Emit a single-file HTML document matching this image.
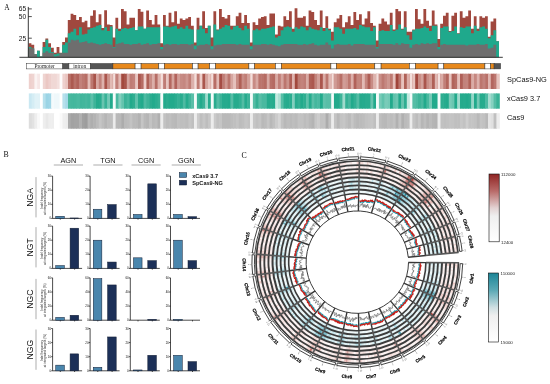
<!DOCTYPE html><html><head><meta charset="utf-8"><title>Figure</title>
<style>html,body{margin:0;padding:0;background:#fff}svg{display:block}text{font-family:"Liberation Sans",sans-serif}.se{font-family:"Liberation Serif",serif}.b{font-weight:bold}</style></head><body>
<svg width="550" height="384" viewBox="0 0 550 384">
<rect width="550" height="384" fill="#fff"/>
<g id="panelA">
<path d="M28.6 57.2V43.35 H31.4V44.8 H34.2V54.28 H37V50.64 H39.8V56.47 H42.6V41.89 H45.4V38.53 H48.2V43.35 H51V47.72 H53.8V52.82 H56.6V46.99 H59.4V52.82 H62.2V41.89 H65V37.51 H67.8V20.01 H70.6V13.74 H73.4V14.91 H76.2V20.01 H79V17.09 H81.8V22.2 H84.6V20.74 H87.4V27.3 H90.2V15.64 H93V10.24 H95.8V22.2 H98.6V14.18 H101.4V28.03 H104.2V10.24 H107V24.39 H109.8V25.12 H112.6V37.51 H115.4V17.82 H118.2V28.76 H121V9.07 H123.8V11.26 H126.6V24.39 H129.4V17.82 H132.2V17.82 H135V30.22 H137.8V9.07 H140.6V11.7 H143.4V28.76 H146.2V10.53 H149V20.01 H151.8V24.39 H154.6V14.91 H157.4V24.39 H160.2V43.35 H163V14.91 H165.8V25.85 H168.6V12.72 H171.4V22.2 H174.2V11.26 H177V23.66 H179.8V18.55 H182.6V20.01 H185.4V18.55 H188.2V17.09 H191V25.85 H193.8V42.62 H196.6V17.82 H199.4V25.85 H202.2V11.26 H205V28.03 H207.8V25.85 H210.6V37.51 H213.4V11.26 H216.2V29.49 H219V9.07 H221.8V17.09 H224.6V18.55 H227.4V14.91 H230.2V25.85 H233V25.85 H235.8V16.37 H238.6V12.72 H241.4V22.93 H244.2V14.91 H247V22.93 H249.8V42.62 H252.6V22.2 H255.4V25.12 H258.2V18.55 H261V17.09 H263.8V16.37 H266.6V25.12 H269.4V13.45 H272.2V13.45 H275V34.6 H277.8V25.85 H280.6V26.57 H283.4V16.37 H286.2V20.01 H289V11.26 H291.8V28.76 H294.6V8.34 H297.4V17.82 H300.2V17.82 H303V16.37 H305.8V25.85 H308.6V10.53 H311.4V11.99 H314.2V20.01 H317V25.12 H319.8V10.53 H322.6V28.03 H325.4V16.37 H328.2V28.76 H331V31.68 H333.8V22.2 H336.6V18.55 H339.4V14.91 H342.2V27.3 H345V22.2 H347.8V16.37 H350.6V25.12 H353.4V11.99 H356.2V20.01 H359V14.18 H361.8V24.39 H364.6V18.55 H367.4V11.26 H370.2V22.93 H373V25.85 H375.8V40.43 H378.6V23.66 H381.4V18.55 H384.2V21.47 H387V24.39 H389.8V12.72 H392.6V29.49 H395.4V9.07 H398.2V11.26 H401V28.76 H403.8V11.26 H406.6V31.68 H409.4V31.68 H412.2V29.49 H415V9.07 H417.8V19.28 H420.6V23.66 H423.4V9.07 H426.2V20.74 H429V25.85 H431.8V10.53 H434.6V24.39 H437.4V38.97 H440.2V23.66 H443V15.64 H445.8V12.72 H448.6V30.95 H451.4V15.64 H454.2V12.72 H457V33.14 H459.8V11.26 H462.6V17.82 H465.4V16.37 H468.2V10.53 H471V28.76 H473.8V16.37 H476.6V28.76 H479.4V16.37 H482.2V17.82 H485V16.37 H487.8V36.78 H490.6V21.47 H493.4V18.55 H496.2V41.16 H499V57.2Z" fill="#a0483e"/>
<path d="M28.6 57.2V46.99 H31.4V48.45 H34.2V54.28 H37V50.64 H39.8V56.47 H42.6V46.99 H45.4V39.7 H48.2V46.99 H51V52.1 H53.8V54.28 H56.6V53.55 H59.4V53.55 H62.2V44.8 H65V42.62 H67.8V33.14 H70.6V31.68 H73.4V28.76 H76.2V35.32 H79V27.3 H81.8V34.6 H84.6V33.87 H87.4V29.49 H90.2V28.03 H93V27.3 H95.8V25.85 H98.6V25.12 H101.4V30.22 H104.2V27.3 H107V30.95 H109.8V26.57 H112.6V46.99 H115.4V28.76 H118.2V30.95 H121V28.76 H123.8V28.03 H126.6V28.76 H129.4V28.03 H132.2V27.3 H135V30.22 H137.8V26.57 H140.6V26.57 H143.4V28.76 H146.2V27.3 H149V27.3 H151.8V27.3 H154.6V27.3 H157.4V27.3 H160.2V46.99 H163V26.57 H165.8V26.57 H168.6V27.3 H171.4V26.57 H174.2V25.85 H177V28.76 H179.8V27.3 H182.6V28.76 H185.4V25.85 H188.2V28.76 H191V29.49 H193.8V45.53 H196.6V29.49 H199.4V25.85 H202.2V28.76 H205V33.14 H207.8V25.85 H210.6V46.26 H213.4V24.39 H216.2V30.22 H219V28.76 H221.8V27.3 H224.6V25.12 H227.4V25.85 H230.2V29.49 H233V26.57 H235.8V25.85 H238.6V28.03 H241.4V30.22 H244.2V25.85 H247V28.76 H249.8V46.26 H252.6V30.22 H255.4V28.76 H258.2V30.22 H261V28.76 H263.8V28.76 H266.6V28.03 H269.4V27.3 H272.2V26.57 H275V37.51 H277.8V36.05 H280.6V30.22 H283.4V27.3 H286.2V26.57 H289V27.3 H291.8V31.68 H294.6V27.3 H297.4V28.76 H300.2V26.57 H303V27.3 H305.8V30.22 H308.6V27.3 H311.4V28.76 H314.2V29.49 H317V30.22 H319.8V27.3 H322.6V30.95 H325.4V28.03 H328.2V30.22 H331V40.43 H333.8V27.3 H336.6V27.3 H339.4V28.76 H342.2V33.87 H345V28.76 H347.8V28.76 H350.6V28.76 H353.4V28.03 H356.2V29.49 H359V25.12 H361.8V26.28 H364.6V27.3 H367.4V27.3 H370.2V30.95 H373V27.3 H375.8V46.99 H378.6V30.95 H381.4V30.22 H384.2V30.95 H387V30.95 H389.8V25.12 H392.6V30.95 H395.4V29.49 H398.2V24.39 H401V29.49 H403.8V27.3 H406.6V35.32 H409.4V39.7 H412.2V30.22 H415V28.76 H417.8V28.76 H420.6V28.03 H423.4V26.57 H426.2V28.03 H429V30.95 H431.8V25.85 H434.6V25.85 H437.4V46.99 H440.2V28.03 H443V26.57 H445.8V26.57 H448.6V31.68 H451.4V30.95 H454.2V26.57 H457V33.87 H459.8V27.3 H462.6V28.03 H465.4V26.57 H468.2V26.57 H471V33.14 H473.8V25.85 H476.6V30.95 H479.4V27.3 H482.2V26.57 H485V28.76 H487.8V38.24 H490.6V35.32 H493.4V30.22 H496.2V41.16 H499V57.2Z" fill="#1fa98c"/>
<path d="M28.6 57.2V48.16 H31.4V48.45 H34.2V54.28 H37V57.2 H39.8V56.76 H42.6V52.82 H45.4V51.37 H48.2V52.82 H51V52.82 H53.8V56.47 H56.6V55.74 H59.4V53.55 H62.2V52.82 H65V52.82 H67.8V42.62 H70.6V39.7 H73.4V40.43 H76.2V39.7 H79V42.62 H81.8V41.89 H84.6V41.16 H87.4V43.35 H90.2V42.62 H93V43.35 H95.8V44.07 H98.6V44.8 H101.4V44.07 H104.2V43.35 H107V44.07 H109.8V44.8 H112.6V47.72 H115.4V44.07 H118.2V43.35 H121V42.62 H123.8V44.07 H126.6V44.07 H129.4V44.8 H132.2V44.07 H135V44.07 H137.8V43.35 H140.6V44.8 H143.4V44.07 H146.2V43.35 H149V44.8 H151.8V44.07 H154.6V44.07 H157.4V43.35 H160.2V49.18 H163V44.8 H165.8V44.07 H168.6V44.8 H171.4V44.07 H174.2V44.07 H177V44.8 H179.8V44.07 H182.6V44.07 H185.4V44.07 H188.2V44.8 H191V44.07 H193.8V49.18 H196.6V45.53 H199.4V44.8 H202.2V44.8 H205V44.07 H207.8V44.8 H210.6V49.18 H213.4V45.53 H216.2V44.8 H219V44.8 H221.8V44.07 H224.6V44.07 H227.4V44.07 H230.2V44.07 H233V44.07 H235.8V44.8 H238.6V44.07 H241.4V44.8 H244.2V44.8 H247V44.8 H249.8V49.18 H252.6V44.8 H255.4V44.8 H258.2V44.8 H261V44.07 H263.8V44.07 H266.6V44.8 H269.4V44.07 H272.2V44.8 H275V45.53 H277.8V46.26 H280.6V44.8 H283.4V44.07 H286.2V44.07 H289V44.07 H291.8V44.07 H294.6V44.07 H297.4V44.8 H300.2V44.8 H303V44.07 H305.8V44.8 H308.6V44.07 H311.4V43.35 H314.2V44.8 H317V45.53 H319.8V44.8 H322.6V44.8 H325.4V42.62 H328.2V44.8 H331V48.45 H333.8V44.8 H336.6V44.07 H339.4V44.8 H342.2V44.8 H345V44.8 H347.8V44.07 H350.6V45.53 H353.4V44.07 H356.2V44.07 H359V44.07 H361.8V44.07 H364.6V44.8 H367.4V44.8 H370.2V44.8 H373V44.8 H375.8V48.45 H378.6V44.07 H381.4V44.07 H384.2V44.07 H387V44.07 H389.8V44.07 H392.6V44.8 H395.4V43.35 H398.2V44.8 H401V43.35 H403.8V44.07 H406.6V44.07 H409.4V47.72 H412.2V44.8 H415V44.07 H417.8V44.8 H420.6V43.35 H423.4V44.07 H426.2V43.35 H429V44.07 H431.8V43.35 H434.6V43.35 H437.4V49.18 H440.2V44.8 H443V44.07 H445.8V44.8 H448.6V44.8 H451.4V44.8 H454.2V44.8 H457V44.8 H459.8V44.8 H462.6V44.8 H465.4V45.53 H468.2V44.8 H471V44.8 H473.8V44.8 H476.6V44.07 H479.4V44.8 H482.2V44.8 H485V44.07 H487.8V48.45 H490.6V47.72 H493.4V44.8 H496.2V57.2 H499V57.2Z" fill="#6e6e6e"/>
<path d="M28.3 6.9V57.3M19.4 57.3H502.8" fill="none" stroke="#222" stroke-width="0.9"/>
<path d="M28.3 8.9 H31.8" stroke="#222" stroke-width="0.8"/>
<text x="26.2" y="11.25" font-size="6.6" text-anchor="end" fill="#111">65</text>
<path d="M28.3 16.6 H31.8" stroke="#222" stroke-width="0.8"/>
<text x="26.2" y="18.95" font-size="6.6" text-anchor="end" fill="#111">50</text>
<path d="M28.3 38.2 H31.8" stroke="#222" stroke-width="0.8"/>
<text x="26.2" y="40.55" font-size="6.6" text-anchor="end" fill="#111">25</text>
<text class="se" x="4.2" y="9.6" font-size="7.4" fill="#111">A</text>
<rect x="26.4" y="63.5" width="36.4" height="5.4" fill="#fff" stroke="#333" stroke-width="0.5"/>
<text class="se" x="44.6" y="67.8" font-size="5.4" text-anchor="middle" fill="#222">Promoter</text>
<rect x="62.8" y="63.5" width="6.1" height="5.4" fill="#555" stroke="#333" stroke-width="0.5"/>
<rect x="68.9" y="63.5" width="21.5" height="5.4" fill="#fff" stroke="#333" stroke-width="0.5"/>
<text class="se" x="79.65" y="67.8" font-size="5.4" text-anchor="middle" fill="#222">intron</text>
<rect x="90.4" y="63.5" width="22.5" height="5.4" fill="#555" stroke="#333" stroke-width="0.5"/>
<rect x="112.9" y="63.5" width="22.2" height="5.4" fill="#e8891c" stroke="#333" stroke-width="0.5"/>
<rect x="135.1" y="63.5" width="6" height="5.4" fill="#fff" stroke="#333" stroke-width="0.5"/>
<rect x="141.1" y="63.5" width="17.7" height="5.4" fill="#e8891c" stroke="#333" stroke-width="0.5"/>
<rect x="158.8" y="63.5" width="5.5" height="5.4" fill="#fff" stroke="#333" stroke-width="0.5"/>
<rect x="164.3" y="63.5" width="28.3" height="5.4" fill="#e8891c" stroke="#333" stroke-width="0.5"/>
<rect x="192.6" y="63.5" width="5.5" height="5.4" fill="#fff" stroke="#333" stroke-width="0.5"/>
<rect x="198.1" y="63.5" width="11.6" height="5.4" fill="#e8891c" stroke="#333" stroke-width="0.5"/>
<rect x="209.7" y="63.5" width="5.9" height="5.4" fill="#fff" stroke="#333" stroke-width="0.5"/>
<rect x="215.6" y="63.5" width="33.3" height="5.4" fill="#e8891c" stroke="#333" stroke-width="0.5"/>
<rect x="248.9" y="63.5" width="5.7" height="5.4" fill="#fff" stroke="#333" stroke-width="0.5"/>
<rect x="254.6" y="63.5" width="20.9" height="5.4" fill="#e8891c" stroke="#333" stroke-width="0.5"/>
<rect x="275.5" y="63.5" width="5.9" height="5.4" fill="#fff" stroke="#333" stroke-width="0.5"/>
<rect x="281.4" y="63.5" width="49.5" height="5.4" fill="#e8891c" stroke="#333" stroke-width="0.5"/>
<rect x="330.9" y="63.5" width="5.4" height="5.4" fill="#fff" stroke="#333" stroke-width="0.5"/>
<rect x="336.3" y="63.5" width="38.5" height="5.4" fill="#e8891c" stroke="#333" stroke-width="0.5"/>
<rect x="374.8" y="63.5" width="6.3" height="5.4" fill="#fff" stroke="#333" stroke-width="0.5"/>
<rect x="381.1" y="63.5" width="28.4" height="5.4" fill="#e8891c" stroke="#333" stroke-width="0.5"/>
<rect x="409.5" y="63.5" width="5.9" height="5.4" fill="#fff" stroke="#333" stroke-width="0.5"/>
<rect x="415.4" y="63.5" width="22.7" height="5.4" fill="#e8891c" stroke="#333" stroke-width="0.5"/>
<rect x="438.1" y="63.5" width="5.7" height="5.4" fill="#fff" stroke="#333" stroke-width="0.5"/>
<rect x="443.8" y="63.5" width="41.1" height="5.4" fill="#e8891c" stroke="#333" stroke-width="0.5"/>
<rect x="484.9" y="63.5" width="5.7" height="5.4" fill="#fff" stroke="#333" stroke-width="0.5"/>
<rect x="490.6" y="63.5" width="3.5" height="5.4" fill="#e8891c" stroke="#333" stroke-width="0.5"/>
<rect x="494.1" y="63.5" width="6.5" height="5.4" fill="#555" stroke="#333" stroke-width="0.5"/>
<defs><filter id="hb" x="-2%" y="-5%" width="104%" height="110%"><feGaussianBlur stdDeviation="0.6 0"/></filter></defs>
<g filter="url(#hb)">
<rect x="28.8" y="73.7" width="3.4" height="15.3" fill="#eed0cd"/>
<rect x="28.8" y="93.4" width="3.4" height="15.3" fill="#cae8f2"/>
<rect x="28.8" y="113.2" width="3.4" height="15.5" fill="#dddddd"/>
<rect x="31.6" y="73.7" width="3.4" height="15.3" fill="#efd4d1"/>
<rect x="31.6" y="93.4" width="3.4" height="15.3" fill="#d5edf4"/>
<rect x="31.6" y="113.2" width="3.4" height="15.5" fill="#e2e2e2"/>
<rect x="34.4" y="73.7" width="3.4" height="15.3" fill="#fbf3f2"/>
<rect x="34.4" y="93.4" width="3.4" height="15.3" fill="#e0f2f7"/>
<rect x="34.4" y="113.2" width="3.4" height="15.5" fill="#eeeeee"/>
<rect x="37.2" y="73.7" width="3.4" height="15.3" fill="#f6e7e6"/>
<rect x="37.2" y="93.4" width="3.4" height="15.3" fill="#e0f2f7"/>
<rect x="37.2" y="113.2" width="3.4" height="15.5" fill="#f9f9f9"/>
<rect x="40" y="73.7" width="3.4" height="15.3" fill="#ffffff"/>
<rect x="40" y="93.4" width="3.4" height="15.3" fill="#ffffff"/>
<rect x="40" y="113.2" width="3.4" height="15.5" fill="#ffffff"/>
<rect x="42.8" y="73.7" width="3.4" height="15.3" fill="#efd4d1"/>
<rect x="42.8" y="93.4" width="3.4" height="15.3" fill="#b6e0ec"/>
<rect x="42.8" y="113.2" width="3.4" height="15.5" fill="#eeeeee"/>
<rect x="45.6" y="73.7" width="3.4" height="15.3" fill="#ebc8c4"/>
<rect x="45.6" y="93.4" width="3.4" height="15.3" fill="#9bd4e5"/>
<rect x="45.6" y="113.2" width="3.4" height="15.5" fill="#e8e8e8"/>
<rect x="48.4" y="73.7" width="3.4" height="15.3" fill="#eed0cd"/>
<rect x="48.4" y="93.4" width="3.4" height="15.3" fill="#a0d6e7"/>
<rect x="48.4" y="113.2" width="3.4" height="15.5" fill="#eeeeee"/>
<rect x="51.2" y="73.7" width="3.4" height="15.3" fill="#f0d8d5"/>
<rect x="51.2" y="93.4" width="3.4" height="15.3" fill="#f4fafc"/>
<rect x="51.2" y="113.2" width="3.4" height="15.5" fill="#eeeeee"/>
<rect x="54" y="73.7" width="3.4" height="15.3" fill="#f0d8d5"/>
<rect x="54" y="93.4" width="3.4" height="15.3" fill="#eff8fb"/>
<rect x="54" y="113.2" width="3.4" height="15.5" fill="#ffffff"/>
<rect x="56.8" y="73.7" width="3.4" height="15.3" fill="#f3dfdd"/>
<rect x="56.8" y="93.4" width="3.4" height="15.3" fill="#eff8fb"/>
<rect x="56.8" y="113.2" width="3.4" height="15.5" fill="#ffffff"/>
<rect x="59.6" y="73.7" width="3.4" height="15.3" fill="#fefbfb"/>
<rect x="59.6" y="93.4" width="3.4" height="15.3" fill="#ffffff"/>
<rect x="59.6" y="113.2" width="3.4" height="15.5" fill="#f9f9f9"/>
<rect x="62.4" y="73.7" width="3.4" height="15.3" fill="#eed0cd"/>
<rect x="62.4" y="93.4" width="3.4" height="15.3" fill="#b6e0ec"/>
<rect x="62.4" y="113.2" width="3.4" height="15.5" fill="#eeeeee"/>
<rect x="65.2" y="73.7" width="3.4" height="15.3" fill="#e9c4c0"/>
<rect x="65.2" y="93.4" width="3.4" height="15.3" fill="#a6d9e8"/>
<rect x="65.2" y="113.2" width="3.4" height="15.5" fill="#ebebeb"/>
<rect x="68" y="73.7" width="3.4" height="15.3" fill="#b97169"/>
<rect x="68" y="93.4" width="3.4" height="15.3" fill="#49b89f"/>
<rect x="68" y="113.2" width="3.4" height="15.5" fill="#ababab"/>
<rect x="70.8" y="73.7" width="3.4" height="15.3" fill="#ac5a51"/>
<rect x="70.8" y="93.4" width="3.4" height="15.3" fill="#44b79d"/>
<rect x="70.8" y="113.2" width="3.4" height="15.5" fill="#a2a2a2"/>
<rect x="73.6" y="73.7" width="3.4" height="15.3" fill="#b97169"/>
<rect x="73.6" y="93.4" width="3.4" height="15.3" fill="#44b79d"/>
<rect x="73.6" y="113.2" width="3.4" height="15.5" fill="#a4a4a4"/>
<rect x="76.4" y="73.7" width="3.4" height="15.3" fill="#b1635b"/>
<rect x="76.4" y="93.4" width="3.4" height="15.3" fill="#4ab9a0"/>
<rect x="76.4" y="113.2" width="3.4" height="15.5" fill="#a4a4a4"/>
<rect x="79.2" y="73.7" width="3.4" height="15.3" fill="#c2817a"/>
<rect x="79.2" y="93.4" width="3.4" height="15.3" fill="#40b59b"/>
<rect x="79.2" y="113.2" width="3.4" height="15.5" fill="#b0b0b0"/>
<rect x="82" y="73.7" width="3.4" height="15.3" fill="#bc776f"/>
<rect x="82" y="93.4" width="3.4" height="15.3" fill="#43b69c"/>
<rect x="82" y="113.2" width="3.4" height="15.5" fill="#a1a1a1"/>
<rect x="84.8" y="73.7" width="3.4" height="15.3" fill="#b76e66"/>
<rect x="84.8" y="93.4" width="3.4" height="15.3" fill="#46b79e"/>
<rect x="84.8" y="113.2" width="3.4" height="15.5" fill="#9d9d9d"/>
<rect x="87.6" y="73.7" width="3.4" height="15.3" fill="#e2bbb6"/>
<rect x="87.6" y="93.4" width="3.4" height="15.3" fill="#40b59b"/>
<rect x="87.6" y="113.2" width="3.4" height="15.5" fill="#b6b6b6"/>
<rect x="90.4" y="73.7" width="3.4" height="15.3" fill="#bd7870"/>
<rect x="90.4" y="93.4" width="3.4" height="15.3" fill="#5cc0aa"/>
<rect x="90.4" y="113.2" width="3.4" height="15.5" fill="#aeaeae"/>
<rect x="93.2" y="73.7" width="3.4" height="15.3" fill="#a9544b"/>
<rect x="93.2" y="93.4" width="3.4" height="15.3" fill="#3cb499"/>
<rect x="93.2" y="113.2" width="3.4" height="15.5" fill="#b3b3b3"/>
<rect x="96" y="73.7" width="3.4" height="15.3" fill="#d8a8a3"/>
<rect x="96" y="93.4" width="3.4" height="15.3" fill="#26ab8d"/>
<rect x="96" y="113.2" width="3.4" height="15.5" fill="#bbbbbb"/>
<rect x="98.8" y="73.7" width="3.4" height="15.3" fill="#c2827b"/>
<rect x="98.8" y="93.4" width="3.4" height="15.3" fill="#29ac8f"/>
<rect x="98.8" y="113.2" width="3.4" height="15.5" fill="#c5c5c5"/>
<rect x="101.6" y="73.7" width="3.4" height="15.3" fill="#ddb2ad"/>
<rect x="101.6" y="93.4" width="3.4" height="15.3" fill="#67c4af"/>
<rect x="101.6" y="113.2" width="3.4" height="15.5" fill="#bdbdbd"/>
<rect x="104.4" y="73.7" width="3.4" height="15.3" fill="#ab574e"/>
<rect x="104.4" y="93.4" width="3.4" height="15.3" fill="#39b297"/>
<rect x="104.4" y="113.2" width="3.4" height="15.5" fill="#b5b5b5"/>
<rect x="107.2" y="73.7" width="3.4" height="15.3" fill="#cc938c"/>
<rect x="107.2" y="93.4" width="3.4" height="15.3" fill="#72c9b5"/>
<rect x="107.2" y="113.2" width="3.4" height="15.5" fill="#bdbdbd"/>
<rect x="110" y="73.7" width="3.4" height="15.3" fill="#e1bab4"/>
<rect x="110" y="93.4" width="3.4" height="15.3" fill="#24aa8c"/>
<rect x="110" y="113.2" width="3.4" height="15.5" fill="#bfbfbf"/>
<rect x="112.8" y="73.7" width="3.4" height="15.3" fill="#c2817a"/>
<rect x="112.8" y="93.4" width="3.4" height="15.3" fill="#f0faf7"/>
<rect x="112.8" y="113.2" width="3.4" height="15.5" fill="#dcdcdc"/>
<rect x="115.6" y="73.7" width="3.4" height="15.3" fill="#c2817a"/>
<rect x="115.6" y="93.4" width="3.4" height="15.3" fill="#49b9a0"/>
<rect x="115.6" y="113.2" width="3.4" height="15.5" fill="#b9b9b9"/>
<rect x="118.4" y="73.7" width="3.4" height="15.3" fill="#e2bab5"/>
<rect x="118.4" y="93.4" width="3.4" height="15.3" fill="#82cfbd"/>
<rect x="118.4" y="113.2" width="3.4" height="15.5" fill="#b8b8b8"/>
<rect x="121.2" y="73.7" width="3.4" height="15.3" fill="#a2483e"/>
<rect x="121.2" y="93.4" width="3.4" height="15.3" fill="#63c3ad"/>
<rect x="121.2" y="113.2" width="3.4" height="15.5" fill="#acacac"/>
<rect x="124" y="73.7" width="3.4" height="15.3" fill="#a9554b"/>
<rect x="124" y="93.4" width="3.4" height="15.3" fill="#3bb398"/>
<rect x="124" y="113.2" width="3.4" height="15.5" fill="#bababa"/>
<rect x="126.8" y="73.7" width="3.4" height="15.3" fill="#d5a49e"/>
<rect x="126.8" y="93.4" width="3.4" height="15.3" fill="#47b89f"/>
<rect x="126.8" y="113.2" width="3.4" height="15.5" fill="#bcbcbc"/>
<rect x="129.6" y="73.7" width="3.4" height="15.3" fill="#bf7b74"/>
<rect x="129.6" y="93.4" width="3.4" height="15.3" fill="#24aa8c"/>
<rect x="129.6" y="113.2" width="3.4" height="15.5" fill="#c3c3c3"/>
<rect x="132.4" y="73.7" width="3.4" height="15.3" fill="#c3827b"/>
<rect x="132.4" y="93.4" width="3.4" height="15.3" fill="#2eae91"/>
<rect x="132.4" y="113.2" width="3.4" height="15.5" fill="#bababa"/>
<rect x="135.2" y="73.7" width="3.4" height="15.3" fill="#e8c6c2"/>
<rect x="135.2" y="93.4" width="3.4" height="15.3" fill="#60c2ac"/>
<rect x="135.2" y="113.2" width="3.4" height="15.5" fill="#b9b9b9"/>
<rect x="138" y="73.7" width="3.4" height="15.3" fill="#ac5950"/>
<rect x="138" y="93.4" width="3.4" height="15.3" fill="#2aac8f"/>
<rect x="138" y="113.2" width="3.4" height="15.5" fill="#b2b2b2"/>
<rect x="140.8" y="73.7" width="3.4" height="15.3" fill="#b66c63"/>
<rect x="140.8" y="93.4" width="3.4" height="15.3" fill="#24aa8c"/>
<rect x="140.8" y="113.2" width="3.4" height="15.5" fill="#c5c5c5"/>
<rect x="143.6" y="73.7" width="3.4" height="15.3" fill="#edceca"/>
<rect x="143.6" y="93.4" width="3.4" height="15.3" fill="#4ebaa2"/>
<rect x="143.6" y="113.2" width="3.4" height="15.5" fill="#b9b9b9"/>
<rect x="146.4" y="73.7" width="3.4" height="15.3" fill="#af6057"/>
<rect x="146.4" y="93.4" width="3.4" height="15.3" fill="#3cb398"/>
<rect x="146.4" y="113.2" width="3.4" height="15.5" fill="#b5b5b5"/>
<rect x="149.2" y="73.7" width="3.4" height="15.3" fill="#c88d86"/>
<rect x="149.2" y="93.4" width="3.4" height="15.3" fill="#29ac8f"/>
<rect x="149.2" y="113.2" width="3.4" height="15.5" fill="#c3c3c3"/>
<rect x="152" y="73.7" width="3.4" height="15.3" fill="#dbafa9"/>
<rect x="152" y="93.4" width="3.4" height="15.3" fill="#24aa8c"/>
<rect x="152" y="113.2" width="3.4" height="15.5" fill="#b9b9b9"/>
<rect x="154.8" y="73.7" width="3.4" height="15.3" fill="#b76e66"/>
<rect x="154.8" y="93.4" width="3.4" height="15.3" fill="#2bad90"/>
<rect x="154.8" y="113.2" width="3.4" height="15.5" fill="#bcbcbc"/>
<rect x="157.6" y="73.7" width="3.4" height="15.3" fill="#ddb2ac"/>
<rect x="157.6" y="93.4" width="3.4" height="15.3" fill="#34b094"/>
<rect x="157.6" y="113.2" width="3.4" height="15.5" fill="#b0b0b0"/>
<rect x="160.4" y="73.7" width="3.4" height="15.3" fill="#dcafaa"/>
<rect x="160.4" y="93.4" width="3.4" height="15.3" fill="#f0faf7"/>
<rect x="160.4" y="113.2" width="3.4" height="15.5" fill="#f0f0f0"/>
<rect x="163.2" y="73.7" width="3.4" height="15.3" fill="#bf7b74"/>
<rect x="163.2" y="93.4" width="3.4" height="15.3" fill="#24aa8c"/>
<rect x="163.2" y="113.2" width="3.4" height="15.5" fill="#c2c2c2"/>
<rect x="166" y="73.7" width="3.4" height="15.3" fill="#e7c4c0"/>
<rect x="166" y="93.4" width="3.4" height="15.3" fill="#2aac8f"/>
<rect x="166" y="113.2" width="3.4" height="15.5" fill="#bcbcbc"/>
<rect x="168.8" y="73.7" width="3.4" height="15.3" fill="#b46860"/>
<rect x="168.8" y="93.4" width="3.4" height="15.3" fill="#24aa8c"/>
<rect x="168.8" y="113.2" width="3.4" height="15.5" fill="#bfbfbf"/>
<rect x="171.6" y="73.7" width="3.4" height="15.3" fill="#d5a39c"/>
<rect x="171.6" y="93.4" width="3.4" height="15.3" fill="#24aa8c"/>
<rect x="171.6" y="113.2" width="3.4" height="15.5" fill="#bababa"/>
<rect x="174.4" y="73.7" width="3.4" height="15.3" fill="#b2645b"/>
<rect x="174.4" y="93.4" width="3.4" height="15.3" fill="#29ac8f"/>
<rect x="174.4" y="113.2" width="3.4" height="15.5" fill="#b8b8b8"/>
<rect x="177.2" y="73.7" width="3.4" height="15.3" fill="#d19c96"/>
<rect x="177.2" y="93.4" width="3.4" height="15.3" fill="#34b094"/>
<rect x="177.2" y="113.2" width="3.4" height="15.5" fill="#c0c0c0"/>
<rect x="180" y="73.7" width="3.4" height="15.3" fill="#c78b84"/>
<rect x="180" y="93.4" width="3.4" height="15.3" fill="#29ac8f"/>
<rect x="180" y="113.2" width="3.4" height="15.5" fill="#bebebe"/>
<rect x="182.8" y="73.7" width="3.4" height="15.3" fill="#c58780"/>
<rect x="182.8" y="93.4" width="3.4" height="15.3" fill="#4ebaa2"/>
<rect x="182.8" y="113.2" width="3.4" height="15.5" fill="#bfbfbf"/>
<rect x="185.6" y="73.7" width="3.4" height="15.3" fill="#ce9690"/>
<rect x="185.6" y="93.4" width="3.4" height="15.3" fill="#28ac8e"/>
<rect x="185.6" y="113.2" width="3.4" height="15.5" fill="#bcbcbc"/>
<rect x="188.4" y="73.7" width="3.4" height="15.3" fill="#c07e76"/>
<rect x="188.4" y="93.4" width="3.4" height="15.3" fill="#3fb49a"/>
<rect x="188.4" y="113.2" width="3.4" height="15.5" fill="#c5c5c5"/>
<rect x="191.2" y="73.7" width="3.4" height="15.3" fill="#dcb0ab"/>
<rect x="191.2" y="93.4" width="3.4" height="15.3" fill="#59bfa8"/>
<rect x="191.2" y="113.2" width="3.4" height="15.5" fill="#bfbfbf"/>
<rect x="194" y="73.7" width="3.4" height="15.3" fill="#d9aaa4"/>
<rect x="194" y="93.4" width="3.4" height="15.3" fill="#ecf8f5"/>
<rect x="194" y="113.2" width="3.4" height="15.5" fill="#f0f0f0"/>
<rect x="196.8" y="73.7" width="3.4" height="15.3" fill="#bf7b73"/>
<rect x="196.8" y="93.4" width="3.4" height="15.3" fill="#3ab398"/>
<rect x="196.8" y="113.2" width="3.4" height="15.5" fill="#cbcbcb"/>
<rect x="199.6" y="73.7" width="3.4" height="15.3" fill="#edceca"/>
<rect x="199.6" y="93.4" width="3.4" height="15.3" fill="#24aa8c"/>
<rect x="199.6" y="113.2" width="3.4" height="15.5" fill="#bebebe"/>
<rect x="202.4" y="73.7" width="3.4" height="15.3" fill="#aa574d"/>
<rect x="202.4" y="93.4" width="3.4" height="15.3" fill="#39b297"/>
<rect x="202.4" y="113.2" width="3.4" height="15.5" fill="#c6c6c6"/>
<rect x="205.2" y="73.7" width="3.4" height="15.3" fill="#d6a6a0"/>
<rect x="205.2" y="93.4" width="3.4" height="15.3" fill="#9ddacc"/>
<rect x="205.2" y="113.2" width="3.4" height="15.5" fill="#bdbdbd"/>
<rect x="208" y="73.7" width="3.4" height="15.3" fill="#e7c4bf"/>
<rect x="208" y="93.4" width="3.4" height="15.3" fill="#28ac8e"/>
<rect x="208" y="113.2" width="3.4" height="15.5" fill="#c6c6c6"/>
<rect x="210.8" y="73.7" width="3.4" height="15.3" fill="#c3837b"/>
<rect x="210.8" y="93.4" width="3.4" height="15.3" fill="#effaf7"/>
<rect x="210.8" y="113.2" width="3.4" height="15.5" fill="#f0f0f0"/>
<rect x="213.6" y="73.7" width="3.4" height="15.3" fill="#b86e66"/>
<rect x="213.6" y="93.4" width="3.4" height="15.3" fill="#2aac8f"/>
<rect x="213.6" y="113.2" width="3.4" height="15.5" fill="#cacaca"/>
<rect x="216.4" y="73.7" width="3.4" height="15.3" fill="#e2bab5"/>
<rect x="216.4" y="93.4" width="3.4" height="15.3" fill="#53bca5"/>
<rect x="216.4" y="113.2" width="3.4" height="15.5" fill="#c1c1c1"/>
<rect x="219.2" y="73.7" width="3.4" height="15.3" fill="#a54e44"/>
<rect x="219.2" y="93.4" width="3.4" height="15.3" fill="#3ab398"/>
<rect x="219.2" y="113.2" width="3.4" height="15.5" fill="#c5c5c5"/>
<rect x="222" y="73.7" width="3.4" height="15.3" fill="#bf7c75"/>
<rect x="222" y="93.4" width="3.4" height="15.3" fill="#28ab8e"/>
<rect x="222" y="113.2" width="3.4" height="15.5" fill="#b9b9b9"/>
<rect x="224.8" y="73.7" width="3.4" height="15.3" fill="#cf9993"/>
<rect x="224.8" y="93.4" width="3.4" height="15.3" fill="#27ab8e"/>
<rect x="224.8" y="113.2" width="3.4" height="15.5" fill="#b9b9b9"/>
<rect x="227.6" y="73.7" width="3.4" height="15.3" fill="#bb756d"/>
<rect x="227.6" y="93.4" width="3.4" height="15.3" fill="#24aa8c"/>
<rect x="227.6" y="113.2" width="3.4" height="15.5" fill="#b9b9b9"/>
<rect x="230.4" y="73.7" width="3.4" height="15.3" fill="#d6a6a0"/>
<rect x="230.4" y="93.4" width="3.4" height="15.3" fill="#55bda6"/>
<rect x="230.4" y="113.2" width="3.4" height="15.5" fill="#bdbdbd"/>
<rect x="233.2" y="73.7" width="3.4" height="15.3" fill="#e5c1bc"/>
<rect x="233.2" y="93.4" width="3.4" height="15.3" fill="#26ab8d"/>
<rect x="233.2" y="113.2" width="3.4" height="15.5" fill="#bfbfbf"/>
<rect x="236" y="73.7" width="3.4" height="15.3" fill="#c88b84"/>
<rect x="236" y="93.4" width="3.4" height="15.3" fill="#27ab8d"/>
<rect x="236" y="113.2" width="3.4" height="15.5" fill="#c4c4c4"/>
<rect x="238.8" y="73.7" width="3.4" height="15.3" fill="#af6057"/>
<rect x="238.8" y="93.4" width="3.4" height="15.3" fill="#33b094"/>
<rect x="238.8" y="113.2" width="3.4" height="15.5" fill="#bcbcbc"/>
<rect x="241.6" y="73.7" width="3.4" height="15.3" fill="#c88c85"/>
<rect x="241.6" y="93.4" width="3.4" height="15.3" fill="#52bca4"/>
<rect x="241.6" y="113.2" width="3.4" height="15.5" fill="#bfbfbf"/>
<rect x="244.4" y="73.7" width="3.4" height="15.3" fill="#c07e76"/>
<rect x="244.4" y="93.4" width="3.4" height="15.3" fill="#27ab8e"/>
<rect x="244.4" y="113.2" width="3.4" height="15.5" fill="#c5c5c5"/>
<rect x="247.2" y="73.7" width="3.4" height="15.3" fill="#d3a09a"/>
<rect x="247.2" y="93.4" width="3.4" height="15.3" fill="#3cb399"/>
<rect x="247.2" y="113.2" width="3.4" height="15.5" fill="#c1c1c1"/>
<rect x="250" y="73.7" width="3.4" height="15.3" fill="#d6a59f"/>
<rect x="250" y="93.4" width="3.4" height="15.3" fill="#ecf8f5"/>
<rect x="250" y="113.2" width="3.4" height="15.5" fill="#efefef"/>
<rect x="252.8" y="73.7" width="3.4" height="15.3" fill="#c88b84"/>
<rect x="252.8" y="93.4" width="3.4" height="15.3" fill="#54bda5"/>
<rect x="252.8" y="113.2" width="3.4" height="15.5" fill="#c6c6c6"/>
<rect x="255.6" y="73.7" width="3.4" height="15.3" fill="#d8a8a2"/>
<rect x="255.6" y="93.4" width="3.4" height="15.3" fill="#34b094"/>
<rect x="255.6" y="113.2" width="3.4" height="15.5" fill="#c0c0c0"/>
<rect x="258.4" y="73.7" width="3.4" height="15.3" fill="#bb746c"/>
<rect x="258.4" y="93.4" width="3.4" height="15.3" fill="#58bea7"/>
<rect x="258.4" y="113.2" width="3.4" height="15.5" fill="#c5c5c5"/>
<rect x="261.2" y="73.7" width="3.4" height="15.3" fill="#ba736b"/>
<rect x="261.2" y="93.4" width="3.4" height="15.3" fill="#4ab9a0"/>
<rect x="261.2" y="113.2" width="3.4" height="15.5" fill="#b9b9b9"/>
<rect x="264" y="73.7" width="3.4" height="15.3" fill="#b66c64"/>
<rect x="264" y="93.4" width="3.4" height="15.3" fill="#4ab9a0"/>
<rect x="264" y="113.2" width="3.4" height="15.5" fill="#bcbcbc"/>
<rect x="266.8" y="73.7" width="3.4" height="15.3" fill="#d8a9a3"/>
<rect x="266.8" y="93.4" width="3.4" height="15.3" fill="#25ab8d"/>
<rect x="266.8" y="113.2" width="3.4" height="15.5" fill="#c5c5c5"/>
<rect x="269.6" y="73.7" width="3.4" height="15.3" fill="#b87068"/>
<rect x="269.6" y="93.4" width="3.4" height="15.3" fill="#2cad90"/>
<rect x="269.6" y="113.2" width="3.4" height="15.5" fill="#b8b8b8"/>
<rect x="272.4" y="73.7" width="3.4" height="15.3" fill="#b56b62"/>
<rect x="272.4" y="93.4" width="3.4" height="15.3" fill="#28ac8e"/>
<rect x="272.4" y="113.2" width="3.4" height="15.5" fill="#c0c0c0"/>
<rect x="275.2" y="73.7" width="3.4" height="15.3" fill="#d8a9a3"/>
<rect x="275.2" y="93.4" width="3.4" height="15.3" fill="#c4e9e0"/>
<rect x="275.2" y="113.2" width="3.4" height="15.5" fill="#cbcbcb"/>
<rect x="278" y="73.7" width="3.4" height="15.3" fill="#c17f78"/>
<rect x="278" y="93.4" width="3.4" height="15.3" fill="#acdfd3"/>
<rect x="278" y="113.2" width="3.4" height="15.5" fill="#d5d5d5"/>
<rect x="280.8" y="73.7" width="3.4" height="15.3" fill="#d5a49e"/>
<rect x="280.8" y="93.4" width="3.4" height="15.3" fill="#56bea6"/>
<rect x="280.8" y="113.2" width="3.4" height="15.5" fill="#c2c2c2"/>
<rect x="283.6" y="73.7" width="3.4" height="15.3" fill="#bc766e"/>
<rect x="283.6" y="93.4" width="3.4" height="15.3" fill="#29ac8f"/>
<rect x="283.6" y="113.2" width="3.4" height="15.5" fill="#b8b8b8"/>
<rect x="286.4" y="73.7" width="3.4" height="15.3" fill="#cb928b"/>
<rect x="286.4" y="93.4" width="3.4" height="15.3" fill="#28ab8e"/>
<rect x="286.4" y="113.2" width="3.4" height="15.5" fill="#bdbdbd"/>
<rect x="289.2" y="73.7" width="3.4" height="15.3" fill="#b06158"/>
<rect x="289.2" y="93.4" width="3.4" height="15.3" fill="#2bad90"/>
<rect x="289.2" y="113.2" width="3.4" height="15.5" fill="#bababa"/>
<rect x="292" y="73.7" width="3.4" height="15.3" fill="#deb3ae"/>
<rect x="292" y="93.4" width="3.4" height="15.3" fill="#83cfbe"/>
<rect x="292" y="113.2" width="3.4" height="15.5" fill="#bebebe"/>
<rect x="294.8" y="73.7" width="3.4" height="15.3" fill="#a2483e"/>
<rect x="294.8" y="93.4" width="3.4" height="15.3" fill="#2aac8f"/>
<rect x="294.8" y="113.2" width="3.4" height="15.5" fill="#bbbbbb"/>
<rect x="297.6" y="73.7" width="3.4" height="15.3" fill="#be7b73"/>
<rect x="297.6" y="93.4" width="3.4" height="15.3" fill="#34b094"/>
<rect x="297.6" y="113.2" width="3.4" height="15.5" fill="#c3c3c3"/>
<rect x="300.4" y="73.7" width="3.4" height="15.3" fill="#c3837c"/>
<rect x="300.4" y="93.4" width="3.4" height="15.3" fill="#24aa8c"/>
<rect x="300.4" y="113.2" width="3.4" height="15.5" fill="#c2c2c2"/>
<rect x="303.2" y="73.7" width="3.4" height="15.3" fill="#bf7b74"/>
<rect x="303.2" y="93.4" width="3.4" height="15.3" fill="#2eae91"/>
<rect x="303.2" y="113.2" width="3.4" height="15.5" fill="#bcbcbc"/>
<rect x="306" y="73.7" width="3.4" height="15.3" fill="#d9aaa4"/>
<rect x="306" y="93.4" width="3.4" height="15.3" fill="#5ec1aa"/>
<rect x="306" y="113.2" width="3.4" height="15.5" fill="#c0c0c0"/>
<rect x="308.8" y="73.7" width="3.4" height="15.3" fill="#af5f56"/>
<rect x="308.8" y="93.4" width="3.4" height="15.3" fill="#28ac8e"/>
<rect x="308.8" y="113.2" width="3.4" height="15.5" fill="#b9b9b9"/>
<rect x="311.6" y="73.7" width="3.4" height="15.3" fill="#ac5950"/>
<rect x="311.6" y="93.4" width="3.4" height="15.3" fill="#5abfa8"/>
<rect x="311.6" y="113.2" width="3.4" height="15.5" fill="#b4b4b4"/>
<rect x="314.4" y="73.7" width="3.4" height="15.3" fill="#c3847c"/>
<rect x="314.4" y="93.4" width="3.4" height="15.3" fill="#45b79d"/>
<rect x="314.4" y="113.2" width="3.4" height="15.5" fill="#c6c6c6"/>
<rect x="317.2" y="73.7" width="3.4" height="15.3" fill="#d39f99"/>
<rect x="317.2" y="93.4" width="3.4" height="15.3" fill="#4bb9a1"/>
<rect x="317.2" y="113.2" width="3.4" height="15.5" fill="#cccccc"/>
<rect x="320" y="73.7" width="3.4" height="15.3" fill="#aa564d"/>
<rect x="320" y="93.4" width="3.4" height="15.3" fill="#24aa8c"/>
<rect x="320" y="113.2" width="3.4" height="15.5" fill="#c2c2c2"/>
<rect x="322.8" y="73.7" width="3.4" height="15.3" fill="#daaca6"/>
<rect x="322.8" y="93.4" width="3.4" height="15.3" fill="#61c2ac"/>
<rect x="322.8" y="113.2" width="3.4" height="15.5" fill="#c3c3c3"/>
<rect x="325.6" y="73.7" width="3.4" height="15.3" fill="#bc766e"/>
<rect x="325.6" y="93.4" width="3.4" height="15.3" fill="#58bea7"/>
<rect x="325.6" y="113.2" width="3.4" height="15.5" fill="#acacac"/>
<rect x="328.4" y="73.7" width="3.4" height="15.3" fill="#e0b8b3"/>
<rect x="328.4" y="93.4" width="3.4" height="15.3" fill="#58bea7"/>
<rect x="328.4" y="113.2" width="3.4" height="15.5" fill="#c2c2c2"/>
<rect x="331.2" y="73.7" width="3.4" height="15.3" fill="#c78982"/>
<rect x="331.2" y="93.4" width="3.4" height="15.3" fill="#c1e7de"/>
<rect x="331.2" y="113.2" width="3.4" height="15.5" fill="#e6e6e6"/>
<rect x="334" y="73.7" width="3.4" height="15.3" fill="#d09b95"/>
<rect x="334" y="93.4" width="3.4" height="15.3" fill="#24aa8c"/>
<rect x="334" y="113.2" width="3.4" height="15.5" fill="#c4c4c4"/>
<rect x="336.8" y="73.7" width="3.4" height="15.3" fill="#c68881"/>
<rect x="336.8" y="93.4" width="3.4" height="15.3" fill="#24aa8c"/>
<rect x="336.8" y="113.2" width="3.4" height="15.5" fill="#b8b8b8"/>
<rect x="339.6" y="73.7" width="3.4" height="15.3" fill="#b87068"/>
<rect x="339.6" y="93.4" width="3.4" height="15.3" fill="#3db499"/>
<rect x="339.6" y="113.2" width="3.4" height="15.5" fill="#c3c3c3"/>
<rect x="342.4" y="73.7" width="3.4" height="15.3" fill="#d19d97"/>
<rect x="342.4" y="93.4" width="3.4" height="15.3" fill="#9fdacc"/>
<rect x="342.4" y="113.2" width="3.4" height="15.5" fill="#c6c6c6"/>
<rect x="345.2" y="73.7" width="3.4" height="15.3" fill="#cd948e"/>
<rect x="345.2" y="93.4" width="3.4" height="15.3" fill="#35b195"/>
<rect x="345.2" y="113.2" width="3.4" height="15.5" fill="#bfbfbf"/>
<rect x="348" y="73.7" width="3.4" height="15.3" fill="#bd7870"/>
<rect x="348" y="93.4" width="3.4" height="15.3" fill="#46b79e"/>
<rect x="348" y="113.2" width="3.4" height="15.5" fill="#bababa"/>
<rect x="350.8" y="73.7" width="3.4" height="15.3" fill="#dcafaa"/>
<rect x="350.8" y="93.4" width="3.4" height="15.3" fill="#24aa8c"/>
<rect x="350.8" y="113.2" width="3.4" height="15.5" fill="#c6c6c6"/>
<rect x="353.6" y="73.7" width="3.4" height="15.3" fill="#b1625a"/>
<rect x="353.6" y="93.4" width="3.4" height="15.3" fill="#33b094"/>
<rect x="353.6" y="113.2" width="3.4" height="15.5" fill="#bcbcbc"/>
<rect x="356.4" y="73.7" width="3.4" height="15.3" fill="#c4857d"/>
<rect x="356.4" y="93.4" width="3.4" height="15.3" fill="#52bca4"/>
<rect x="356.4" y="113.2" width="3.4" height="15.5" fill="#b8b8b8"/>
<rect x="359.2" y="73.7" width="3.4" height="15.3" fill="#c28179"/>
<rect x="359.2" y="93.4" width="3.4" height="15.3" fill="#25aa8c"/>
<rect x="359.2" y="113.2" width="3.4" height="15.5" fill="#bbbbbb"/>
<rect x="362" y="73.7" width="3.4" height="15.3" fill="#e1bab4"/>
<rect x="362" y="93.4" width="3.4" height="15.3" fill="#28ab8e"/>
<rect x="362" y="113.2" width="3.4" height="15.5" fill="#bdbdbd"/>
<rect x="364.8" y="73.7" width="3.4" height="15.3" fill="#c5867f"/>
<rect x="364.8" y="93.4" width="3.4" height="15.3" fill="#2aac8f"/>
<rect x="364.8" y="113.2" width="3.4" height="15.5" fill="#c2c2c2"/>
<rect x="367.6" y="73.7" width="3.4" height="15.3" fill="#af5f56"/>
<rect x="367.6" y="93.4" width="3.4" height="15.3" fill="#2aac8f"/>
<rect x="367.6" y="113.2" width="3.4" height="15.5" fill="#c4c4c4"/>
<rect x="370.4" y="73.7" width="3.4" height="15.3" fill="#c88c85"/>
<rect x="370.4" y="93.4" width="3.4" height="15.3" fill="#66c4af"/>
<rect x="370.4" y="113.2" width="3.4" height="15.5" fill="#c6c6c6"/>
<rect x="373.2" y="73.7" width="3.4" height="15.3" fill="#deb4ae"/>
<rect x="373.2" y="93.4" width="3.4" height="15.3" fill="#24aa8c"/>
<rect x="373.2" y="113.2" width="3.4" height="15.5" fill="#bfbfbf"/>
<rect x="376" y="73.7" width="3.4" height="15.3" fill="#d19c96"/>
<rect x="376" y="93.4" width="3.4" height="15.3" fill="#f0faf7"/>
<rect x="376" y="113.2" width="3.4" height="15.5" fill="#ebebeb"/>
<rect x="378.8" y="73.7" width="3.4" height="15.3" fill="#c98e87"/>
<rect x="378.8" y="93.4" width="3.4" height="15.3" fill="#77cbb8"/>
<rect x="378.8" y="113.2" width="3.4" height="15.5" fill="#bebebe"/>
<rect x="381.6" y="73.7" width="3.4" height="15.3" fill="#bd7971"/>
<rect x="381.6" y="93.4" width="3.4" height="15.3" fill="#61c2ac"/>
<rect x="381.6" y="113.2" width="3.4" height="15.5" fill="#b9b9b9"/>
<rect x="384.4" y="73.7" width="3.4" height="15.3" fill="#c68881"/>
<rect x="384.4" y="93.4" width="3.4" height="15.3" fill="#79cbb8"/>
<rect x="384.4" y="113.2" width="3.4" height="15.5" fill="#b8b8b8"/>
<rect x="387.2" y="73.7" width="3.4" height="15.3" fill="#cd968f"/>
<rect x="387.2" y="93.4" width="3.4" height="15.3" fill="#72c9b5"/>
<rect x="387.2" y="113.2" width="3.4" height="15.5" fill="#bebebe"/>
<rect x="390" y="73.7" width="3.4" height="15.3" fill="#be7a72"/>
<rect x="390" y="93.4" width="3.4" height="15.3" fill="#24aa8c"/>
<rect x="390" y="113.2" width="3.4" height="15.5" fill="#bcbcbc"/>
<rect x="392.8" y="73.7" width="3.4" height="15.3" fill="#e5c1bc"/>
<rect x="392.8" y="93.4" width="3.4" height="15.3" fill="#61c2ac"/>
<rect x="392.8" y="113.2" width="3.4" height="15.5" fill="#c1c1c1"/>
<rect x="395.6" y="73.7" width="3.4" height="15.3" fill="#a0443a"/>
<rect x="395.6" y="93.4" width="3.4" height="15.3" fill="#6bc6b1"/>
<rect x="395.6" y="113.2" width="3.4" height="15.5" fill="#b1b1b1"/>
<rect x="398.4" y="73.7" width="3.4" height="15.3" fill="#bb756d"/>
<rect x="398.4" y="93.4" width="3.4" height="15.3" fill="#24aa8c"/>
<rect x="398.4" y="113.2" width="3.4" height="15.5" fill="#c3c3c3"/>
<rect x="401.2" y="73.7" width="3.4" height="15.3" fill="#e7c3be"/>
<rect x="401.2" y="93.4" width="3.4" height="15.3" fill="#66c4ae"/>
<rect x="401.2" y="113.2" width="3.4" height="15.5" fill="#b0b0b0"/>
<rect x="404" y="73.7" width="3.4" height="15.3" fill="#b06259"/>
<rect x="404" y="93.4" width="3.4" height="15.3" fill="#2dad91"/>
<rect x="404" y="113.2" width="3.4" height="15.5" fill="#bbbbbb"/>
<rect x="406.8" y="73.7" width="3.4" height="15.3" fill="#dbaea9"/>
<rect x="406.8" y="93.4" width="3.4" height="15.3" fill="#c1e8de"/>
<rect x="406.8" y="113.2" width="3.4" height="15.5" fill="#bebebe"/>
<rect x="409.6" y="73.7" width="3.4" height="15.3" fill="#cc948d"/>
<rect x="409.6" y="93.4" width="3.4" height="15.3" fill="#caebe3"/>
<rect x="409.6" y="113.2" width="3.4" height="15.5" fill="#e1e1e1"/>
<rect x="412.4" y="73.7" width="3.4" height="15.3" fill="#e7c4bf"/>
<rect x="412.4" y="93.4" width="3.4" height="15.3" fill="#54bda5"/>
<rect x="412.4" y="113.2" width="3.4" height="15.5" fill="#c4c4c4"/>
<rect x="415.2" y="73.7" width="3.4" height="15.3" fill="#a34a40"/>
<rect x="415.2" y="93.4" width="3.4" height="15.3" fill="#4cbaa1"/>
<rect x="415.2" y="113.2" width="3.4" height="15.5" fill="#bcbcbc"/>
<rect x="418" y="73.7" width="3.4" height="15.3" fill="#c88c84"/>
<rect x="418" y="93.4" width="3.4" height="15.3" fill="#3cb398"/>
<rect x="418" y="113.2" width="3.4" height="15.5" fill="#c6c6c6"/>
<rect x="420.8" y="73.7" width="3.4" height="15.3" fill="#d4a29c"/>
<rect x="420.8" y="93.4" width="3.4" height="15.3" fill="#48b89f"/>
<rect x="420.8" y="113.2" width="3.4" height="15.5" fill="#b6b6b6"/>
<rect x="423.6" y="73.7" width="3.4" height="15.3" fill="#aa564d"/>
<rect x="423.6" y="93.4" width="3.4" height="15.3" fill="#24aa8c"/>
<rect x="423.6" y="113.2" width="3.4" height="15.5" fill="#bebebe"/>
<rect x="426.4" y="73.7" width="3.4" height="15.3" fill="#c98e87"/>
<rect x="426.4" y="93.4" width="3.4" height="15.3" fill="#49b99f"/>
<rect x="426.4" y="113.2" width="3.4" height="15.5" fill="#b4b4b4"/>
<rect x="429.2" y="73.7" width="3.4" height="15.3" fill="#d19c95"/>
<rect x="429.2" y="93.4" width="3.4" height="15.3" fill="#76cab7"/>
<rect x="429.2" y="113.2" width="3.4" height="15.5" fill="#bbbbbb"/>
<rect x="432" y="73.7" width="3.4" height="15.3" fill="#af6057"/>
<rect x="432" y="93.4" width="3.4" height="15.3" fill="#24aa8c"/>
<rect x="432" y="113.2" width="3.4" height="15.5" fill="#b5b5b5"/>
<rect x="434.8" y="73.7" width="3.4" height="15.3" fill="#dfb6b1"/>
<rect x="434.8" y="93.4" width="3.4" height="15.3" fill="#24aa8c"/>
<rect x="434.8" y="113.2" width="3.4" height="15.5" fill="#b3b3b3"/>
<rect x="437.6" y="73.7" width="3.4" height="15.3" fill="#ca8f88"/>
<rect x="437.6" y="93.4" width="3.4" height="15.3" fill="#f0faf7"/>
<rect x="437.6" y="113.2" width="3.4" height="15.5" fill="#f0f0f0"/>
<rect x="440.4" y="73.7" width="3.4" height="15.3" fill="#d9aba5"/>
<rect x="440.4" y="93.4" width="3.4" height="15.3" fill="#2dae91"/>
<rect x="440.4" y="113.2" width="3.4" height="15.5" fill="#c1c1c1"/>
<rect x="443.2" y="73.7" width="3.4" height="15.3" fill="#c17f78"/>
<rect x="443.2" y="93.4" width="3.4" height="15.3" fill="#28ac8e"/>
<rect x="443.2" y="113.2" width="3.4" height="15.5" fill="#bfbfbf"/>
<rect x="446" y="73.7" width="3.4" height="15.3" fill="#b3665d"/>
<rect x="446" y="93.4" width="3.4" height="15.3" fill="#24aa8c"/>
<rect x="446" y="113.2" width="3.4" height="15.5" fill="#c1c1c1"/>
<rect x="448.8" y="73.7" width="3.4" height="15.3" fill="#e7c4bf"/>
<rect x="448.8" y="93.4" width="3.4" height="15.3" fill="#78cbb8"/>
<rect x="448.8" y="113.2" width="3.4" height="15.5" fill="#c4c4c4"/>
<rect x="451.6" y="73.7" width="3.4" height="15.3" fill="#b1635a"/>
<rect x="451.6" y="93.4" width="3.4" height="15.3" fill="#6bc6b1"/>
<rect x="451.6" y="113.2" width="3.4" height="15.5" fill="#c3c3c3"/>
<rect x="454.4" y="73.7" width="3.4" height="15.3" fill="#b76e66"/>
<rect x="454.4" y="93.4" width="3.4" height="15.3" fill="#24aa8c"/>
<rect x="454.4" y="113.2" width="3.4" height="15.5" fill="#bfbfbf"/>
<rect x="457.2" y="73.7" width="3.4" height="15.3" fill="#e5c0bb"/>
<rect x="457.2" y="93.4" width="3.4" height="15.3" fill="#9fdacc"/>
<rect x="457.2" y="113.2" width="3.4" height="15.5" fill="#bfbfbf"/>
<rect x="460" y="73.7" width="3.4" height="15.3" fill="#b06158"/>
<rect x="460" y="93.4" width="3.4" height="15.3" fill="#26ab8d"/>
<rect x="460" y="113.2" width="3.4" height="15.5" fill="#c7c7c7"/>
<rect x="462.8" y="73.7" width="3.4" height="15.3" fill="#c2827a"/>
<rect x="462.8" y="93.4" width="3.4" height="15.3" fill="#28ac8e"/>
<rect x="462.8" y="113.2" width="3.4" height="15.5" fill="#c2c2c2"/>
<rect x="465.6" y="73.7" width="3.4" height="15.3" fill="#c4847d"/>
<rect x="465.6" y="93.4" width="3.4" height="15.3" fill="#24aa8c"/>
<rect x="465.6" y="113.2" width="3.4" height="15.5" fill="#cecece"/>
<rect x="468.4" y="73.7" width="3.4" height="15.3" fill="#b06259"/>
<rect x="468.4" y="93.4" width="3.4" height="15.3" fill="#29ac8f"/>
<rect x="468.4" y="113.2" width="3.4" height="15.5" fill="#c3c3c3"/>
<rect x="471.2" y="73.7" width="3.4" height="15.3" fill="#daaca6"/>
<rect x="471.2" y="93.4" width="3.4" height="15.3" fill="#95d6c7"/>
<rect x="471.2" y="113.2" width="3.4" height="15.5" fill="#c4c4c4"/>
<rect x="474" y="73.7" width="3.4" height="15.3" fill="#c68881"/>
<rect x="474" y="93.4" width="3.4" height="15.3" fill="#24aa8c"/>
<rect x="474" y="113.2" width="3.4" height="15.5" fill="#c2c2c2"/>
<rect x="476.8" y="73.7" width="3.4" height="15.3" fill="#ddb1ac"/>
<rect x="476.8" y="93.4" width="3.4" height="15.3" fill="#73c9b5"/>
<rect x="476.8" y="113.2" width="3.4" height="15.5" fill="#b9b9b9"/>
<rect x="479.6" y="73.7" width="3.4" height="15.3" fill="#bc766e"/>
<rect x="479.6" y="93.4" width="3.4" height="15.3" fill="#25ab8d"/>
<rect x="479.6" y="113.2" width="3.4" height="15.5" fill="#c4c4c4"/>
<rect x="482.4" y="73.7" width="3.4" height="15.3" fill="#c2827b"/>
<rect x="482.4" y="93.4" width="3.4" height="15.3" fill="#28ac8e"/>
<rect x="482.4" y="113.2" width="3.4" height="15.5" fill="#c1c1c1"/>
<rect x="485.2" y="73.7" width="3.4" height="15.3" fill="#b97169"/>
<rect x="485.2" y="93.4" width="3.4" height="15.3" fill="#4ebaa2"/>
<rect x="485.2" y="113.2" width="3.4" height="15.5" fill="#b8b8b8"/>
<rect x="488" y="73.7" width="3.4" height="15.3" fill="#dfb5b0"/>
<rect x="488" y="93.4" width="3.4" height="15.3" fill="#a6ddd0"/>
<rect x="488" y="113.2" width="3.4" height="15.5" fill="#e5e5e5"/>
<rect x="490.8" y="73.7" width="3.4" height="15.3" fill="#b3665e"/>
<rect x="490.8" y="93.4" width="3.4" height="15.3" fill="#86d1c0"/>
<rect x="490.8" y="113.2" width="3.4" height="15.5" fill="#e0e0e0"/>
<rect x="493.6" y="73.7" width="3.4" height="15.3" fill="#bd7770"/>
<rect x="493.6" y="93.4" width="3.4" height="15.3" fill="#54bda5"/>
<rect x="493.6" y="113.2" width="3.4" height="15.5" fill="#c0c0c0"/>
<rect x="496.4" y="73.7" width="3.4" height="15.3" fill="#e7c4bf"/>
<rect x="496.4" y="93.4" width="3.4" height="15.3" fill="#37b296"/>
<rect x="496.4" y="113.2" width="3.4" height="15.5" fill="#ededed"/>
</g>
<rect x="113.1" y="93.4" width="2.2" height="15.3" fill="#f4fbfa"/>
<rect x="113.1" y="113.2" width="2.2" height="15.5" fill="#ececec"/>
<rect x="113.1" y="73.7" width="2.2" height="15.3" fill="#f3dedb"/>
<rect x="160.7" y="93.4" width="2.2" height="15.3" fill="#f4fbfa"/>
<rect x="160.7" y="113.2" width="2.2" height="15.5" fill="#ececec"/>
<rect x="160.7" y="73.7" width="2.2" height="15.3" fill="#f3dedb"/>
<rect x="194.3" y="93.4" width="2.2" height="15.3" fill="#f4fbfa"/>
<rect x="194.3" y="113.2" width="2.2" height="15.5" fill="#ececec"/>
<rect x="194.3" y="73.7" width="2.2" height="15.3" fill="#f3dedb"/>
<rect x="211.1" y="93.4" width="2.2" height="15.3" fill="#f4fbfa"/>
<rect x="211.1" y="113.2" width="2.2" height="15.5" fill="#ececec"/>
<rect x="211.1" y="73.7" width="2.2" height="15.3" fill="#f3dedb"/>
<rect x="250.3" y="93.4" width="2.2" height="15.3" fill="#f4fbfa"/>
<rect x="250.3" y="113.2" width="2.2" height="15.5" fill="#ececec"/>
<rect x="250.3" y="73.7" width="2.2" height="15.3" fill="#f3dedb"/>
<rect x="331.5" y="93.4" width="2.2" height="15.3" fill="#f4fbfa"/>
<rect x="331.5" y="113.2" width="2.2" height="15.5" fill="#ececec"/>
<rect x="331.5" y="73.7" width="2.2" height="15.3" fill="#f3dedb"/>
<rect x="376.3" y="93.4" width="2.2" height="15.3" fill="#f4fbfa"/>
<rect x="376.3" y="113.2" width="2.2" height="15.5" fill="#ececec"/>
<rect x="376.3" y="73.7" width="2.2" height="15.3" fill="#f3dedb"/>
<rect x="409.9" y="93.4" width="2.2" height="15.3" fill="#f4fbfa"/>
<rect x="409.9" y="113.2" width="2.2" height="15.5" fill="#ececec"/>
<rect x="409.9" y="73.7" width="2.2" height="15.3" fill="#f3dedb"/>
<rect x="437.9" y="93.4" width="2.2" height="15.3" fill="#f4fbfa"/>
<rect x="437.9" y="113.2" width="2.2" height="15.5" fill="#ececec"/>
<rect x="437.9" y="73.7" width="2.2" height="15.3" fill="#f3dedb"/>
<text x="507" y="81.6" font-size="7.4" fill="#111">SpCas9-NG</text>
<text x="507" y="100.8" font-size="7.4" fill="#111">xCas9 3.7</text>
<text x="507" y="120.4" font-size="7.4" fill="#111">Cas9</text>
</g>
<g id="panelB">
<text class="se" x="3.6" y="157.1" font-size="7.8" fill="#111">B</text>
<text x="68.4" y="163.1" font-size="7.3" text-anchor="middle" fill="#111">AGN</text>
<path d="M53.8 165 H83" stroke="#777" stroke-width="0.6"/>
<text x="107.9" y="163.1" font-size="7.3" text-anchor="middle" fill="#111">TGN</text>
<path d="M93.3 165 H122.5" stroke="#777" stroke-width="0.6"/>
<text x="146.1" y="163.1" font-size="7.3" text-anchor="middle" fill="#111">CGN</text>
<path d="M131.5 165 H160.7" stroke="#777" stroke-width="0.6"/>
<text x="186.3" y="163.1" font-size="7.3" text-anchor="middle" fill="#111">GGN</text>
<path d="M171.7 165 H200.9" stroke="#777" stroke-width="0.6"/>
<text transform="translate(33.4,197.25) rotate(-90)" font-size="8.7" text-anchor="middle" fill="#111">NGA</text>
<path d="M36 177.1 V217.4" stroke="#777" stroke-width="0.6"/>
<text transform="translate(43.2,198.25) rotate(-90) scale(0.1)" font-size="31" text-anchor="middle" fill="#333">Indel frequency</text>
<text transform="translate(45.9,198.25) rotate(-90) scale(0.1)" font-size="31" text-anchor="middle" fill="#333">at integrated targets (%)</text>
<path d="M52.6 176.1 V218.4 H82.1M52.6 176.1 h-1.4M52.6 190.2 h-1.4M52.6 204.3 h-1.4M52.6 218.4 h-1.4M60.3 218.4 v1.2M74.6 218.4 v1.2" fill="none" stroke="#111" stroke-width="0.75"/>
<text transform="translate(51,177.1) scale(0.1)" font-size="29" text-anchor="end" fill="#111">30</text>
<text transform="translate(51,191.2) scale(0.1)" font-size="29" text-anchor="end" fill="#111">20</text>
<text transform="translate(51,205.3) scale(0.1)" font-size="29" text-anchor="end" fill="#111">10</text>
<text transform="translate(51,219.4) scale(0.1)" font-size="29" text-anchor="end" fill="#111">0</text>
<rect x="55.75" y="216.28" width="8.6" height="2.11" fill="#4a86ad" stroke="#111c33" stroke-width="0.5"/>
<rect x="70.1" y="217.98" width="8.6" height="0.42" fill="#1c3058" stroke="#111c33" stroke-width="0.5"/>
<path d="M90.1 176.1 V218.4 H119.6M90.1 176.1 h-1.4M90.1 190.2 h-1.4M90.1 204.3 h-1.4M90.1 218.4 h-1.4M97.8 218.4 v1.2M112.1 218.4 v1.2" fill="none" stroke="#111" stroke-width="0.75"/>
<text transform="translate(88.5,177.1) scale(0.1)" font-size="29" text-anchor="end" fill="#111">30</text>
<text transform="translate(88.5,191.2) scale(0.1)" font-size="29" text-anchor="end" fill="#111">20</text>
<text transform="translate(88.5,205.3) scale(0.1)" font-size="29" text-anchor="end" fill="#111">10</text>
<text transform="translate(88.5,219.4) scale(0.1)" font-size="29" text-anchor="end" fill="#111">0</text>
<rect x="93.25" y="209.23" width="8.6" height="9.16" fill="#4a86ad" stroke="#111c33" stroke-width="0.5"/>
<rect x="107.6" y="204.58" width="8.6" height="13.82" fill="#1c3058" stroke="#111c33" stroke-width="0.5"/>
<path d="M130.3 176.1 V218.4 H159.8M130.3 176.1 h-1.4M130.3 190.2 h-1.4M130.3 204.3 h-1.4M130.3 218.4 h-1.4M138 218.4 v1.2M152.3 218.4 v1.2" fill="none" stroke="#111" stroke-width="0.75"/>
<text transform="translate(128.7,177.1) scale(0.1)" font-size="29" text-anchor="end" fill="#111">30</text>
<text transform="translate(128.7,191.2) scale(0.1)" font-size="29" text-anchor="end" fill="#111">20</text>
<text transform="translate(128.7,205.3) scale(0.1)" font-size="29" text-anchor="end" fill="#111">10</text>
<text transform="translate(128.7,219.4) scale(0.1)" font-size="29" text-anchor="end" fill="#111">0</text>
<rect x="133.45" y="214.45" width="8.6" height="3.95" fill="#4a86ad" stroke="#111c33" stroke-width="0.5"/>
<rect x="147.8" y="183.85" width="8.6" height="34.54" fill="#1c3058" stroke="#111c33" stroke-width="0.5"/>
<path d="M170.5 176.1 V218.4 H200M170.5 176.1 h-1.4M170.5 190.2 h-1.4M170.5 204.3 h-1.4M170.5 218.4 h-1.4M178.2 218.4 v1.2M192.5 218.4 v1.2" fill="none" stroke="#111" stroke-width="0.75"/>
<text transform="translate(168.9,177.1) scale(0.1)" font-size="29" text-anchor="end" fill="#111">30</text>
<text transform="translate(168.9,191.2) scale(0.1)" font-size="29" text-anchor="end" fill="#111">20</text>
<text transform="translate(168.9,205.3) scale(0.1)" font-size="29" text-anchor="end" fill="#111">10</text>
<text transform="translate(168.9,219.4) scale(0.1)" font-size="29" text-anchor="end" fill="#111">0</text>
<rect x="173.65" y="214.45" width="8.6" height="3.95" fill="#4a86ad" stroke="#111c33" stroke-width="0.5"/>
<rect x="188" y="216.71" width="8.6" height="1.69" fill="#1c3058" stroke="#111c33" stroke-width="0.5"/>
<text transform="translate(33.4,247.25) rotate(-90)" font-size="8.7" text-anchor="middle" fill="#111">NGT</text>
<path d="M36 227.1 V267.4" stroke="#777" stroke-width="0.6"/>
<text transform="translate(43.2,248.25) rotate(-90) scale(0.1)" font-size="31" text-anchor="middle" fill="#333">Indel frequency</text>
<text transform="translate(45.9,248.25) rotate(-90) scale(0.1)" font-size="31" text-anchor="middle" fill="#333">at integrated targets (%)</text>
<path d="M52.6 226.1 V268.4 H82.1M52.6 226.1 h-1.4M52.6 240.2 h-1.4M52.6 254.3 h-1.4M52.6 268.4 h-1.4M60.3 268.4 v1.2M74.6 268.4 v1.2" fill="none" stroke="#111" stroke-width="0.75"/>
<text transform="translate(51,227.1) scale(0.1)" font-size="29" text-anchor="end" fill="#111">30</text>
<text transform="translate(51,241.2) scale(0.1)" font-size="29" text-anchor="end" fill="#111">20</text>
<text transform="translate(51,255.3) scale(0.1)" font-size="29" text-anchor="end" fill="#111">10</text>
<text transform="translate(51,269.4) scale(0.1)" font-size="29" text-anchor="end" fill="#111">0</text>
<rect x="55.75" y="265.58" width="8.6" height="2.82" fill="#4a86ad" stroke="#111c33" stroke-width="0.5"/>
<rect x="70.1" y="228.21" width="8.6" height="40.18" fill="#1c3058" stroke="#111c33" stroke-width="0.5"/>
<path d="M90.1 226.1 V268.4 H119.6M90.1 226.1 h-1.4M90.1 240.2 h-1.4M90.1 254.3 h-1.4M90.1 268.4 h-1.4M97.8 268.4 v1.2M112.1 268.4 v1.2" fill="none" stroke="#111" stroke-width="0.75"/>
<text transform="translate(88.5,227.1) scale(0.1)" font-size="29" text-anchor="end" fill="#111">30</text>
<text transform="translate(88.5,241.2) scale(0.1)" font-size="29" text-anchor="end" fill="#111">20</text>
<text transform="translate(88.5,255.3) scale(0.1)" font-size="29" text-anchor="end" fill="#111">10</text>
<text transform="translate(88.5,269.4) scale(0.1)" font-size="29" text-anchor="end" fill="#111">0</text>
<rect x="93.25" y="240.2" width="8.6" height="28.2" fill="#4a86ad" stroke="#111c33" stroke-width="0.5"/>
<rect x="107.6" y="262.05" width="8.6" height="6.34" fill="#1c3058" stroke="#111c33" stroke-width="0.5"/>
<path d="M130.3 226.1 V268.4 H159.8M130.3 226.1 h-1.4M130.3 240.2 h-1.4M130.3 254.3 h-1.4M130.3 268.4 h-1.4M138 268.4 v1.2M152.3 268.4 v1.2" fill="none" stroke="#111" stroke-width="0.75"/>
<text transform="translate(128.7,227.1) scale(0.1)" font-size="29" text-anchor="end" fill="#111">30</text>
<text transform="translate(128.7,241.2) scale(0.1)" font-size="29" text-anchor="end" fill="#111">20</text>
<text transform="translate(128.7,255.3) scale(0.1)" font-size="29" text-anchor="end" fill="#111">10</text>
<text transform="translate(128.7,269.4) scale(0.1)" font-size="29" text-anchor="end" fill="#111">0</text>
<rect x="133.45" y="257.82" width="8.6" height="10.57" fill="#4a86ad" stroke="#111c33" stroke-width="0.5"/>
<rect x="147.8" y="260.64" width="8.6" height="7.75" fill="#1c3058" stroke="#111c33" stroke-width="0.5"/>
<path d="M170.5 226.1 V268.4 H200M170.5 226.1 h-1.4M170.5 240.2 h-1.4M170.5 254.3 h-1.4M170.5 268.4 h-1.4M178.2 268.4 v1.2M192.5 268.4 v1.2" fill="none" stroke="#111" stroke-width="0.75"/>
<text transform="translate(168.9,227.1) scale(0.1)" font-size="29" text-anchor="end" fill="#111">30</text>
<text transform="translate(168.9,241.2) scale(0.1)" font-size="29" text-anchor="end" fill="#111">20</text>
<text transform="translate(168.9,255.3) scale(0.1)" font-size="29" text-anchor="end" fill="#111">10</text>
<text transform="translate(168.9,269.4) scale(0.1)" font-size="29" text-anchor="end" fill="#111">0</text>
<rect x="173.65" y="240.2" width="8.6" height="28.2" fill="#4a86ad" stroke="#111c33" stroke-width="0.5"/>
<rect x="188" y="260.64" width="8.6" height="7.75" fill="#1c3058" stroke="#111c33" stroke-width="0.5"/>
<text transform="translate(33.4,299.05) rotate(-90)" font-size="8.7" text-anchor="middle" fill="#111">NGC</text>
<path d="M36 278.9 V319.2" stroke="#777" stroke-width="0.6"/>
<text transform="translate(43.2,300.05) rotate(-90) scale(0.1)" font-size="31" text-anchor="middle" fill="#333">Indel frequency</text>
<text transform="translate(45.9,300.05) rotate(-90) scale(0.1)" font-size="31" text-anchor="middle" fill="#333">at integrated targets (%)</text>
<path d="M52.6 277.9 V320.2 H82.1M52.6 277.9 h-1.4M52.6 292 h-1.4M52.6 306.1 h-1.4M52.6 320.2 h-1.4M60.3 320.2 v1.2M74.6 320.2 v1.2" fill="none" stroke="#111" stroke-width="0.75"/>
<text transform="translate(51,278.9) scale(0.1)" font-size="29" text-anchor="end" fill="#111">60</text>
<text transform="translate(51,293) scale(0.1)" font-size="29" text-anchor="end" fill="#111">40</text>
<text transform="translate(51,307.1) scale(0.1)" font-size="29" text-anchor="end" fill="#111">20</text>
<text transform="translate(51,321.2) scale(0.1)" font-size="29" text-anchor="end" fill="#111">0</text>
<rect x="55.75" y="317.38" width="8.6" height="2.82" fill="#4a86ad" stroke="#111c33" stroke-width="0.5"/>
<rect x="70.1" y="315.26" width="8.6" height="4.93" fill="#1c3058" stroke="#111c33" stroke-width="0.5"/>
<path d="M90.1 277.9 V320.2 H119.6M90.1 277.9 h-1.4M90.1 292 h-1.4M90.1 306.1 h-1.4M90.1 320.2 h-1.4M97.8 320.2 v1.2M112.1 320.2 v1.2" fill="none" stroke="#111" stroke-width="0.75"/>
<text transform="translate(88.5,278.9) scale(0.1)" font-size="29" text-anchor="end" fill="#111">60</text>
<text transform="translate(88.5,293) scale(0.1)" font-size="29" text-anchor="end" fill="#111">40</text>
<text transform="translate(88.5,307.1) scale(0.1)" font-size="29" text-anchor="end" fill="#111">20</text>
<text transform="translate(88.5,321.2) scale(0.1)" font-size="29" text-anchor="end" fill="#111">0</text>
<rect x="93.25" y="278.61" width="8.6" height="41.59" fill="#4a86ad" stroke="#111c33" stroke-width="0.5"/>
<rect x="107.6" y="284.95" width="8.6" height="35.25" fill="#1c3058" stroke="#111c33" stroke-width="0.5"/>
<path d="M130.3 277.9 V320.2 H159.8M130.3 277.9 h-1.4M130.3 292 h-1.4M130.3 306.1 h-1.4M130.3 320.2 h-1.4M138 320.2 v1.2M152.3 320.2 v1.2" fill="none" stroke="#111" stroke-width="0.75"/>
<text transform="translate(128.7,278.9) scale(0.1)" font-size="29" text-anchor="end" fill="#111">60</text>
<text transform="translate(128.7,293) scale(0.1)" font-size="29" text-anchor="end" fill="#111">40</text>
<text transform="translate(128.7,307.1) scale(0.1)" font-size="29" text-anchor="end" fill="#111">20</text>
<text transform="translate(128.7,321.2) scale(0.1)" font-size="29" text-anchor="end" fill="#111">0</text>
<rect x="147.8" y="319.35" width="8.6" height="0.85" fill="#1c3058" stroke="#111c33" stroke-width="0.5"/>
<path d="M170.5 277.9 V320.2 H200M170.5 277.9 h-1.4M170.5 292 h-1.4M170.5 306.1 h-1.4M170.5 320.2 h-1.4M178.2 320.2 v1.2M192.5 320.2 v1.2" fill="none" stroke="#111" stroke-width="0.75"/>
<text transform="translate(168.9,278.9) scale(0.1)" font-size="29" text-anchor="end" fill="#111">60</text>
<text transform="translate(168.9,293) scale(0.1)" font-size="29" text-anchor="end" fill="#111">40</text>
<text transform="translate(168.9,307.1) scale(0.1)" font-size="29" text-anchor="end" fill="#111">20</text>
<text transform="translate(168.9,321.2) scale(0.1)" font-size="29" text-anchor="end" fill="#111">0</text>
<rect x="173.65" y="319.35" width="8.6" height="0.85" fill="#4a86ad" stroke="#111c33" stroke-width="0.5"/>
<text transform="translate(33.4,349.65) rotate(-90)" font-size="8.7" text-anchor="middle" fill="#111">NGG</text>
<path d="M36 329.5 V369.8" stroke="#777" stroke-width="0.6"/>
<text transform="translate(43.2,350.65) rotate(-90) scale(0.1)" font-size="31" text-anchor="middle" fill="#333">Indel frequency</text>
<text transform="translate(45.9,350.65) rotate(-90) scale(0.1)" font-size="31" text-anchor="middle" fill="#333">at integrated targets (%)</text>
<path d="M52.6 328.5 V370.8 H82.1M52.6 328.5 h-1.4M52.6 342.6 h-1.4M52.6 356.7 h-1.4M52.6 370.8 h-1.4M60.3 370.8 v1.2M74.6 370.8 v1.2" fill="none" stroke="#111" stroke-width="0.75"/>
<text transform="translate(51,329.5) scale(0.1)" font-size="29" text-anchor="end" fill="#111">30</text>
<text transform="translate(51,343.6) scale(0.1)" font-size="29" text-anchor="end" fill="#111">20</text>
<text transform="translate(51,357.7) scale(0.1)" font-size="29" text-anchor="end" fill="#111">10</text>
<text transform="translate(51,371.8) scale(0.1)" font-size="29" text-anchor="end" fill="#111">0</text>
<rect x="55.75" y="365.16" width="8.6" height="5.64" fill="#4a86ad" stroke="#111c33" stroke-width="0.5"/>
<rect x="70.1" y="353.88" width="8.6" height="16.92" fill="#1c3058" stroke="#111c33" stroke-width="0.5"/>
<path d="M90.1 328.5 V370.8 H119.6M90.1 328.5 h-1.4M90.1 342.6 h-1.4M90.1 356.7 h-1.4M90.1 370.8 h-1.4M97.8 370.8 v1.2M112.1 370.8 v1.2" fill="none" stroke="#111" stroke-width="0.75"/>
<text transform="translate(88.5,329.5) scale(0.1)" font-size="29" text-anchor="end" fill="#111">30</text>
<text transform="translate(88.5,343.6) scale(0.1)" font-size="29" text-anchor="end" fill="#111">20</text>
<text transform="translate(88.5,357.7) scale(0.1)" font-size="29" text-anchor="end" fill="#111">10</text>
<text transform="translate(88.5,371.8) scale(0.1)" font-size="29" text-anchor="end" fill="#111">0</text>
<rect x="93.25" y="367.28" width="8.6" height="3.52" fill="#4a86ad" stroke="#111c33" stroke-width="0.5"/>
<rect x="107.6" y="336.96" width="8.6" height="33.84" fill="#1c3058" stroke="#111c33" stroke-width="0.5"/>
<path d="M130.3 328.5 V370.8 H159.8M130.3 328.5 h-1.4M130.3 342.6 h-1.4M130.3 356.7 h-1.4M130.3 370.8 h-1.4M138 370.8 v1.2M152.3 370.8 v1.2" fill="none" stroke="#111" stroke-width="0.75"/>
<text transform="translate(128.7,329.5) scale(0.1)" font-size="29" text-anchor="end" fill="#111">30</text>
<text transform="translate(128.7,343.6) scale(0.1)" font-size="29" text-anchor="end" fill="#111">20</text>
<text transform="translate(128.7,357.7) scale(0.1)" font-size="29" text-anchor="end" fill="#111">10</text>
<text transform="translate(128.7,371.8) scale(0.1)" font-size="29" text-anchor="end" fill="#111">0</text>
<rect x="133.45" y="369.95" width="8.6" height="0.85" fill="#4a86ad" stroke="#111c33" stroke-width="0.5"/>
<rect x="147.8" y="355.29" width="8.6" height="15.51" fill="#1c3058" stroke="#111c33" stroke-width="0.5"/>
<path d="M170.5 328.5 V370.8 H200M170.5 328.5 h-1.4M170.5 342.6 h-1.4M170.5 356.7 h-1.4M170.5 370.8 h-1.4M178.2 370.8 v1.2M192.5 370.8 v1.2" fill="none" stroke="#111" stroke-width="0.75"/>
<text transform="translate(168.9,329.5) scale(0.1)" font-size="29" text-anchor="end" fill="#111">30</text>
<text transform="translate(168.9,343.6) scale(0.1)" font-size="29" text-anchor="end" fill="#111">20</text>
<text transform="translate(168.9,357.7) scale(0.1)" font-size="29" text-anchor="end" fill="#111">10</text>
<text transform="translate(168.9,371.8) scale(0.1)" font-size="29" text-anchor="end" fill="#111">0</text>
<rect x="173.65" y="355.29" width="8.6" height="15.51" fill="#4a86ad" stroke="#111c33" stroke-width="0.5"/>
<rect x="188" y="361.63" width="8.6" height="9.16" fill="#1c3058" stroke="#111c33" stroke-width="0.5"/>
<rect x="179.3" y="172.7" width="7.4" height="4.7" fill="#4a86ad" stroke="#111c33" stroke-width="0.5"/>
<rect x="179.3" y="180.3" width="7.4" height="4.7" fill="#1c3058" stroke="#111c33" stroke-width="0.5"/>
<text class="b" x="192.2" y="177.5" font-size="5.6" fill="#111">xCas9 3.7</text>
<text class="b" x="192.2" y="184.7" font-size="5.6" fill="#111">SpCas9-NG</text>
</g>
<g id="panelC">
<text class="se" x="241.4" y="157.5" font-size="7.8" fill="#111">C</text>
<g fill="none" stroke-width="3">
<path stroke="#f4dfdc" d="M456.4 263.4A99.1 99.1 0 0 1 456.4 265.2M455.4 276.2A99.1 99.1 0 0 1 455.1 278M453.9 284.2A99.1 99.1 0 0 1 453.5 285.9M447.4 303.4A99.1 99.1 0 0 1 446.6 305.1M445.9 306.5A99.1 99.1 0 0 1 445.1 308.1M440 316.7A99.1 99.1 0 0 1 439 318.2M431.3 328A99.1 99.1 0 0 1 430.1 329.3M425.7 333.8A99.1 99.1 0 0 1 424.4 335M409.3 346.5A99.1 99.1 0 0 1 407.7 347.4M399.6 351.7A99.1 99.1 0 0 1 397.9 352.5M384.3 357.5A99.1 99.1 0 0 1 382.5 357.9M331.7 357.8A99.1 99.1 0 0 1 329.9 357.3M330.1 357.4A99.1 99.1 0 0 1 328.3 356.9M303.1 345A99.1 99.1 0 0 1 301.5 344M274.2 316A99.1 99.1 0 0 1 273.1 314.4M273.2 314.6A99.1 99.1 0 0 1 272.2 313M263.4 293.7A99.1 99.1 0 0 1 262.8 292M262.4 290.7A99.1 99.1 0 0 1 261.9 289M259.1 248.8A99.1 99.1 0 0 1 259.4 246.9M259.6 245.5A99.1 99.1 0 0 1 259.9 243.6M260.6 240.6A99.1 99.1 0 0 1 261 238.8M261.8 235.8A99.1 99.1 0 0 1 262.3 234M267.2 220.9A99.1 99.1 0 0 1 267.9 219.3M273.9 208.6A99.1 99.1 0 0 1 274.9 207.1M275.7 205.9A99.1 99.1 0 0 1 276.8 204.4M310.1 175A99.1 99.1 0 0 1 311.7 174.1M313 173.5A99.1 99.1 0 0 1 314.6 172.7M314.5 172.7A99.1 99.1 0 0 1 316.1 172M326.1 168A99.1 99.1 0 0 1 327.8 167.5M335.3 165.5A99.1 99.1 0 0 1 337.1 165.1M339.7 164.6A99.1 99.1 0 0 1 341.4 164.3M344.4 163.8A99.1 99.1 0 0 1 346.2 163.6M369.8 163.8A99.1 99.1 0 0 1 371.6 164M379.4 165.5A99.1 99.1 0 0 1 381.2 165.9M436.7 202.9A99.1 99.1 0 0 1 437.9 204.4M437.8 204.2A99.1 99.1 0 0 1 438.9 205.8M442.2 211A99.1 99.1 0 0 1 443.2 212.6M443.1 212.4A99.1 99.1 0 0 1 444 214.1M444.7 215.4A99.1 99.1 0 0 1 445.6 217.1M447 220A99.1 99.1 0 0 1 447.8 221.8M448.9 224.3A99.1 99.1 0 0 1 449.6 225.9M449.5 225.7A99.1 99.1 0 0 1 450.1 227.4M455.3 247.1A99.1 99.1 0 0 1 455.5 249M455.7 250.4A99.1 99.1 0 0 1 455.9 252.2"/>
<path stroke="#f0d4d0" d="M456.4 265A99.1 99.1 0 0 1 456.3 266.8M449.2 299.3A99.1 99.1 0 0 1 448.4 301M446.7 305A99.1 99.1 0 0 1 445.8 306.7M419.9 338.9A99.1 99.1 0 0 1 418.5 340M392 354.9A99.1 99.1 0 0 1 390.3 355.5M308.8 348.5A99.1 99.1 0 0 1 307.2 347.6M292.6 337.2A99.1 99.1 0 0 1 291.2 336M265.5 299.4A99.1 99.1 0 0 1 264.8 297.7M259.5 278.3A99.1 99.1 0 0 1 259.3 276.5M258.7 272.3A99.1 99.1 0 0 1 258.6 270.6M258.3 258.1A99.1 99.1 0 0 1 258.4 256.3M262.2 234.2A99.1 99.1 0 0 1 262.8 232.4M281.7 198A99.1 99.1 0 0 1 282.9 196.6M282.8 196.8A99.1 99.1 0 0 1 284 195.4M360 163A99.1 99.1 0 0 1 361.8 163.1M366.5 163.4A99.1 99.1 0 0 1 368.4 163.6M382.6 166.3A99.1 99.1 0 0 1 384.4 166.8M385.4 167.1A99.1 99.1 0 0 1 387.1 167.6M438.7 205.6A99.1 99.1 0 0 1 439.8 207.2M452.6 234.8A99.1 99.1 0 0 1 453.1 236.6M453.3 237.5A99.1 99.1 0 0 1 453.7 239.3M454.7 243.9A99.1 99.1 0 0 1 455 245.7"/>
<path stroke="#f6e5e3" d="M456.3 266.6A99.1 99.1 0 0 1 456.2 268.4M455.6 274.6A99.1 99.1 0 0 1 455.4 276.4M453.5 285.7A99.1 99.1 0 0 1 453.1 287.5M451.9 291.6A99.1 99.1 0 0 1 451.3 293.3M450.3 296.2A99.1 99.1 0 0 1 449.7 298M445.1 308A99.1 99.1 0 0 1 444.3 309.6M418.7 339.9A99.1 99.1 0 0 1 417.2 341M410.7 345.6A99.1 99.1 0 0 1 409.1 346.6M396.6 353.1A99.1 99.1 0 0 1 394.9 353.8M395.1 353.7A99.1 99.1 0 0 1 393.4 354.4M393.6 354.3A99.1 99.1 0 0 1 391.8 355M390.5 355.5A99.1 99.1 0 0 1 388.8 356.1M389 356A99.1 99.1 0 0 1 387.2 356.6M378.3 358.9A99.1 99.1 0 0 1 376.5 359.3M365.1 360.9A99.1 99.1 0 0 1 363.3 361M358.9 361.2A99.1 99.1 0 0 1 357.1 361.2M354 361.1A99.1 99.1 0 0 1 352.2 361.1M342.6 360.1A99.1 99.1 0 0 1 340.8 359.8M333.3 358.3A99.1 99.1 0 0 1 331.5 357.8M326.9 356.4A99.1 99.1 0 0 1 325.1 355.8M304.5 345.9A99.1 99.1 0 0 1 302.9 344.9M298.9 342.2A99.1 99.1 0 0 1 297.4 341M286.5 331.4A99.1 99.1 0 0 1 285.2 330.1M272.4 313.1A99.1 99.1 0 0 1 271.4 311.5M267.5 304.1A99.1 99.1 0 0 1 266.8 302.4M266.2 301A99.1 99.1 0 0 1 265.4 299.2M263.9 295.2A99.1 99.1 0 0 1 263.3 293.5M260.8 284.5A99.1 99.1 0 0 1 260.4 282.8M258.2 259.7A99.1 99.1 0 0 1 258.3 257.9M267.8 219.5A99.1 99.1 0 0 1 268.6 217.9M291.7 187.8A99.1 99.1 0 0 1 293.1 186.6M294.2 185.7A99.1 99.1 0 0 1 295.7 184.5M305.9 177.4A99.1 99.1 0 0 1 307.4 176.5M307.3 176.6A99.1 99.1 0 0 1 308.9 175.6M311.5 174.2A99.1 99.1 0 0 1 313.2 173.4M332.2 166.2A99.1 99.1 0 0 1 334 165.8M333.8 165.8A99.1 99.1 0 0 1 335.5 165.4M341.2 164.3A99.1 99.1 0 0 1 343 164M342.8 164.1A99.1 99.1 0 0 1 344.6 163.8M350.8 163.2A99.1 99.1 0 0 1 352.6 163.1M368.1 163.6A99.1 99.1 0 0 1 370 163.8M388.5 168A99.1 99.1 0 0 1 390.2 168.6M400.5 172.9A99.1 99.1 0 0 1 402.2 173.7M419.6 185A99.1 99.1 0 0 1 421 186.2M420.9 186.1A99.1 99.1 0 0 1 422.3 187.3M423.4 188.3A99.1 99.1 0 0 1 424.8 189.5M433.6 198.8A99.1 99.1 0 0 1 434.8 200.3M435.7 201.5A99.1 99.1 0 0 1 436.9 203M450.1 227.2A99.1 99.1 0 0 1 450.7 228.9M450.6 228.7A99.1 99.1 0 0 1 451.2 230.4M451.1 230.2A99.1 99.1 0 0 1 451.7 232M455.5 248.8A99.1 99.1 0 0 1 455.7 250.6"/>
<path stroke="#f8eae9" d="M456.2 268.2A99.1 99.1 0 0 1 456.1 270M455.8 273A99.1 99.1 0 0 1 455.6 274.8M451.4 293.1A99.1 99.1 0 0 1 450.8 294.9M441.8 313.8A99.1 99.1 0 0 1 440.8 315.4M435.5 323A99.1 99.1 0 0 1 434.3 324.4M433.4 325.5A99.1 99.1 0 0 1 432.3 326.9M416.1 341.9A99.1 99.1 0 0 1 414.6 343M407.9 347.3A99.1 99.1 0 0 1 406.3 348.3M398.1 352.4A99.1 99.1 0 0 1 396.4 353.2M382.7 357.9A99.1 99.1 0 0 1 380.9 358.3M375.1 359.6A99.1 99.1 0 0 1 373.2 359.9M373.4 359.9A99.1 99.1 0 0 1 371.6 360.2M368.5 360.6A99.1 99.1 0 0 1 366.6 360.8M363.5 361A99.1 99.1 0 0 1 361.6 361.1M357.3 361.2A99.1 99.1 0 0 1 355.5 361.2M352.4 361.1A99.1 99.1 0 0 1 350.6 361M335 358.7A99.1 99.1 0 0 1 333.1 358.2M319 353.5A99.1 99.1 0 0 1 317.3 352.8M317.5 352.8A99.1 99.1 0 0 1 315.7 352.1M307.4 347.7A99.1 99.1 0 0 1 305.7 346.7M297.5 341.1A99.1 99.1 0 0 1 296 340M291.4 336.1A99.1 99.1 0 0 1 290 334.8M281.9 326.5A99.1 99.1 0 0 1 280.7 325M280.9 325.2A99.1 99.1 0 0 1 279.7 323.7M277.7 321.2A99.1 99.1 0 0 1 276.6 319.7M268.3 305.7A99.1 99.1 0 0 1 267.5 303.9M261.5 287.6A99.1 99.1 0 0 1 261.1 285.9M259.8 279.8A99.1 99.1 0 0 1 259.5 278.1M258.5 269.2A99.1 99.1 0 0 1 258.3 267.4M258.2 264.4A99.1 99.1 0 0 1 258.2 262.6M258.2 261.3A99.1 99.1 0 0 1 258.2 259.5M258.9 250.4A99.1 99.1 0 0 1 259.1 248.6M259.9 243.9A99.1 99.1 0 0 1 260.3 242M265.9 223.8A99.1 99.1 0 0 1 266.6 222.2M274.8 207.2A99.1 99.1 0 0 1 275.8 205.7M296.8 183.6A99.1 99.1 0 0 1 298.3 182.5M315.9 172A99.1 99.1 0 0 1 317.6 171.3M324.6 168.6A99.1 99.1 0 0 1 326.3 168M349.2 163.3A99.1 99.1 0 0 1 351 163.2M355.6 163A99.1 99.1 0 0 1 357.4 163M374.6 164.5A99.1 99.1 0 0 1 376.4 164.9M381 165.9A99.1 99.1 0 0 1 382.8 166.3M393.1 169.7A99.1 99.1 0 0 1 394.8 170.4M402 173.6A99.1 99.1 0 0 1 403.6 174.5M416.9 183A99.1 99.1 0 0 1 418.4 184.1M453.7 239.1A99.1 99.1 0 0 1 454.1 240.9"/>
<path stroke="#fcf6f5" d="M456.1 269.8A99.1 99.1 0 0 1 455.9 271.6M454.9 279.4A99.1 99.1 0 0 1 454.5 281.2M454.6 281A99.1 99.1 0 0 1 454.2 282.8M443.5 310.9A99.1 99.1 0 0 1 442.6 312.6M429.1 330.4A99.1 99.1 0 0 1 427.9 331.7M428 331.5A99.1 99.1 0 0 1 426.7 332.8M414.7 342.9A99.1 99.1 0 0 1 413.2 343.9M413.4 343.8A99.1 99.1 0 0 1 411.9 344.8M405 349A99.1 99.1 0 0 1 403.4 349.8M387.4 356.5A99.1 99.1 0 0 1 385.6 357.1M370.1 360.4A99.1 99.1 0 0 1 368.3 360.6M366.8 360.7A99.1 99.1 0 0 1 364.9 360.9M355.7 361.2A99.1 99.1 0 0 1 353.8 361.1M325.3 355.9A99.1 99.1 0 0 1 323.5 355.3M320.6 354.1A99.1 99.1 0 0 1 318.8 353.4M305.9 346.8A99.1 99.1 0 0 1 304.3 345.8M301.6 344.1A99.1 99.1 0 0 1 300.1 343M300.3 343.1A99.1 99.1 0 0 1 298.7 342M288.9 333.8A99.1 99.1 0 0 1 287.5 332.5M287.7 332.6A99.1 99.1 0 0 1 286.4 331.3M285.3 330.2A99.1 99.1 0 0 1 284 328.8M283 327.7A99.1 99.1 0 0 1 281.8 326.3M279.8 323.9A99.1 99.1 0 0 1 278.6 322.4M271.5 311.7A99.1 99.1 0 0 1 270.5 310M269.8 308.7A99.1 99.1 0 0 1 269 307M269 307.2A99.1 99.1 0 0 1 268.2 305.5M266.8 302.6A99.1 99.1 0 0 1 266.1 300.8M262 289.2A99.1 99.1 0 0 1 261.5 287.4M261.1 286.1A99.1 99.1 0 0 1 260.7 284.3M258.4 267.6A99.1 99.1 0 0 1 258.3 265.8M258.3 266A99.1 99.1 0 0 1 258.2 264.2M260.9 239A99.1 99.1 0 0 1 261.4 237.2M276.6 204.5A99.1 99.1 0 0 1 277.7 203M277.6 203.2A99.1 99.1 0 0 1 278.7 201.7M293 186.7A99.1 99.1 0 0 1 294.4 185.5M308.7 175.7A99.1 99.1 0 0 1 310.3 174.9M327.6 167.6A99.1 99.1 0 0 1 329.3 167M330.7 166.6A99.1 99.1 0 0 1 332.4 166.2M347.6 163.5A99.1 99.1 0 0 1 349.4 163.3M352.4 163.1A99.1 99.1 0 0 1 354.2 163M354 163.1A99.1 99.1 0 0 1 355.8 163M363.3 163.2A99.1 99.1 0 0 1 365.1 163.3M376.2 164.8A99.1 99.1 0 0 1 378 165.2M397.6 171.6A99.1 99.1 0 0 1 399.2 172.3M418.3 184A99.1 99.1 0 0 1 419.7 185.1M443.9 213.9A99.1 99.1 0 0 1 444.8 215.6M446.3 218.5A99.1 99.1 0 0 1 447.1 220.2M451.6 231.8A99.1 99.1 0 0 1 452.2 233.5M454.1 240.7A99.1 99.1 0 0 1 454.4 242.5M454.4 242.3A99.1 99.1 0 0 1 454.8 244.1"/>
<path stroke="#faf0ef" d="M456 271.4A99.1 99.1 0 0 1 455.8 273.2M455.1 277.8A99.1 99.1 0 0 1 454.8 279.6M450.9 294.7A99.1 99.1 0 0 1 450.3 296.4M444.4 309.4A99.1 99.1 0 0 1 443.4 311.1M442.7 312.4A99.1 99.1 0 0 1 441.7 314M440.9 315.2A99.1 99.1 0 0 1 439.9 316.8M434.5 324.3A99.1 99.1 0 0 1 433.3 325.7M426.9 332.7A99.1 99.1 0 0 1 425.6 333.9M417.4 340.9A99.1 99.1 0 0 1 415.9 342M412 344.7A99.1 99.1 0 0 1 410.5 345.7M406.5 348.1A99.1 99.1 0 0 1 404.8 349.1M385.8 357A99.1 99.1 0 0 1 384.1 357.5M376.7 359.3A99.1 99.1 0 0 1 374.9 359.6M371.8 360.1A99.1 99.1 0 0 1 369.9 360.4M344.3 360.3A99.1 99.1 0 0 1 342.4 360.1M328.5 356.9A99.1 99.1 0 0 1 326.7 356.4M323.7 355.3A99.1 99.1 0 0 1 321.9 354.7M322.1 354.7A99.1 99.1 0 0 1 320.4 354.1M290.1 335A99.1 99.1 0 0 1 288.7 333.7M284.2 329A99.1 99.1 0 0 1 282.9 327.6M278.8 322.5A99.1 99.1 0 0 1 277.6 321M270.6 310.2A99.1 99.1 0 0 1 269.7 308.5M262.9 292.2A99.1 99.1 0 0 1 262.4 290.5M260.1 281.4A99.1 99.1 0 0 1 259.8 279.6M258.6 270.8A99.1 99.1 0 0 1 258.4 269M259.3 247.1A99.1 99.1 0 0 1 259.6 245.3M260.2 242.2A99.1 99.1 0 0 1 260.6 240.4M266.5 222.4A99.1 99.1 0 0 1 267.2 220.8M278.6 201.9A99.1 99.1 0 0 1 279.7 200.4M279.6 200.6A99.1 99.1 0 0 1 280.8 199.1M295.5 184.6A99.1 99.1 0 0 1 297 183.5M346 163.6A99.1 99.1 0 0 1 347.8 163.5M364.9 163.3A99.1 99.1 0 0 1 366.7 163.4M371.4 164A99.1 99.1 0 0 1 373.2 164.3M373 164.3A99.1 99.1 0 0 1 374.8 164.6M377.8 165.2A99.1 99.1 0 0 1 379.6 165.6M390 168.6A99.1 99.1 0 0 1 391.7 169.2M391.5 169.1A99.1 99.1 0 0 1 393.3 169.8M396.1 170.9A99.1 99.1 0 0 1 397.8 171.6M422.1 187.2A99.1 99.1 0 0 1 423.5 188.4M452.1 233.3A99.1 99.1 0 0 1 452.6 235M455 245.5A99.1 99.1 0 0 1 455.3 247.3"/>
<path stroke="#ecc8c4" d="M454.3 282.6A99.1 99.1 0 0 1 453.9 284.4M449.8 297.8A99.1 99.1 0 0 1 449.1 299.5M439.1 318.1A99.1 99.1 0 0 1 438 319.6M432.4 326.8A99.1 99.1 0 0 1 431.2 328.1M345.9 360.5A99.1 99.1 0 0 1 344 360.3M336.6 359A99.1 99.1 0 0 1 334.8 358.6M296.2 340.1A99.1 99.1 0 0 1 294.7 338.9M293.9 338.3A99.1 99.1 0 0 1 292.5 337.1M260.4 283A99.1 99.1 0 0 1 260.1 281.2M262.7 232.6A99.1 99.1 0 0 1 263.3 230.8M264.7 226.8A99.1 99.1 0 0 1 265.4 225.1M270.7 213.9A99.1 99.1 0 0 1 271.6 212.3M283.9 195.5A99.1 99.1 0 0 1 285.1 194.2M318.9 170.7A99.1 99.1 0 0 1 320.6 170M357.2 163A99.1 99.1 0 0 1 359 163M394.6 170.3A99.1 99.1 0 0 1 396.3 171M399.1 172.2A99.1 99.1 0 0 1 400.7 173M414.3 181A99.1 99.1 0 0 1 415.8 182.1M425.8 190.5A99.1 99.1 0 0 1 427.2 191.8M427 191.7A99.1 99.1 0 0 1 428.4 193"/>
<path stroke="#eececa" d="M453.1 287.3A99.1 99.1 0 0 1 452.7 289M402.1 350.5A99.1 99.1 0 0 1 400.5 351.3M361.8 361.1A99.1 99.1 0 0 1 359.9 361.2M349.1 360.9A99.1 99.1 0 0 1 347.3 360.7M341 359.9A99.1 99.1 0 0 1 339.2 359.5M313.3 350.9A99.1 99.1 0 0 1 311.6 350M310.3 349.4A99.1 99.1 0 0 1 308.7 348.4M259.3 276.7A99.1 99.1 0 0 1 259 274.9M258.9 273.9A99.1 99.1 0 0 1 258.7 272.1M258.6 253.7A99.1 99.1 0 0 1 258.7 251.9M258.7 252.1A99.1 99.1 0 0 1 258.9 250.2M268.5 218.1A99.1 99.1 0 0 1 269.3 216.5M287 192.3A99.1 99.1 0 0 1 288.3 191M288.1 191.1A99.1 99.1 0 0 1 289.5 189.8M290.5 188.9A99.1 99.1 0 0 1 291.9 187.6M299.4 181.7A99.1 99.1 0 0 1 300.9 180.6M300.7 180.7A99.1 99.1 0 0 1 302.3 179.7M303.1 179.1A99.1 99.1 0 0 1 304.7 178.1M321.5 169.7A99.1 99.1 0 0 1 323.2 169M386.9 167.5A99.1 99.1 0 0 1 388.7 168.1M404.9 175.2A99.1 99.1 0 0 1 406.5 176.1M406.3 176A99.1 99.1 0 0 1 407.9 176.9M439.7 207.1A99.1 99.1 0 0 1 440.8 208.7"/>
<path stroke="#f2d9d6" d="M452.4 290A99.1 99.1 0 0 1 451.9 291.8M448.5 300.8A99.1 99.1 0 0 1 447.8 302.5M436.5 321.7A99.1 99.1 0 0 1 435.3 323.2M430.2 329.2A99.1 99.1 0 0 1 429 330.5M403.6 349.7A99.1 99.1 0 0 1 401.9 350.6M381.1 358.3A99.1 99.1 0 0 1 379.3 358.7M350.8 361A99.1 99.1 0 0 1 348.9 360.8M339.4 359.6A99.1 99.1 0 0 1 337.6 359.2M315.9 352.1A99.1 99.1 0 0 1 314.2 351.3M264.4 296.7A99.1 99.1 0 0 1 263.8 295M258.2 262.8A99.1 99.1 0 0 1 258.2 261.1M261.3 237.4A99.1 99.1 0 0 1 261.8 235.6M265.3 225.3A99.1 99.1 0 0 1 266 223.7M269.2 216.7A99.1 99.1 0 0 1 270.1 215.1M289.3 190A99.1 99.1 0 0 1 290.7 188.7M298.1 182.6A99.1 99.1 0 0 1 299.6 181.5M323 169.1A99.1 99.1 0 0 1 324.7 168.5M329.1 167.1A99.1 99.1 0 0 1 330.9 166.6M336.9 165.1A99.1 99.1 0 0 1 338.7 164.8M361.6 163.1A99.1 99.1 0 0 1 363.5 163.2M403.4 174.4A99.1 99.1 0 0 1 405 175.3M415.6 182A99.1 99.1 0 0 1 417.1 183.1M424.6 189.4A99.1 99.1 0 0 1 426 190.7M432.5 197.5A99.1 99.1 0 0 1 433.7 199M434.7 200.2A99.1 99.1 0 0 1 435.8 201.7M441.3 209.5A99.1 99.1 0 0 1 442.3 211.1M445.5 216.9A99.1 99.1 0 0 1 446.4 218.7M447.7 221.6A99.1 99.1 0 0 1 448.5 223.3"/>
<path stroke="#dba6a2" d="M437.4 320.4A99.1 99.1 0 0 1 436.3 321.9M347.5 360.7A99.1 99.1 0 0 1 345.7 360.5M275.1 317.4A99.1 99.1 0 0 1 274 315.8M285.8 193.4A99.1 99.1 0 0 1 287.1 192.1M430.2 195A99.1 99.1 0 0 1 431.5 196.4"/>
<path stroke="#e4b7b3" d="M424.5 334.9A99.1 99.1 0 0 1 423.2 336.1M423.3 336A99.1 99.1 0 0 1 422 337.2M421.2 337.8A99.1 99.1 0 0 1 419.8 339M276.7 319.8A99.1 99.1 0 0 1 275.7 318.3M258.4 256.5A99.1 99.1 0 0 1 258.5 254.7M264.1 228.3A99.1 99.1 0 0 1 264.8 226.6M272.1 211.4A99.1 99.1 0 0 1 273.1 209.8M273 210A99.1 99.1 0 0 1 274 208.4M304.5 178.2A99.1 99.1 0 0 1 306 177.3M317.4 171.4A99.1 99.1 0 0 1 319.1 170.7M428.2 192.9A99.1 99.1 0 0 1 429.5 194.2"/>
<path stroke="#c2746f" d="M311.8 350.1A99.1 99.1 0 0 1 310.1 349.3M409.1 177.6A99.1 99.1 0 0 1 410.6 178.6"/>
<path stroke="#ca8580" d="M263.2 231A99.1 99.1 0 0 1 263.8 229.2"/>
<path stroke="#d29691" d="M270 215.2A99.1 99.1 0 0 1 270.8 213.7M280.7 199.3A99.1 99.1 0 0 1 281.8 197.9M412.9 180.1A99.1 99.1 0 0 1 414.4 181.1M431.3 196.2A99.1 99.1 0 0 1 432.6 197.7"/>
<path stroke="#b9645e" d="M407.7 176.8A99.1 99.1 0 0 1 409.3 177.7"/>
<path stroke="#a8423c" d="M411.5 179.1A99.1 99.1 0 0 1 413.1 180.2"/>
</g>
<g fill="none" stroke-width="3">
<path stroke="#f0d4d0" d="M452.3 263.3A95 95 0 0 1 452.3 265.1M444.7 299.2A95 95 0 0 1 444 300.8M429.3 324.1A95 95 0 0 1 428.1 325.4M417.3 335.7A95 95 0 0 1 416 336.8M369.6 356.3A95 95 0 0 1 367.8 356.5M340.1 355.5A95 95 0 0 1 338.4 355.2M319.1 349.1A95 95 0 0 1 317.5 348.3M317.6 348.4A95 95 0 0 1 316 347.7M315.1 347.2A95 95 0 0 1 313.5 346.4M312.3 345.7A95 95 0 0 1 310.7 344.9M281 318.7A95 95 0 0 1 280 317.3M262.6 254.1A95 95 0 0 1 262.8 252.3M272.9 218.5A95 95 0 0 1 273.7 217M282.8 203.1A95 95 0 0 1 283.9 201.7M289.9 195.2A95 95 0 0 1 291.1 193.9M300.5 185.9A95 95 0 0 1 302 184.9M306.7 181.7A95 95 0 0 1 308.2 180.8M337.7 169.1A95 95 0 0 1 339.4 168.8M380.1 169.9A95 95 0 0 1 381.8 170.3M414.5 186.2A95 95 0 0 1 415.9 187.3M437.8 211.7A95 95 0 0 1 438.8 213.3M445.1 225.8A95 95 0 0 1 445.7 227.4M449.3 238.6A95 95 0 0 1 449.8 240.3"/>
<path stroke="#f8eae9" d="M452.3 264.9A95 95 0 0 1 452.2 266.6M448 290.4A95 95 0 0 1 447.5 292M447 293.3A95 95 0 0 1 446.4 295M442.2 304.6A95 95 0 0 1 441.4 306.2M439.2 310.3A95 95 0 0 1 438.2 311.8M428.3 325.3A95 95 0 0 1 427.1 326.5M414.9 337.7A95 95 0 0 1 413.5 338.7M392.1 350.5A95 95 0 0 1 390.4 351.1M366.4 356.7A95 95 0 0 1 364.6 356.8M355.7 357.1A95 95 0 0 1 354 357M344.8 356.3A95 95 0 0 1 343 356M335.9 354.7A95 95 0 0 1 334.1 354.2M334.3 354.3A95 95 0 0 1 332.6 353.8M332.8 353.9A95 95 0 0 1 331 353.4M328.1 352.5A95 95 0 0 1 326.4 351.9M325.1 351.5A95 95 0 0 1 323.4 350.8M322.1 350.3A95 95 0 0 1 320.4 349.6M303.9 340.7A95 95 0 0 1 302.5 339.7M291.7 330.8A95 95 0 0 1 290.4 329.6M289.4 328.6A95 95 0 0 1 288.2 327.3M288.3 327.4A95 95 0 0 1 287.1 326.1M287.2 326.2A95 95 0 0 1 286 324.9M286.1 325A95 95 0 0 1 284.9 323.6M285.1 323.8A95 95 0 0 1 283.9 322.4M283 321.3A95 95 0 0 1 281.9 319.9M276.7 312.4A95 95 0 0 1 275.8 310.9M274.2 308.2A95 95 0 0 1 273.4 306.6M270.6 300.9A95 95 0 0 1 269.9 299.2M267.8 293.9A95 95 0 0 1 267.2 292.2M266.3 289.5A95 95 0 0 1 265.9 287.8M265.9 288A95 95 0 0 1 265.5 286.4M265.1 285.1A95 95 0 0 1 264.7 283.4M264.8 283.6A95 95 0 0 1 264.4 281.9M264.4 282.1A95 95 0 0 1 264.1 280.4M263.8 279.1A95 95 0 0 1 263.5 277.4M262.7 270.4A95 95 0 0 1 262.5 268.7M262.5 268.9A95 95 0 0 1 262.4 267.2M263.4 247.7A95 95 0 0 1 263.7 246M264.2 243A95 95 0 0 1 264.6 241.3M269.7 225.4A95 95 0 0 1 270.3 223.9M279.1 208.2A95 95 0 0 1 280.1 206.7M281.9 204.4A95 95 0 0 1 283 203M316.2 176.4A95 95 0 0 1 317.8 175.7M328.8 171.5A95 95 0 0 1 330.5 171M341.9 168.4A95 95 0 0 1 343.6 168.1M348 167.6A95 95 0 0 1 349.7 167.4M351 167.3A95 95 0 0 1 352.8 167.2M367.7 167.7A95 95 0 0 1 369.5 167.9M370.8 168.1A95 95 0 0 1 372.6 168.3M395.9 175.3A95 95 0 0 1 397.5 176M400.1 177.3A95 95 0 0 1 401.7 178.1M442.6 220.3A95 95 0 0 1 443.4 221.9M446.2 228.7A95 95 0 0 1 446.8 230.3M448.2 234.5A95 95 0 0 1 448.7 236.1M451 246.2A95 95 0 0 1 451.2 248M451.2 247.8A95 95 0 0 1 451.5 249.5M451.4 249.3A95 95 0 0 1 451.7 251.1"/>
<path stroke="#f4dfdc" d="M452.2 266.4A95 95 0 0 1 452.1 268.2M422.9 330.8A95 95 0 0 1 421.6 332M401.7 346.1A95 95 0 0 1 400.1 346.9M395 349.3A95 95 0 0 1 393.3 350M380.1 354.3A95 95 0 0 1 378.4 354.7M361.6 357A95 95 0 0 1 359.8 357.1M351 356.9A95 95 0 0 1 349.3 356.8M343.2 356.1A95 95 0 0 1 341.5 355.8M310.8 345A95 95 0 0 1 309.3 344.1M309.4 344.2A95 95 0 0 1 307.9 343.2M300 337.9A95 95 0 0 1 298.6 336.8M284 322.6A95 95 0 0 1 282.9 321.1M271.3 302.4A95 95 0 0 1 270.5 300.7M266.8 291A95 95 0 0 1 266.3 289.3M262.8 271.9A95 95 0 0 1 262.6 270.2M262.3 261.3A95 95 0 0 1 262.3 259.6M262.3 259.8A95 95 0 0 1 262.4 258.1M263.2 249.3A95 95 0 0 1 263.4 247.5M265.7 236.9A95 95 0 0 1 266.2 235.1M270.9 222.6A95 95 0 0 1 271.6 221.1M271.5 221.3A95 95 0 0 1 272.3 219.7M278.2 209.5A95 95 0 0 1 279.2 208M293.3 191.9A95 95 0 0 1 294.6 190.7M294.5 190.9A95 95 0 0 1 295.8 189.7M308 180.9A95 95 0 0 1 309.5 180M309.3 180.1A95 95 0 0 1 310.9 179.2M343.4 168.1A95 95 0 0 1 345.1 167.9M355.6 167.1A95 95 0 0 1 357.4 167.1M357.2 167.1A95 95 0 0 1 358.9 167.1M359.9 167.1A95 95 0 0 1 361.6 167.2M377 169.2A95 95 0 0 1 378.7 169.5M436.3 209.3A95 95 0 0 1 437.3 210.9M438.7 213.1A95 95 0 0 1 439.6 214.7M439.5 214.5A95 95 0 0 1 440.4 216.1M443.3 221.8A95 95 0 0 1 444.1 223.4M448.6 236A95 95 0 0 1 449.1 237.6M449.7 240.1A95 95 0 0 1 450.1 241.8"/>
<path stroke="#fcf6f5" d="M452.1 268A95 95 0 0 1 452 269.7M451.9 271.1A95 95 0 0 1 451.7 272.8M451.5 274.1A95 95 0 0 1 451.3 275.8M451.3 275.6A95 95 0 0 1 451.1 277.4M450.8 278.7A95 95 0 0 1 450.5 280.4M450.2 281.7A95 95 0 0 1 449.9 283.4M427.2 326.4A95 95 0 0 1 426 327.7M425.1 328.7A95 95 0 0 1 423.9 329.9M412.4 339.5A95 95 0 0 1 410.9 340.5M408.5 342.2A95 95 0 0 1 407 343.1M405.8 343.8A95 95 0 0 1 404.2 344.7M404.4 344.6A95 95 0 0 1 402.9 345.5M403.1 345.4A95 95 0 0 1 401.5 346.2M387.6 352.1A95 95 0 0 1 386 352.7M384.7 353.1A95 95 0 0 1 383 353.6M374.3 355.6A95 95 0 0 1 372.6 355.9M371.2 356.1A95 95 0 0 1 369.4 356.3M368 356.5A95 95 0 0 1 366.2 356.7M364.8 356.8A95 95 0 0 1 363 356.9M326.6 352A95 95 0 0 1 324.9 351.4M323.6 350.9A95 95 0 0 1 321.9 350.3M302.6 339.8A95 95 0 0 1 301.1 338.7M301.3 338.8A95 95 0 0 1 299.8 337.8M294.1 333A95 95 0 0 1 292.8 331.8M275.9 311A95 95 0 0 1 274.9 309.4M275 309.6A95 95 0 0 1 274.1 308M272.7 305.3A95 95 0 0 1 271.9 303.7M267.3 292.4A95 95 0 0 1 266.7 290.8M265.5 286.6A95 95 0 0 1 265.1 284.9M262.3 264.3A95 95 0 0 1 262.3 262.6M263.9 244.6A95 95 0 0 1 264.3 242.9M264.9 239.9A95 95 0 0 1 265.4 238.2M270.3 224A95 95 0 0 1 271 222.5M330.3 171A95 95 0 0 1 332 170.5M331.8 170.6A95 95 0 0 1 333.5 170.1M344.9 167.9A95 95 0 0 1 346.7 167.7M346.5 167.7A95 95 0 0 1 348.2 167.5M349.5 167.4A95 95 0 0 1 351.2 167.3M354.1 167.2A95 95 0 0 1 355.8 167.1M364.6 167.4A95 95 0 0 1 366.3 167.5M369.3 167.9A95 95 0 0 1 371 168.1M373.9 168.6A95 95 0 0 1 375.6 168.9M390.1 173A95 95 0 0 1 391.8 173.6M394.5 174.7A95 95 0 0 1 396.1 175.4M397.3 175.9A95 95 0 0 1 398.9 176.7M419.5 190.3A95 95 0 0 1 420.8 191.4M432.5 204A95 95 0 0 1 433.6 205.5M433.5 205.3A95 95 0 0 1 434.5 206.8M434.4 206.6A95 95 0 0 1 435.5 208.1M440.3 215.9A95 95 0 0 1 441.2 217.5M450.1 241.6A95 95 0 0 1 450.4 243.3M450.7 244.7A95 95 0 0 1 451 246.4"/>
<path stroke="#f6e5e3" d="M452 269.5A95 95 0 0 1 451.9 271.2M450.6 280.2A95 95 0 0 1 450.2 281.9M445.4 297.8A95 95 0 0 1 444.7 299.4M441.5 306.1A95 95 0 0 1 440.7 307.7M440.8 307.5A95 95 0 0 1 439.9 309.1M440 308.9A95 95 0 0 1 439.1 310.5M426.2 327.5A95 95 0 0 1 425 328.8M424 329.8A95 95 0 0 1 422.7 331M416.1 336.7A95 95 0 0 1 414.7 337.8M407.1 343A95 95 0 0 1 405.6 343.9M397.8 348A95 95 0 0 1 396.2 348.8M396.4 348.7A95 95 0 0 1 394.8 349.4M390.6 351.1A95 95 0 0 1 388.9 351.7M389.1 351.6A95 95 0 0 1 387.5 352.2M381.6 353.9A95 95 0 0 1 379.9 354.4M372.7 355.8A95 95 0 0 1 371 356.1M354.2 357A95 95 0 0 1 352.4 357M329.7 353A95 95 0 0 1 327.9 352.5M308 343.3A95 95 0 0 1 306.5 342.4M292.9 331.9A95 95 0 0 1 291.6 330.7M290.6 329.7A95 95 0 0 1 289.3 328.4M282 320A95 95 0 0 1 280.9 318.6M277.6 313.8A95 95 0 0 1 276.6 312.2M273.5 306.8A95 95 0 0 1 272.6 305.1M263 250.9A95 95 0 0 1 263.2 249.1M264.6 241.5A95 95 0 0 1 265 239.7M269.1 226.8A95 95 0 0 1 269.7 225.2M295.6 189.8A95 95 0 0 1 297 188.7M310.7 179.3A95 95 0 0 1 312.2 178.5M313.4 177.8A95 95 0 0 1 315 177M327.4 171.9A95 95 0 0 1 329 171.4M340.4 168.6A95 95 0 0 1 342.1 168.3M363 167.3A95 95 0 0 1 364.8 167.4M366.1 167.5A95 95 0 0 1 367.9 167.7M388.7 172.4A95 95 0 0 1 390.3 173M391.6 173.5A95 95 0 0 1 393.2 174.2M398.7 176.6A95 95 0 0 1 400.3 177.4M420.7 191.3A95 95 0 0 1 422 192.5M421.8 192.4A95 95 0 0 1 423.1 193.6M444 223.2A95 95 0 0 1 444.7 224.9M446.8 230.1A95 95 0 0 1 447.3 231.8M447.7 233A95 95 0 0 1 448.3 234.7M450.4 243.1A95 95 0 0 1 450.7 244.9"/>
<path stroke="#faf0ef" d="M451.7 272.6A95 95 0 0 1 451.5 274.3M451.1 277.2A95 95 0 0 1 450.8 278.9M449.9 283.2A95 95 0 0 1 449.5 284.9M438.3 311.7A95 95 0 0 1 437.4 313.2M437.5 313A95 95 0 0 1 436.5 314.6M431.3 321.7A95 95 0 0 1 430.2 323.1M413.6 338.6A95 95 0 0 1 412.2 339.6M411.1 340.4A95 95 0 0 1 409.6 341.4M409.8 341.3A95 95 0 0 1 408.3 342.3M393.5 349.9A95 95 0 0 1 391.9 350.6M386.2 352.6A95 95 0 0 1 384.5 353.1M383.1 353.5A95 95 0 0 1 381.4 354M363.2 356.9A95 95 0 0 1 361.4 357M357.3 357.1A95 95 0 0 1 355.5 357.1M331.2 353.4A95 95 0 0 1 329.5 352.9M306.7 342.5A95 95 0 0 1 305.1 341.5M305.3 341.6A95 95 0 0 1 303.8 340.6M295.3 334.1A95 95 0 0 1 294 332.9M272 303.9A95 95 0 0 1 271.2 302.2M264.1 280.6A95 95 0 0 1 263.8 278.9M262.4 267.4A95 95 0 0 1 262.4 265.7M262.4 265.9A95 95 0 0 1 262.3 264.1M262.3 262.8A95 95 0 0 1 262.3 261.1M263.6 246.2A95 95 0 0 1 264 244.4M265.3 238.4A95 95 0 0 1 265.8 236.7M266.2 235.3A95 95 0 0 1 266.7 233.6M280 206.9A95 95 0 0 1 281 205.5M280.9 205.6A95 95 0 0 1 282 204.2M298.1 187.8A95 95 0 0 1 299.4 186.7M299.3 186.9A95 95 0 0 1 300.7 185.8M312.1 178.6A95 95 0 0 1 313.6 177.7M333.3 170.2A95 95 0 0 1 334.9 169.8M334.7 169.8A95 95 0 0 1 336.4 169.4M352.6 167.2A95 95 0 0 1 354.3 167.1M361.4 167.2A95 95 0 0 1 363.2 167.3M372.4 168.3A95 95 0 0 1 374.1 168.6M375.5 168.9A95 95 0 0 1 377.2 169.2M378.5 169.5A95 95 0 0 1 380.2 169.9M393 174.1A95 95 0 0 1 394.7 174.8M415.8 187.2A95 95 0 0 1 417.2 188.3M417 188.2A95 95 0 0 1 418.4 189.3M418.2 189.2A95 95 0 0 1 419.6 190.4M441.1 217.4A95 95 0 0 1 442 219M441.9 218.8A95 95 0 0 1 442.7 220.5M447.3 231.6A95 95 0 0 1 447.8 233.2M451.6 250.9A95 95 0 0 1 451.8 252.6"/>
<path stroke="#eececa" d="M449.6 284.7A95 95 0 0 1 449.1 286.4M447.5 291.9A95 95 0 0 1 447 293.5M446.5 294.8A95 95 0 0 1 445.9 296.5M433.2 319.3A95 95 0 0 1 432.1 320.6M418.6 334.7A95 95 0 0 1 417.2 335.8M358.9 357.1A95 95 0 0 1 357.1 357.1M346.3 356.5A95 95 0 0 1 344.6 356.2M278.5 315.2A95 95 0 0 1 277.5 313.6M262.8 252.5A95 95 0 0 1 263 250.7M268.5 228.3A95 95 0 0 1 269.2 226.7M283.8 201.9A95 95 0 0 1 285 200.5M317.6 175.8A95 95 0 0 1 319.2 175.1M381.6 170.3A95 95 0 0 1 383.3 170.7M404.3 179.5A95 95 0 0 1 405.8 180.4M429.4 200.2A95 95 0 0 1 430.5 201.6"/>
<path stroke="#ecc8c4" d="M449.2 286.2A95 95 0 0 1 448.7 287.9M445.9 296.3A95 95 0 0 1 445.3 297.9M436.6 314.4A95 95 0 0 1 435.6 315.9M421.8 331.9A95 95 0 0 1 420.5 333.1M420.6 332.9A95 95 0 0 1 419.3 334.1M296.6 335.1A95 95 0 0 1 295.2 334M266.6 233.8A95 95 0 0 1 267.2 232.1M277.3 210.8A95 95 0 0 1 278.3 209.3M291 194.1A95 95 0 0 1 292.3 192.8M301.8 185A95 95 0 0 1 303.3 184M402.9 178.8A95 95 0 0 1 404.4 179.6M413.2 185.3A95 95 0 0 1 414.6 186.4"/>
<path stroke="#f2d9d6" d="M448.5 288.8A95 95 0 0 1 447.9 290.5M443 303.2A95 95 0 0 1 442.2 304.8M432.2 320.5A95 95 0 0 1 431.2 321.9M430.3 322.9A95 95 0 0 1 429.2 324.2M400.3 346.8A95 95 0 0 1 398.7 347.6M377.5 354.9A95 95 0 0 1 375.7 355.3M375.9 355.3A95 95 0 0 1 374.1 355.6M352.6 357A95 95 0 0 1 350.8 356.9M341.7 355.8A95 95 0 0 1 339.9 355.5M337.5 355A95 95 0 0 1 335.7 354.6M298.7 336.9A95 95 0 0 1 297.3 335.8M269.9 299.4A95 95 0 0 1 269.2 297.7M268.3 295.3A95 95 0 0 1 267.7 293.7M263.3 276.1A95 95 0 0 1 263.1 274.4M272.2 219.9A95 95 0 0 1 273 218.4M284.8 200.7A95 95 0 0 1 286 199.3M292.1 193A95 95 0 0 1 293.4 191.8M296.8 188.8A95 95 0 0 1 298.2 187.7M314.8 177.1A95 95 0 0 1 316.4 176.4M324.5 173A95 95 0 0 1 326.1 172.4M325.9 172.4A95 95 0 0 1 327.6 171.9M385.7 171.4A95 95 0 0 1 387.4 172M387.2 171.9A95 95 0 0 1 388.8 172.5M401.5 178A95 95 0 0 1 403.1 178.9M431.5 202.7A95 95 0 0 1 432.6 204.2M435.4 208A95 95 0 0 1 436.4 209.5M445.7 227.2A95 95 0 0 1 446.3 228.9"/>
<path stroke="#e4b7b3" d="M443.6 301.7A95 95 0 0 1 442.9 303.4M434.1 318A95 95 0 0 1 433.1 319.4M349.5 356.8A95 95 0 0 1 347.7 356.6M347.9 356.6A95 95 0 0 1 346.2 356.4M313.7 346.5A95 95 0 0 1 312.1 345.6M280.1 317.4A95 95 0 0 1 279 315.9M263 273.4A95 95 0 0 1 262.8 271.7M262.4 258.3A95 95 0 0 1 262.5 256.5M262.5 256.7A95 95 0 0 1 262.6 255M267.1 232.3A95 95 0 0 1 267.7 230.6M274.3 215.9A95 95 0 0 1 275.2 214.4M276.5 212.2A95 95 0 0 1 277.4 210.7M336.2 169.5A95 95 0 0 1 337.9 169.1M423 193.5A95 95 0 0 1 424.3 194.7M424.1 194.6A95 95 0 0 1 425.4 195.9M427.2 197.7A95 95 0 0 1 428.4 199.1M430.4 201.4A95 95 0 0 1 431.6 202.9"/>
<path stroke="#dba6a2" d="M435.7 315.7A95 95 0 0 1 434.7 317.2M320.6 349.7A95 95 0 0 1 318.9 349M269.3 297.9A95 95 0 0 1 268.6 296.2M268 229.7A95 95 0 0 1 268.6 228.1M285.9 199.5A95 95 0 0 1 287.1 198.1M305.4 182.6A95 95 0 0 1 306.8 181.6M323 173.5A95 95 0 0 1 324.6 172.9"/>
<path stroke="#d29691" d="M263.6 277.6A95 95 0 0 1 263.3 275.9M273.6 217.2A95 95 0 0 1 274.4 215.7M286.9 198.3A95 95 0 0 1 288.1 197M320.5 174.5A95 95 0 0 1 322.1 173.9M425.3 195.7A95 95 0 0 1 426.5 197M428.3 199A95 95 0 0 1 429.5 200.3"/>
<path stroke="#ca8580" d="M275.7 213.5A95 95 0 0 1 276.6 212M303.1 184.1A95 95 0 0 1 304.5 183.1M405.6 180.3A95 95 0 0 1 407.1 181.2M410.6 183.4A95 95 0 0 1 412.1 184.5"/>
<path stroke="#b0534d" d="M288.8 196.3A95 95 0 0 1 290 195"/>
<path stroke="#b9645e" d="M319.1 175.1A95 95 0 0 1 320.7 174.4"/>
<path stroke="#c2746f" d="M384.2 171A95 95 0 0 1 385.9 171.5M406.9 181.1A95 95 0 0 1 408.4 182M409.2 182.6A95 95 0 0 1 410.7 183.6M411.9 184.4A95 95 0 0 1 413.4 185.4"/>
</g>
<g fill="none" stroke-width="3">
<path stroke="#ecc8c4" d="M448.2 263.3A90.9 90.9 0 0 1 448.2 265M442.6 293.4A90.9 90.9 0 0 1 442 295M415.9 331.6A90.9 90.9 0 0 1 414.6 332.7M414.8 332.5A90.9 90.9 0 0 1 413.4 333.6M319.3 344.7A90.9 90.9 0 0 1 317.8 344M317 343.6A90.9 90.9 0 0 1 315.4 342.8M283.4 315A90.9 90.9 0 0 1 282.4 313.6M280.2 310.2A90.9 90.9 0 0 1 279.3 308.7M273.1 296.3A90.9 90.9 0 0 1 272.5 294.7M267 272.9A90.9 90.9 0 0 1 266.9 271.3M266.7 254.4A90.9 90.9 0 0 1 266.9 252.7M288 203.3A90.9 90.9 0 0 1 289.1 202M304.2 188.3A90.9 90.9 0 0 1 305.6 187.3M308.9 185.2A90.9 90.9 0 0 1 310.3 184.3M320.7 178.9A90.9 90.9 0 0 1 322.3 178.2M322.1 178.3A90.9 90.9 0 0 1 323.6 177.7M330.1 175.4A90.9 90.9 0 0 1 331.6 174.9M403.5 183.8A90.9 90.9 0 0 1 405 184.7M410.8 188.6A90.9 90.9 0 0 1 412.2 189.6"/>
<path stroke="#f0d4d0" d="M448.2 264.8A90.9 90.9 0 0 1 448.1 266.4M445.6 283.8A90.9 90.9 0 0 1 445.2 285.4M441 297.6A90.9 90.9 0 0 1 440.3 299.2M434 310.8A90.9 90.9 0 0 1 433.1 312.3M420.1 327.9A90.9 90.9 0 0 1 418.8 329M398.4 343.2A90.9 90.9 0 0 1 396.9 343.9M380.6 350A90.9 90.9 0 0 1 378.9 350.4M358.8 353A90.9 90.9 0 0 1 357.1 353M320.8 345.3A90.9 90.9 0 0 1 319.2 344.6M314.2 342.1A90.9 90.9 0 0 1 312.7 341.3M281 311.6A90.9 90.9 0 0 1 280.1 310.1M267 251.4A90.9 90.9 0 0 1 267.3 249.7M288.9 202.2A90.9 90.9 0 0 1 290.1 200.9M293.9 197A90.9 90.9 0 0 1 295.1 195.8M380.5 174.2A90.9 90.9 0 0 1 382.2 174.7M383 174.9A90.9 90.9 0 0 1 384.7 175.4M399.6 181.7A90.9 90.9 0 0 1 401.1 182.4M400.9 182.4A90.9 90.9 0 0 1 402.4 183.2M409.5 187.7A90.9 90.9 0 0 1 410.9 188.7M444.3 235.7A90.9 90.9 0 0 1 444.7 237.3M444.7 237.1A90.9 90.9 0 0 1 445.1 238.7M447.6 251.3A90.9 90.9 0 0 1 447.7 253"/>
<path stroke="#faf0ef" d="M448.1 266.2A90.9 90.9 0 0 1 448 267.9M447.9 269.2A90.9 90.9 0 0 1 447.8 270.9M447.3 275.1A90.9 90.9 0 0 1 447 276.7M437.2 305.5A90.9 90.9 0 0 1 436.3 307M423.2 324.7A90.9 90.9 0 0 1 422 325.9M422.2 325.8A90.9 90.9 0 0 1 421 327M407.5 337.9A90.9 90.9 0 0 1 406.1 338.8M405 339.5A90.9 90.9 0 0 1 403.5 340.4M399.8 342.5A90.9 90.9 0 0 1 398.3 343.3M390.6 346.7A90.9 90.9 0 0 1 389 347.3M386.3 348.2A90.9 90.9 0 0 1 384.7 348.8M382 349.6A90.9 90.9 0 0 1 380.4 350M372.1 351.8A90.9 90.9 0 0 1 370.4 352.1M369.1 352.2A90.9 90.9 0 0 1 367.4 352.4M367.5 352.4A90.9 90.9 0 0 1 365.8 352.6M345.3 352.2A90.9 90.9 0 0 1 343.7 352M333.8 349.9A90.9 90.9 0 0 1 332.2 349.5M332.3 349.5A90.9 90.9 0 0 1 330.7 349M329.4 348.6A90.9 90.9 0 0 1 327.8 348.1M326.5 347.6A90.9 90.9 0 0 1 324.9 347M322.2 345.9A90.9 90.9 0 0 1 320.6 345.3M306.3 337.3A90.9 90.9 0 0 1 304.8 336.3M296.8 330A90.9 90.9 0 0 1 295.5 328.8M295.7 328.9A90.9 90.9 0 0 1 294.4 327.7M286.2 318.7A90.9 90.9 0 0 1 285.1 317.4M275.7 302.1A90.9 90.9 0 0 1 274.9 300.5M273.7 297.8A90.9 90.9 0 0 1 273 296.2M271.2 291.1A90.9 90.9 0 0 1 270.6 289.5M269.5 285.5A90.9 90.9 0 0 1 269.1 283.9M268.4 281.2A90.9 90.9 0 0 1 268.1 279.6M266.5 267.1A90.9 90.9 0 0 1 266.5 265.5M266.5 265.7A90.9 90.9 0 0 1 266.4 264.1M266.4 262.8A90.9 90.9 0 0 1 266.4 261.1M266.4 261.3A90.9 90.9 0 0 1 266.4 259.7M268.2 243.9A90.9 90.9 0 0 1 268.6 242.2M269.7 237.9A90.9 90.9 0 0 1 270.1 236.3M275.2 223A90.9 90.9 0 0 1 275.9 221.5M296 194.9A90.9 90.9 0 0 1 297.3 193.8M297.2 193.9A90.9 90.9 0 0 1 298.4 192.8M300.6 191A90.9 90.9 0 0 1 301.9 190M301.8 190.1A90.9 90.9 0 0 1 303.1 189.1M314 182.2A90.9 90.9 0 0 1 315.5 181.4M328.7 175.8A90.9 90.9 0 0 1 330.2 175.3M332.9 174.5A90.9 90.9 0 0 1 334.5 174.1M348.4 171.6A90.9 90.9 0 0 1 350 171.5M349.9 171.5A90.9 90.9 0 0 1 351.5 171.4M351.3 171.4A90.9 90.9 0 0 1 353 171.3M374.7 172.9A90.9 90.9 0 0 1 376.3 173.2M385.9 175.8A90.9 90.9 0 0 1 387.5 176.4M395.6 179.7A90.9 90.9 0 0 1 397.1 180.4M398.3 181A90.9 90.9 0 0 1 399.8 181.7M416.8 193.4A90.9 90.9 0 0 1 418.1 194.5M431.1 209A90.9 90.9 0 0 1 432.1 210.5M443.4 232.9A90.9 90.9 0 0 1 443.9 234.5M443.8 234.3A90.9 90.9 0 0 1 444.3 235.9M446.9 246.9A90.9 90.9 0 0 1 447.2 248.6"/>
<path stroke="#f8eae9" d="M448 267.7A90.9 90.9 0 0 1 447.9 269.4M447 276.5A90.9 90.9 0 0 1 446.8 278.2M446.5 279.4A90.9 90.9 0 0 1 446.2 281.1M443.1 292A90.9 90.9 0 0 1 442.6 293.6M437.9 304.2A90.9 90.9 0 0 1 437.1 305.7M436.4 306.9A90.9 90.9 0 0 1 435.5 308.4M434.8 309.5A90.9 90.9 0 0 1 433.9 311M410 336.2A90.9 90.9 0 0 1 408.6 337.1M402.4 341A90.9 90.9 0 0 1 400.9 341.9M394.7 344.9A90.9 90.9 0 0 1 393.2 345.6M393.3 345.6A90.9 90.9 0 0 1 391.8 346.2M389.2 347.2A90.9 90.9 0 0 1 387.6 347.8M373.6 351.5A90.9 90.9 0 0 1 371.9 351.8M343.8 352A90.9 90.9 0 0 1 342.2 351.7M336.8 350.7A90.9 90.9 0 0 1 335.1 350.3M311.5 340.6A90.9 90.9 0 0 1 310 339.7M303.7 335.5A90.9 90.9 0 0 1 302.3 334.5M292.4 325.7A90.9 90.9 0 0 1 291.2 324.4M290.2 323.5A90.9 90.9 0 0 1 289.1 322.2M287.2 320A90.9 90.9 0 0 1 286.1 318.6M267.2 249.9A90.9 90.9 0 0 1 267.5 248.2M267.7 246.9A90.9 90.9 0 0 1 268 245.2M268 245.4A90.9 90.9 0 0 1 268.3 243.7M268.6 242.4A90.9 90.9 0 0 1 269 240.7M274 225.7A90.9 90.9 0 0 1 274.7 224.2M274.6 224.3A90.9 90.9 0 0 1 275.3 222.9M275.9 221.7A90.9 90.9 0 0 1 276.6 220.2M284.2 208.1A90.9 90.9 0 0 1 285.2 206.7M286 205.7A90.9 90.9 0 0 1 287.1 204.3M311.4 183.6A90.9 90.9 0 0 1 312.9 182.8M312.7 182.9A90.9 90.9 0 0 1 314.2 182.1M316.7 180.8A90.9 90.9 0 0 1 318.2 180.1M334.3 174.2A90.9 90.9 0 0 1 335.9 173.8M335.7 173.8A90.9 90.9 0 0 1 337.3 173.4M371.7 172.3A90.9 90.9 0 0 1 373.4 172.6M376.1 173.2A90.9 90.9 0 0 1 377.8 173.5M377.6 173.5A90.9 90.9 0 0 1 379.3 173.9M391.5 177.9A90.9 90.9 0 0 1 393 178.5M397 180.3A90.9 90.9 0 0 1 398.5 181.1M412 189.5A90.9 90.9 0 0 1 413.4 190.6M414.4 191.4A90.9 90.9 0 0 1 415.8 192.5M427.3 204.1A90.9 90.9 0 0 1 428.4 205.4M436.7 217.9A90.9 90.9 0 0 1 437.6 219.5M442.4 230.1A90.9 90.9 0 0 1 443 231.7M445.7 241A90.9 90.9 0 0 1 446.1 242.7M446.7 245.4A90.9 90.9 0 0 1 447 247.1M447.4 249.9A90.9 90.9 0 0 1 447.6 251.5"/>
<path stroke="#f6e5e3" d="M447.8 270.7A90.9 90.9 0 0 1 447.6 272.3M447.5 273.6A90.9 90.9 0 0 1 447.2 275.3M446.8 278A90.9 90.9 0 0 1 446.5 279.6M446.2 280.9A90.9 90.9 0 0 1 445.9 282.5M445.9 282.3A90.9 90.9 0 0 1 445.5 283.9M427.1 320.3A90.9 90.9 0 0 1 426.1 321.6M421.1 326.8A90.9 90.9 0 0 1 419.9 328M413.6 333.5A90.9 90.9 0 0 1 412.2 334.5M408.7 337A90.9 90.9 0 0 1 407.3 338M387.8 347.7A90.9 90.9 0 0 1 386.2 348.3M376.6 350.9A90.9 90.9 0 0 1 374.9 351.3M366 352.6A90.9 90.9 0 0 1 364.3 352.7M363 352.8A90.9 90.9 0 0 1 361.3 352.9M361.4 352.9A90.9 90.9 0 0 1 359.7 353M354.3 353A90.9 90.9 0 0 1 352.6 352.9M327.9 348.1A90.9 90.9 0 0 1 326.3 347.5M312.8 341.4A90.9 90.9 0 0 1 311.3 340.5M305 336.4A90.9 90.9 0 0 1 303.6 335.4M302.5 334.6A90.9 90.9 0 0 1 301.1 333.5M289.2 322.3A90.9 90.9 0 0 1 288.1 321M285.3 317.5A90.9 90.9 0 0 1 284.2 316.1M284.3 316.3A90.9 90.9 0 0 1 283.3 314.9M274.3 299.2A90.9 90.9 0 0 1 273.6 297.6M270.7 289.7A90.9 90.9 0 0 1 270.2 288.1M270.3 288.3A90.9 90.9 0 0 1 269.8 286.7M269.1 284.1A90.9 90.9 0 0 1 268.7 282.5M268.1 279.8A90.9 90.9 0 0 1 267.8 278.2M266.9 271.5A90.9 90.9 0 0 1 266.7 269.9M266.6 268.6A90.9 90.9 0 0 1 266.5 267M266.4 259.9A90.9 90.9 0 0 1 266.5 258.2M267.4 248.4A90.9 90.9 0 0 1 267.7 246.7M273.4 227A90.9 90.9 0 0 1 274.1 225.5M283.3 209.3A90.9 90.9 0 0 1 284.3 207.9M337.2 173.5A90.9 90.9 0 0 1 338.8 173.1M341.1 172.7A90.9 90.9 0 0 1 342.8 172.4M342.6 172.4A90.9 90.9 0 0 1 344.2 172.1M362.8 171.4A90.9 90.9 0 0 1 364.4 171.5M367.2 171.7A90.9 90.9 0 0 1 368.9 171.9M387.3 176.3A90.9 90.9 0 0 1 388.9 176.9M392.9 178.4A90.9 90.9 0 0 1 394.4 179.1M417.9 194.4A90.9 90.9 0 0 1 419.2 195.5M432 210.3A90.9 90.9 0 0 1 433 211.8M434.3 213.9A90.9 90.9 0 0 1 435.3 215.4M436 216.6A90.9 90.9 0 0 1 436.8 218.1M438.2 220.7A90.9 90.9 0 0 1 439 222.3M438.9 222.1A90.9 90.9 0 0 1 439.7 223.7M441.9 228.7A90.9 90.9 0 0 1 442.5 230.3M447.2 248.4A90.9 90.9 0 0 1 447.4 250"/>
<path stroke="#fcf6f5" d="M447.6 272.1A90.9 90.9 0 0 1 447.4 273.8M435.6 308.2A90.9 90.9 0 0 1 434.7 309.7M411.2 335.3A90.9 90.9 0 0 1 409.8 336.3M406.2 338.7A90.9 90.9 0 0 1 404.8 339.6M403.7 340.3A90.9 90.9 0 0 1 402.2 341.1M392 346.1A90.9 90.9 0 0 1 390.4 346.8M384.9 348.7A90.9 90.9 0 0 1 383.3 349.2M383.5 349.2A90.9 90.9 0 0 1 381.8 349.6M355.8 353A90.9 90.9 0 0 1 354.1 352.9M330.9 349.1A90.9 90.9 0 0 1 329.2 348.6M325 347.1A90.9 90.9 0 0 1 323.4 346.4M310.2 339.8A90.9 90.9 0 0 1 308.7 338.9M308.8 339A90.9 90.9 0 0 1 307.4 338.1M307.5 338.2A90.9 90.9 0 0 1 306.1 337.2M294.6 327.9A90.9 90.9 0 0 1 293.3 326.7M293.4 326.8A90.9 90.9 0 0 1 292.2 325.6M291.3 324.6A90.9 90.9 0 0 1 290.1 323.3M279.4 308.9A90.9 90.9 0 0 1 278.5 307.4M278.6 307.6A90.9 90.9 0 0 1 277.7 306M277.1 304.8A90.9 90.9 0 0 1 276.3 303.3M276.3 303.4A90.9 90.9 0 0 1 275.6 301.9M275 300.6A90.9 90.9 0 0 1 274.2 299M269.9 286.9A90.9 90.9 0 0 1 269.4 285.3M268.8 282.7A90.9 90.9 0 0 1 268.4 281.1M266.7 270A90.9 90.9 0 0 1 266.6 268.4M266.4 264.2A90.9 90.9 0 0 1 266.4 262.6M268.9 240.9A90.9 90.9 0 0 1 269.3 239.2M269.3 239.4A90.9 90.9 0 0 1 269.7 237.8M285.1 206.9A90.9 90.9 0 0 1 286.2 205.5M299.4 192A90.9 90.9 0 0 1 300.8 190.9M315.3 181.5A90.9 90.9 0 0 1 316.8 180.7M331.5 174.9A90.9 90.9 0 0 1 333.1 174.5M345.5 172A90.9 90.9 0 0 1 347.1 171.8M346.9 171.8A90.9 90.9 0 0 1 348.6 171.6M352.8 171.3A90.9 90.9 0 0 1 354.4 171.2M354.2 171.3A90.9 90.9 0 0 1 355.9 171.2M364.3 171.5A90.9 90.9 0 0 1 365.9 171.6M368.7 171.9A90.9 90.9 0 0 1 370.4 172.2M373.2 172.6A90.9 90.9 0 0 1 374.9 172.9M388.7 176.8A90.9 90.9 0 0 1 390.3 177.4M390.1 177.3A90.9 90.9 0 0 1 391.7 177.9M394.2 179A90.9 90.9 0 0 1 395.8 179.7M415.6 192.4A90.9 90.9 0 0 1 416.9 193.5M429.2 206.5A90.9 90.9 0 0 1 430.3 207.9M430.2 207.8A90.9 90.9 0 0 1 431.2 209.2M437.5 219.3A90.9 90.9 0 0 1 438.3 220.9M446.1 242.5A90.9 90.9 0 0 1 446.4 244.1M446.4 244A90.9 90.9 0 0 1 446.7 245.6"/>
<path stroke="#f2d9d6" d="M445.2 285.2A90.9 90.9 0 0 1 444.8 286.8M444.1 289.1A90.9 90.9 0 0 1 443.6 290.7M443.6 290.6A90.9 90.9 0 0 1 443.1 292.2M441.6 296.2A90.9 90.9 0 0 1 440.9 297.8M438.6 302.8A90.9 90.9 0 0 1 437.8 304.3M433.2 312.1A90.9 90.9 0 0 1 432.2 313.6M429 318A90.9 90.9 0 0 1 428 319.3M426.2 321.4A90.9 90.9 0 0 1 425.1 322.7M425.2 322.5A90.9 90.9 0 0 1 424.1 323.8M352.8 352.9A90.9 90.9 0 0 1 351.1 352.8M351.3 352.8A90.9 90.9 0 0 1 349.6 352.7M338.3 351A90.9 90.9 0 0 1 336.6 350.6M335.3 350.3A90.9 90.9 0 0 1 333.6 349.9M301.2 333.7A90.9 90.9 0 0 1 299.9 332.6M288.2 321.1A90.9 90.9 0 0 1 287.1 319.8M277.8 306.2A90.9 90.9 0 0 1 277 304.7M267.9 278.4A90.9 90.9 0 0 1 267.6 276.7M267.6 276.9A90.9 90.9 0 0 1 267.4 275.3M266.9 252.9A90.9 90.9 0 0 1 267.1 251.2M270.1 236.5A90.9 90.9 0 0 1 270.6 234.8M272.9 228.4A90.9 90.9 0 0 1 273.5 226.8M280.8 213A90.9 90.9 0 0 1 281.7 211.6M281.6 211.8A90.9 90.9 0 0 1 282.6 210.4M318 180.1A90.9 90.9 0 0 1 319.5 179.4M338.6 173.1A90.9 90.9 0 0 1 340.2 172.8M355.7 171.2A90.9 90.9 0 0 1 357.4 171.2M365.8 171.6A90.9 90.9 0 0 1 367.4 171.8M370.2 172.1A90.9 90.9 0 0 1 371.9 172.4M379.1 173.8A90.9 90.9 0 0 1 380.7 174.3M384.5 175.4A90.9 90.9 0 0 1 386.1 175.9M413.2 190.4A90.9 90.9 0 0 1 414.6 191.5M439.6 223.5A90.9 90.9 0 0 1 440.3 225.1M440.3 224.9A90.9 90.9 0 0 1 441 226.5"/>
<path stroke="#f4dfdc" d="M444.5 287.7A90.9 90.9 0 0 1 444 289.3M439.3 301.4A90.9 90.9 0 0 1 438.5 303M428.1 319.1A90.9 90.9 0 0 1 427 320.4M424.2 323.6A90.9 90.9 0 0 1 423.1 324.9M412.4 334.4A90.9 90.9 0 0 1 411 335.4M401.1 341.8A90.9 90.9 0 0 1 399.6 342.6M375.1 351.2A90.9 90.9 0 0 1 373.4 351.6M370.6 352A90.9 90.9 0 0 1 368.9 352.3M364.5 352.7A90.9 90.9 0 0 1 362.8 352.8M357.3 353A90.9 90.9 0 0 1 355.6 353M342.4 351.8A90.9 90.9 0 0 1 340.7 351.5M340.9 351.5A90.9 90.9 0 0 1 339.2 351.2M323.6 346.5A90.9 90.9 0 0 1 322 345.9M298 331A90.9 90.9 0 0 1 296.7 329.8M272.1 293.9A90.9 90.9 0 0 1 271.6 292.3M270.5 235A90.9 90.9 0 0 1 271.1 233.4M272.4 229.7A90.9 90.9 0 0 1 273 228.2M282.4 210.5A90.9 90.9 0 0 1 283.4 209.1M287 204.5A90.9 90.9 0 0 1 288.1 203.2M294.9 196A90.9 90.9 0 0 1 296.2 194.8M298.3 193A90.9 90.9 0 0 1 299.6 191.9M327.3 176.3A90.9 90.9 0 0 1 328.8 175.8M344 172.2A90.9 90.9 0 0 1 345.7 171.9M359.8 171.2A90.9 90.9 0 0 1 361.4 171.3M361.3 171.3A90.9 90.9 0 0 1 362.9 171.4M419.1 195.4A90.9 90.9 0 0 1 420.3 196.6M435.2 215.2A90.9 90.9 0 0 1 436.1 216.7M441.3 227.4A90.9 90.9 0 0 1 441.9 228.9M442.9 231.5A90.9 90.9 0 0 1 443.4 233.1M445.4 239.6A90.9 90.9 0 0 1 445.8 241.2"/>
<path stroke="#eececa" d="M442.1 294.8A90.9 90.9 0 0 1 441.5 296.4M439.9 300A90.9 90.9 0 0 1 439.2 301.6M430.8 315.6A90.9 90.9 0 0 1 429.8 316.9M429.9 316.8A90.9 90.9 0 0 1 428.9 318.1M419 328.9A90.9 90.9 0 0 1 417.7 330M379.1 350.3A90.9 90.9 0 0 1 377.5 350.7M349.8 352.7A90.9 90.9 0 0 1 348.1 352.5M346.8 352.4A90.9 90.9 0 0 1 345.1 352.2M315.6 342.9A90.9 90.9 0 0 1 314 342M281.9 312.9A90.9 90.9 0 0 1 280.9 311.4M266.5 258.4A90.9 90.9 0 0 1 266.6 256.8M266.5 257A90.9 90.9 0 0 1 266.7 255.3M271.9 231.1A90.9 90.9 0 0 1 272.4 229.5M276.5 220.4A90.9 90.9 0 0 1 277.3 219M303 189.2A90.9 90.9 0 0 1 304.4 188.2M310.1 184.4A90.9 90.9 0 0 1 311.6 183.5M319.4 179.5A90.9 90.9 0 0 1 320.9 178.8M325.9 176.8A90.9 90.9 0 0 1 327.4 176.2M357.2 171.2A90.9 90.9 0 0 1 358.8 171.2M408.3 186.8A90.9 90.9 0 0 1 409.7 187.8M421.3 197.5A90.9 90.9 0 0 1 422.5 198.7M426.2 202.9A90.9 90.9 0 0 1 427.4 204.2M432.9 211.6A90.9 90.9 0 0 1 433.9 213.1"/>
<path stroke="#a8423c" d="M432.3 313.4A90.9 90.9 0 0 1 431.3 314.8"/>
<path stroke="#dba6a2" d="M417.9 329.9A90.9 90.9 0 0 1 416.6 331M396.1 344.3A90.9 90.9 0 0 1 394.5 345M348.3 352.6A90.9 90.9 0 0 1 346.6 352.4M280 214.3A90.9 90.9 0 0 1 280.9 212.9M324.5 177.3A90.9 90.9 0 0 1 326.1 176.7M428.3 205.3A90.9 90.9 0 0 1 429.3 206.7"/>
<path stroke="#e4b7b3" d="M299.2 332A90.9 90.9 0 0 1 297.9 330.9M271.6 292.5A90.9 90.9 0 0 1 271.1 290.9M267.4 275.5A90.9 90.9 0 0 1 267.2 273.9M271 233.6A90.9 90.9 0 0 1 271.5 232M277.9 217.8A90.9 90.9 0 0 1 278.7 216.4M307.6 186A90.9 90.9 0 0 1 309 185.1M402.2 183.1A90.9 90.9 0 0 1 403.7 183.9M420.2 196.4A90.9 90.9 0 0 1 421.4 197.6"/>
<path stroke="#d29691" d="M277.2 219.1A90.9 90.9 0 0 1 278 217.7M290 201A90.9 90.9 0 0 1 291.1 199.8M291.7 199.1A90.9 90.9 0 0 1 292.9 197.9M292.8 198.1A90.9 90.9 0 0 1 294 196.9M305.4 187.5A90.9 90.9 0 0 1 306.8 186.5M404.8 184.6A90.9 90.9 0 0 1 406.2 185.5M422.3 198.6A90.9 90.9 0 0 1 423.5 199.8"/>
<path stroke="#c2746f" d="M279.2 215.6A90.9 90.9 0 0 1 280.1 214.2M425.2 201.7A90.9 90.9 0 0 1 426.4 203"/>
<path stroke="#ca8580" d="M407 186A90.9 90.9 0 0 1 408.4 186.9M424.2 200.5A90.9 90.9 0 0 1 425.3 201.8"/>
</g>
<g fill="none" stroke-width="3">
<path stroke="#f6e5e3" d="M444.1 263.2A86.8 86.8 0 0 1 444.1 264.8M441.6 282.8A86.8 86.8 0 0 1 441.2 284.3M438.8 292A86.8 86.8 0 0 1 438.2 293.5M437.8 294.7A86.8 86.8 0 0 1 437.1 296.2M436.2 298.3A86.8 86.8 0 0 1 435.5 299.8M435.6 299.6A86.8 86.8 0 0 1 434.8 301.1M430.6 308.7A86.8 86.8 0 0 1 429.7 310M427.5 313.2A86.8 86.8 0 0 1 426.5 314.5M426.6 314.3A86.8 86.8 0 0 1 425.7 315.6M423.1 318.7A86.8 86.8 0 0 1 422 319.9M411 330.3A86.8 86.8 0 0 1 409.8 331.2M399.1 338.2A86.8 86.8 0 0 1 397.7 338.9M372.9 347.5A86.8 86.8 0 0 1 371.2 347.8M351.6 348.7A86.8 86.8 0 0 1 350 348.6M347.3 348.3A86.8 86.8 0 0 1 345.7 348.1M343 347.7A86.8 86.8 0 0 1 341.4 347.4M341.6 347.5A86.8 86.8 0 0 1 340 347.2M337.7 346.7A86.8 86.8 0 0 1 336.1 346.3M303.8 330.4A86.8 86.8 0 0 1 302.5 329.4M288.5 315A86.8 86.8 0 0 1 287.5 313.7M285.3 310.6A86.8 86.8 0 0 1 284.4 309.2M276 292.4A86.8 86.8 0 0 1 275.4 290.9M271.7 276.3A86.8 86.8 0 0 1 271.4 274.7M271.4 274.9A86.8 86.8 0 0 1 271.2 273.3M271.1 272.5A86.8 86.8 0 0 1 270.9 270.9M270.8 254.8A86.8 86.8 0 0 1 271 253.1M270.9 253.3A86.8 86.8 0 0 1 271.1 251.7M274.4 236.2A86.8 86.8 0 0 1 274.9 234.7M274.9 234.9A86.8 86.8 0 0 1 275.4 233.3M279.5 223.5A86.8 86.8 0 0 1 280.2 222.1M280.8 221.1A86.8 86.8 0 0 1 281.6 219.7M283.5 216.5A86.8 86.8 0 0 1 284.3 215.1M284.2 215.3A86.8 86.8 0 0 1 285.1 213.9M290.2 207.1A86.8 86.8 0 0 1 291.2 205.8M295.7 200.9A86.8 86.8 0 0 1 296.9 199.8M296.7 199.9A86.8 86.8 0 0 1 297.9 198.8M307.8 190.8A86.8 86.8 0 0 1 309.1 189.9M322.4 182.6A86.8 86.8 0 0 1 323.8 182M339.4 177.2A86.8 86.8 0 0 1 341 176.8M378.1 177.8A86.8 86.8 0 0 1 379.7 178.2M409.5 192.8A86.8 86.8 0 0 1 410.8 193.8M410.7 193.7A86.8 86.8 0 0 1 412 194.7M417.3 199.4A86.8 86.8 0 0 1 418.5 200.6M423.1 205.5A86.8 86.8 0 0 1 424.2 206.8M436.5 226.6A86.8 86.8 0 0 1 437.2 228.1M440.4 236.9A86.8 86.8 0 0 1 440.8 238.4"/>
<path stroke="#f8eae9" d="M444.1 264.6A86.8 86.8 0 0 1 444 266.2M442.8 277.3A86.8 86.8 0 0 1 442.5 278.8M442.2 280A86.8 86.8 0 0 1 441.9 281.6M441.9 281.4A86.8 86.8 0 0 1 441.6 283M441.3 284.2A86.8 86.8 0 0 1 440.8 285.7M440.6 286.5A86.8 86.8 0 0 1 440.1 288.1M440.2 287.9A86.8 86.8 0 0 1 439.7 289.5M439.7 289.3A86.8 86.8 0 0 1 439.2 290.8M429.8 309.9A86.8 86.8 0 0 1 428.8 311.3M422.1 319.8A86.8 86.8 0 0 1 421.1 321M417.2 324.9A86.8 86.8 0 0 1 416.1 326M416.2 325.9A86.8 86.8 0 0 1 415 326.9M396.6 339.5A86.8 86.8 0 0 1 395.1 340.2M380.9 345.6A86.8 86.8 0 0 1 379.4 346.1M378.1 346.4A86.8 86.8 0 0 1 376.6 346.7M361.3 348.8A86.8 86.8 0 0 1 359.6 348.9M339.2 347A86.8 86.8 0 0 1 337.6 346.6M336.3 346.3A86.8 86.8 0 0 1 334.7 345.9M323.8 342.2A86.8 86.8 0 0 1 322.2 341.5M322.4 341.6A86.8 86.8 0 0 1 320.9 340.9M318.8 339.9A86.8 86.8 0 0 1 317.3 339.1M312.3 336.3A86.8 86.8 0 0 1 310.9 335.4M304.9 331.3A86.8 86.8 0 0 1 303.6 330.3M300.7 327.9A86.8 86.8 0 0 1 299.4 326.8M297.4 324.9A86.8 86.8 0 0 1 296.2 323.7M287.6 313.9A86.8 86.8 0 0 1 286.6 312.5M284.5 309.3A86.8 86.8 0 0 1 283.6 307.9M282.9 306.8A86.8 86.8 0 0 1 282 305.4M282.1 305.5A86.8 86.8 0 0 1 281.3 304.1M277.5 296.2A86.8 86.8 0 0 1 276.8 294.6M274.2 287.1A86.8 86.8 0 0 1 273.7 285.6M270.8 269.7A86.8 86.8 0 0 1 270.7 268.1M270.5 262.8A86.8 86.8 0 0 1 270.5 261.2M271.1 251.9A86.8 86.8 0 0 1 271.3 250.2M271.3 250.4A86.8 86.8 0 0 1 271.5 248.8M271.5 249A86.8 86.8 0 0 1 271.8 247.4M271.7 247.5A86.8 86.8 0 0 1 272 245.9M274 237.6A86.8 86.8 0 0 1 274.5 236.1M276.7 229.9A86.8 86.8 0 0 1 277.3 228.4M277.2 228.6A86.8 86.8 0 0 1 277.8 227.2M289.3 208.2A86.8 86.8 0 0 1 290.3 206.9M297.8 198.9A86.8 86.8 0 0 1 298.9 197.8M298.8 198A86.8 86.8 0 0 1 300 196.9M299.9 197A86.8 86.8 0 0 1 301.1 196M304.3 193.4A86.8 86.8 0 0 1 305.6 192.4M305.4 192.5A86.8 86.8 0 0 1 306.7 191.5M313.5 187.2A86.8 86.8 0 0 1 314.9 186.4M327.3 180.7A86.8 86.8 0 0 1 328.8 180.1M336.7 177.8A86.8 86.8 0 0 1 338.2 177.4M341.9 176.7A86.8 86.8 0 0 1 343.4 176.4M355.8 175.3A86.8 86.8 0 0 1 357.4 175.3M357.2 175.3A86.8 86.8 0 0 1 358.8 175.3M359.6 175.3A86.8 86.8 0 0 1 361.3 175.4M363.9 175.6A86.8 86.8 0 0 1 365.6 175.7M365.4 175.7A86.8 86.8 0 0 1 367 175.8M366.8 175.8A86.8 86.8 0 0 1 368.4 176M379.5 178.2A86.8 86.8 0 0 1 381 178.6M381.9 178.9A86.8 86.8 0 0 1 383.4 179.3M383.2 179.3A86.8 86.8 0 0 1 384.8 179.8M395.2 184A86.8 86.8 0 0 1 396.6 184.7M397.7 185.3A86.8 86.8 0 0 1 399.1 186M411.8 194.6A86.8 86.8 0 0 1 413.1 195.6M416.3 198.4A86.8 86.8 0 0 1 417.5 199.5M424.1 206.7A86.8 86.8 0 0 1 425.2 208M425.1 207.8A86.8 86.8 0 0 1 426.1 209.2M427.8 211.4A86.8 86.8 0 0 1 428.7 212.8M428.6 212.6A86.8 86.8 0 0 1 429.6 214M429.5 213.9A86.8 86.8 0 0 1 430.4 215.3M430.9 216A86.8 86.8 0 0 1 431.7 217.5M431.7 217.3A86.8 86.8 0 0 1 432.5 218.8M441.4 240.6A86.8 86.8 0 0 1 441.8 242.2"/>
<path stroke="#faf0ef" d="M444 266.1A86.8 86.8 0 0 1 443.9 267.6M443.9 267.5A86.8 86.8 0 0 1 443.8 269.1M443.8 268.9A86.8 86.8 0 0 1 443.7 270.5M443.7 270.3A86.8 86.8 0 0 1 443.5 271.9M443.6 271.7A86.8 86.8 0 0 1 443.4 273.3M443.4 273.1A86.8 86.8 0 0 1 443.2 274.7M443 275.9A86.8 86.8 0 0 1 442.7 277.4M442.5 278.7A86.8 86.8 0 0 1 442.2 280.2M434.9 301A86.8 86.8 0 0 1 434.2 302.4M432.8 304.9A86.8 86.8 0 0 1 432 306.3M431.3 307.4A86.8 86.8 0 0 1 430.5 308.8M425.8 315.4A86.8 86.8 0 0 1 424.8 316.7M424 317.7A86.8 86.8 0 0 1 423 318.9M418.2 323.9A86.8 86.8 0 0 1 417.1 325M405.2 334.5A86.8 86.8 0 0 1 403.9 335.3M402.8 336A86.8 86.8 0 0 1 401.4 336.8M397.8 338.9A86.8 86.8 0 0 1 396.4 339.6M394.3 340.6A86.8 86.8 0 0 1 392.9 341.3M393 341.2A86.8 86.8 0 0 1 391.5 341.9M383.7 344.8A86.8 86.8 0 0 1 382.1 345.3M379.5 346A86.8 86.8 0 0 1 378 346.4M375.7 346.9A86.8 86.8 0 0 1 374.1 347.3M374.3 347.2A86.8 86.8 0 0 1 372.7 347.5M371.4 347.7A86.8 86.8 0 0 1 369.8 348M370 348A86.8 86.8 0 0 1 368.3 348.2M368.5 348.2A86.8 86.8 0 0 1 366.9 348.4M367.1 348.3A86.8 86.8 0 0 1 365.4 348.5M362.7 348.7A86.8 86.8 0 0 1 361.1 348.8M357.3 348.9A86.8 86.8 0 0 1 355.7 348.9M353 348.8A86.8 86.8 0 0 1 351.4 348.7M345.9 348.1A86.8 86.8 0 0 1 344.3 347.9M344.5 347.9A86.8 86.8 0 0 1 342.9 347.7M334.9 346A86.8 86.8 0 0 1 333.3 345.5M333.5 345.6A86.8 86.8 0 0 1 331.9 345.1M332.1 345.1A86.8 86.8 0 0 1 330.5 344.7M326.5 343.2A86.8 86.8 0 0 1 324.9 342.6M313.6 337.1A86.8 86.8 0 0 1 312.1 336.2M308.6 333.9A86.8 86.8 0 0 1 307.2 333M307.3 333.1A86.8 86.8 0 0 1 306 332.1M306.1 332.2A86.8 86.8 0 0 1 304.8 331.2M299.6 326.9A86.8 86.8 0 0 1 298.3 325.8M294.3 321.8A86.8 86.8 0 0 1 293.1 320.6M292.3 319.6A86.8 86.8 0 0 1 291.2 318.3M291.3 318.5A86.8 86.8 0 0 1 290.2 317.2M289.4 316.2A86.8 86.8 0 0 1 288.4 314.9M283.7 308.1A86.8 86.8 0 0 1 282.8 306.6M280 301.6A86.8 86.8 0 0 1 279.3 300.1M278.7 298.9A86.8 86.8 0 0 1 278 297.4M275.5 291.1A86.8 86.8 0 0 1 275 289.6M275 289.8A86.8 86.8 0 0 1 274.5 288.3M274.6 288.5A86.8 86.8 0 0 1 274.1 287M273.8 285.8A86.8 86.8 0 0 1 273.4 284.3M273.4 284.5A86.8 86.8 0 0 1 273 282.9M272.2 279A86.8 86.8 0 0 1 271.9 277.5M270.7 268.3A86.8 86.8 0 0 1 270.6 266.7M270.5 261.4A86.8 86.8 0 0 1 270.5 259.8M270.5 260A86.8 86.8 0 0 1 270.6 258.4M272.3 244.7A86.8 86.8 0 0 1 272.6 243.1M272.6 243.3A86.8 86.8 0 0 1 272.9 241.7M273.6 239A86.8 86.8 0 0 1 274.1 237.5M277.8 227.3A86.8 86.8 0 0 1 278.4 225.9M278.3 226A86.8 86.8 0 0 1 279 224.6M278.9 224.8A86.8 86.8 0 0 1 279.6 223.4M285 214.1A86.8 86.8 0 0 1 285.9 212.7M287.5 210.5A86.8 86.8 0 0 1 288.5 209.2M288.4 209.3A86.8 86.8 0 0 1 289.4 208.1M301 196.1A86.8 86.8 0 0 1 302.2 195M303.2 194.2A86.8 86.8 0 0 1 304.4 193.3M314.7 186.5A86.8 86.8 0 0 1 316.1 185.7M316 185.8A86.8 86.8 0 0 1 317.4 185M321.1 183.2A86.8 86.8 0 0 1 322.5 182.6M328.6 180.2A86.8 86.8 0 0 1 330.1 179.7M332.6 178.9A86.8 86.8 0 0 1 334.2 178.4M338.1 177.5A86.8 86.8 0 0 1 339.6 177.1M346 176A86.8 86.8 0 0 1 347.6 175.8M351.6 175.5A86.8 86.8 0 0 1 353.2 175.4M354.4 175.3A86.8 86.8 0 0 1 356 175.3M362.5 175.5A86.8 86.8 0 0 1 364.1 175.6M368.2 176A86.8 86.8 0 0 1 369.8 176.2M372.5 176.6A86.8 86.8 0 0 1 374.1 176.9M373.9 176.9A86.8 86.8 0 0 1 375.5 177.2M375.3 177.2A86.8 86.8 0 0 1 376.9 177.5M388.6 181.2A86.8 86.8 0 0 1 390.1 181.7M391.3 182.2A86.8 86.8 0 0 1 392.7 182.9M392.6 182.8A86.8 86.8 0 0 1 394 183.5M396.4 184.6A86.8 86.8 0 0 1 397.9 185.4M415.2 197.4A86.8 86.8 0 0 1 416.4 198.5M433.2 219.9A86.8 86.8 0 0 1 434 221.4M433.9 221.2A86.8 86.8 0 0 1 434.6 222.7M435.9 225.2A86.8 86.8 0 0 1 436.6 226.8M437.5 229A86.8 86.8 0 0 1 438.1 230.4M438 230.3A86.8 86.8 0 0 1 438.6 231.7M439 232.9A86.8 86.8 0 0 1 439.6 234.4M439.5 234.2A86.8 86.8 0 0 1 440 235.7M439.9 235.5A86.8 86.8 0 0 1 440.4 237M440.7 238.2A86.8 86.8 0 0 1 441.2 239.7M441.7 242A86.8 86.8 0 0 1 442.1 243.5M442.4 244.8A86.8 86.8 0 0 1 442.7 246.4M442.9 247.6A86.8 86.8 0 0 1 443.1 249.2M443.3 250.4A86.8 86.8 0 0 1 443.5 252M443.5 251.8A86.8 86.8 0 0 1 443.7 253.4"/>
<path stroke="#fcf6f5" d="M443.2 274.5A86.8 86.8 0 0 1 443 276.1M439.3 290.6A86.8 86.8 0 0 1 438.7 292.2M434.2 302.3A86.8 86.8 0 0 1 433.5 303.7M433.6 303.6A86.8 86.8 0 0 1 432.7 305M432.1 306.1A86.8 86.8 0 0 1 431.2 307.6M424.9 316.6A86.8 86.8 0 0 1 423.9 317.8M421.2 320.9A86.8 86.8 0 0 1 420.1 322M420.2 321.9A86.8 86.8 0 0 1 419.1 323M419.2 322.9A86.8 86.8 0 0 1 418.1 324M409.9 331.1A86.8 86.8 0 0 1 408.6 332.1M408.8 332A86.8 86.8 0 0 1 407.5 332.9M407.6 332.8A86.8 86.8 0 0 1 406.3 333.8M406.4 333.7A86.8 86.8 0 0 1 405.1 334.6M404 335.2A86.8 86.8 0 0 1 402.7 336.1M400.4 337.5A86.8 86.8 0 0 1 398.9 338.3M391.7 341.8A86.8 86.8 0 0 1 390.2 342.4M390.4 342.3A86.8 86.8 0 0 1 388.9 342.9M389.1 342.9A86.8 86.8 0 0 1 387.6 343.5M387.7 343.4A86.8 86.8 0 0 1 386.2 343.9M386.4 343.9A86.8 86.8 0 0 1 384.9 344.4M385 344.4A86.8 86.8 0 0 1 383.5 344.9M382.3 345.2A86.8 86.8 0 0 1 380.7 345.7M365.6 348.5A86.8 86.8 0 0 1 364 348.6M364.2 348.6A86.8 86.8 0 0 1 362.5 348.7M355.9 348.9A86.8 86.8 0 0 1 354.3 348.8M354.4 348.9A86.8 86.8 0 0 1 352.8 348.8M330.7 344.7A86.8 86.8 0 0 1 329.1 344.2M329.3 344.2A86.8 86.8 0 0 1 327.7 343.7M327.9 343.8A86.8 86.8 0 0 1 326.3 343.2M325.1 342.7A86.8 86.8 0 0 1 323.6 342.1M311 335.5A86.8 86.8 0 0 1 309.6 334.6M309.8 334.7A86.8 86.8 0 0 1 308.4 333.8M298.5 325.9A86.8 86.8 0 0 1 297.3 324.8M296.3 323.9A86.8 86.8 0 0 1 295.2 322.7M295.3 322.8A86.8 86.8 0 0 1 294.1 321.6M293.3 320.7A86.8 86.8 0 0 1 292.1 319.5M290.3 317.3A86.8 86.8 0 0 1 289.3 316.1M281.4 304.2A86.8 86.8 0 0 1 280.6 302.7M280.7 302.9A86.8 86.8 0 0 1 279.9 301.4M279.3 300.3A86.8 86.8 0 0 1 278.6 298.7M278.1 297.5A86.8 86.8 0 0 1 277.4 296M273.1 283.1A86.8 86.8 0 0 1 272.7 281.6M272.8 281.7A86.8 86.8 0 0 1 272.4 280.2M272.4 280.4A86.8 86.8 0 0 1 272.1 278.8M271.9 277.6A86.8 86.8 0 0 1 271.6 276.1M270.6 266.9A86.8 86.8 0 0 1 270.6 265.4M270.6 265.5A86.8 86.8 0 0 1 270.5 264M270.5 264.1A86.8 86.8 0 0 1 270.5 262.6M272 246.1A86.8 86.8 0 0 1 272.3 244.5M272.9 241.9A86.8 86.8 0 0 1 273.3 240.3M273.2 240.4A86.8 86.8 0 0 1 273.7 238.9M285.8 212.9A86.8 86.8 0 0 1 286.8 211.5M286.7 211.7A86.8 86.8 0 0 1 287.6 210.4M302.1 195.1A86.8 86.8 0 0 1 303.3 194.1M317.2 185.1A86.8 86.8 0 0 1 318.7 184.4M318.5 184.5A86.8 86.8 0 0 1 319.9 183.8M319.8 183.8A86.8 86.8 0 0 1 321.2 183.1M329.9 179.7A86.8 86.8 0 0 1 331.5 179.2M331.3 179.3A86.8 86.8 0 0 1 332.8 178.8M334 178.5A86.8 86.8 0 0 1 335.5 178.1M335.3 178.1A86.8 86.8 0 0 1 336.9 177.7M343.2 176.4A86.8 86.8 0 0 1 344.8 176.2M344.6 176.2A86.8 86.8 0 0 1 346.2 176M347.4 175.9A86.8 86.8 0 0 1 349 175.7M348.8 175.7A86.8 86.8 0 0 1 350.4 175.6M350.2 175.6A86.8 86.8 0 0 1 351.8 175.5M353 175.4A86.8 86.8 0 0 1 354.6 175.3M361.1 175.4A86.8 86.8 0 0 1 362.7 175.5M369.6 176.2A86.8 86.8 0 0 1 371.2 176.4M384.6 179.7A86.8 86.8 0 0 1 386.1 180.2M386 180.2A86.8 86.8 0 0 1 387.5 180.7M387.3 180.6A86.8 86.8 0 0 1 388.8 181.2M390 181.7A86.8 86.8 0 0 1 391.4 182.3M393.9 183.4A86.8 86.8 0 0 1 395.3 184.1M413 195.5A86.8 86.8 0 0 1 414.2 196.6M414.1 196.5A86.8 86.8 0 0 1 415.3 197.5M426 209A86.8 86.8 0 0 1 427 210.4M426.9 210.2A86.8 86.8 0 0 1 427.9 211.6M432.4 218.6A86.8 86.8 0 0 1 433.2 220.1M434.6 222.6A86.8 86.8 0 0 1 435.3 224.1M435.2 223.9A86.8 86.8 0 0 1 436 225.4M438.5 231.6A86.8 86.8 0 0 1 439.1 233M442.1 243.4A86.8 86.8 0 0 1 442.4 244.9M442.6 246.2A86.8 86.8 0 0 1 442.9 247.8M443.1 249A86.8 86.8 0 0 1 443.3 250.6"/>
<path stroke="#f4dfdc" d="M438.3 293.3A86.8 86.8 0 0 1 437.7 294.9M437.2 296A86.8 86.8 0 0 1 436.6 297.5M428.9 311.1A86.8 86.8 0 0 1 428 312.5M415.1 326.8A86.8 86.8 0 0 1 413.9 327.9M412.2 329.4A86.8 86.8 0 0 1 410.9 330.4M401.6 336.7A86.8 86.8 0 0 1 400.2 337.6M348.7 348.5A86.8 86.8 0 0 1 347.1 348.3M321.1 341A86.8 86.8 0 0 1 319.6 340.3M317.5 339.2A86.8 86.8 0 0 1 316 338.4M316.1 338.5A86.8 86.8 0 0 1 314.7 337.7M301.8 328.8A86.8 86.8 0 0 1 300.5 327.8M286.7 312.7A86.8 86.8 0 0 1 285.8 311.3M276.9 294.8A86.8 86.8 0 0 1 276.3 293.2M271 271.1A86.8 86.8 0 0 1 270.8 269.5M270.6 258.6A86.8 86.8 0 0 1 270.6 257M276.2 231.2A86.8 86.8 0 0 1 276.8 229.7M280.2 222.3A86.8 86.8 0 0 1 280.9 220.9M291.1 206A86.8 86.8 0 0 1 292.2 204.7M294.7 202A86.8 86.8 0 0 1 295.8 200.8M306.6 191.6A86.8 86.8 0 0 1 307.9 190.7M309.8 189.4A86.8 86.8 0 0 1 311.2 188.6M311 188.7A86.8 86.8 0 0 1 312.4 187.8M323.7 182.1A86.8 86.8 0 0 1 325.2 181.5M326 181.1A86.8 86.8 0 0 1 327.5 180.6M371.1 176.4A86.8 86.8 0 0 1 372.7 176.7M376.7 177.5A86.8 86.8 0 0 1 378.3 177.9M399 186A86.8 86.8 0 0 1 400.4 186.7M400.2 186.6A86.8 86.8 0 0 1 401.6 187.5M408.4 191.9A86.8 86.8 0 0 1 409.7 192.9M418.4 200.4A86.8 86.8 0 0 1 419.5 201.6M422.1 204.4A86.8 86.8 0 0 1 423.3 205.7"/>
<path stroke="#f2d9d6" d="M413.3 328.4A86.8 86.8 0 0 1 412 329.5M358.7 348.9A86.8 86.8 0 0 1 357.1 348.9M314.8 337.8A86.8 86.8 0 0 1 313.4 337M270.6 257.2A86.8 86.8 0 0 1 270.7 255.6M281.5 219.8A86.8 86.8 0 0 1 282.3 218.5M282.7 217.7A86.8 86.8 0 0 1 283.5 216.3M293 203.8A86.8 86.8 0 0 1 294.1 202.6M312.2 187.9A86.8 86.8 0 0 1 313.6 187.1M401.4 187.4A86.8 86.8 0 0 1 402.8 188.2M406 190.2A86.8 86.8 0 0 1 407.3 191.2M407.2 191.1A86.8 86.8 0 0 1 408.5 192"/>
<path stroke="#eececa" d="M350.1 348.6A86.8 86.8 0 0 1 348.5 348.5"/>
<path stroke="#f0d4d0" d="M275.7 232.5A86.8 86.8 0 0 1 276.3 231M292 204.9A86.8 86.8 0 0 1 293.1 203.7M402.7 188.1A86.8 86.8 0 0 1 404 189M404.8 189.4A86.8 86.8 0 0 1 406.1 190.3M419.4 201.5A86.8 86.8 0 0 1 420.5 202.6M421.1 203.3A86.8 86.8 0 0 1 422.3 204.5"/>
</g>
<g fill="none" stroke-width="3">
<path stroke="#d8eef2" d="M440 263.2A82.7 82.7 0 0 1 440 264.7M439.5 271.2A82.7 82.7 0 0 1 439.3 272.7M439.3 272.6A82.7 82.7 0 0 1 439.1 274.1M437.6 281.8A82.7 82.7 0 0 1 437.2 283.3M423.4 311.9A82.7 82.7 0 0 1 422.4 313.1M421.7 314A82.7 82.7 0 0 1 420.7 315.2M420.8 315A82.7 82.7 0 0 1 419.9 316.2M417.3 319.1A82.7 82.7 0 0 1 416.2 320.2M416.3 320A82.7 82.7 0 0 1 415.2 321.1M395.9 335.2A82.7 82.7 0 0 1 394.6 335.9M382.4 340.9A82.7 82.7 0 0 1 380.9 341.3M381.1 341.3A82.7 82.7 0 0 1 379.6 341.7M377.2 342.4A82.7 82.7 0 0 1 375.7 342.7M369.4 343.9A82.7 82.7 0 0 1 367.8 344.1M366.6 344.3A82.7 82.7 0 0 1 365.1 344.4M330.6 340.4A82.7 82.7 0 0 1 329.1 339.8M313.2 332.1A82.7 82.7 0 0 1 311.9 331.2M312 331.3A82.7 82.7 0 0 1 310.7 330.4M309.7 329.7A82.7 82.7 0 0 1 308.4 328.8M301.2 322.9A82.7 82.7 0 0 1 300.1 321.8M298.2 320A82.7 82.7 0 0 1 297.1 318.8M296.3 317.9A82.7 82.7 0 0 1 295.2 316.7M286.4 304.7A82.7 82.7 0 0 1 285.6 303.3M285.7 303.5A82.7 82.7 0 0 1 284.9 302.1M282.4 297.2A82.7 82.7 0 0 1 281.7 295.7M281.8 295.9A82.7 82.7 0 0 1 281.2 294.4M279.4 289.7A82.7 82.7 0 0 1 278.9 288.3M278.5 287.2A82.7 82.7 0 0 1 278.1 285.8M276.5 279.5A82.7 82.7 0 0 1 276.2 278M275 270.6A82.7 82.7 0 0 1 274.9 269.2M274.9 269.3A82.7 82.7 0 0 1 274.8 267.8M274.7 265.4A82.7 82.7 0 0 1 274.6 263.9M274.6 264A82.7 82.7 0 0 1 274.6 262.6M274.6 262.7A82.7 82.7 0 0 1 274.6 261.2M276 246.9A82.7 82.7 0 0 1 276.3 245.3M277.2 241.5A82.7 82.7 0 0 1 277.6 240M277.6 240.1A82.7 82.7 0 0 1 278 238.6M289.2 215.2A82.7 82.7 0 0 1 290.1 213.9M290.8 212.9A82.7 82.7 0 0 1 291.7 211.7M306.8 196.6A82.7 82.7 0 0 1 308 195.7M313.2 192.1A82.7 82.7 0 0 1 314.5 191.3M316.7 190A82.7 82.7 0 0 1 318.1 189.3M324 186.4A82.7 82.7 0 0 1 325.4 185.8M325.3 185.9A82.7 82.7 0 0 1 326.7 185.3M328.7 184.5A82.7 82.7 0 0 1 330.1 184M336.4 182.1A82.7 82.7 0 0 1 337.8 181.7M347.9 179.9A82.7 82.7 0 0 1 349.4 179.8M355.9 179.4A82.7 82.7 0 0 1 357.4 179.4M357.2 179.4A82.7 82.7 0 0 1 358.7 179.4M359.5 179.4A82.7 82.7 0 0 1 361.1 179.5M411.4 199.6A82.7 82.7 0 0 1 412.6 200.6M414.5 202.4A82.7 82.7 0 0 1 415.6 203.5M415.5 203.3A82.7 82.7 0 0 1 416.6 204.5M422.7 211.5A82.7 82.7 0 0 1 423.7 212.8M428.1 219.4A82.7 82.7 0 0 1 429 220.8M430.3 223.2A82.7 82.7 0 0 1 431 224.6M432.2 227A82.7 82.7 0 0 1 432.8 228.4M434.7 233A82.7 82.7 0 0 1 435.2 234.4M436.4 238.1A82.7 82.7 0 0 1 436.9 239.5"/>
<path stroke="#e0f1f4" d="M440 264.5A82.7 82.7 0 0 1 439.9 266M439.9 265.9A82.7 82.7 0 0 1 439.8 267.4M439.2 273.9A82.7 82.7 0 0 1 438.9 275.4M438.5 277.9A82.7 82.7 0 0 1 438.2 279.4M429.3 302.8A82.7 82.7 0 0 1 428.5 304.2M427.8 305.3A82.7 82.7 0 0 1 427 306.6M426.3 307.6A82.7 82.7 0 0 1 425.5 308.9M422.5 312.9A82.7 82.7 0 0 1 421.6 314.1M420 316.1A82.7 82.7 0 0 1 419 317.2M419.1 317.1A82.7 82.7 0 0 1 418.1 318.2M415.4 321A82.7 82.7 0 0 1 414.3 322.1M414.4 321.9A82.7 82.7 0 0 1 413.3 323M410.6 325.3A82.7 82.7 0 0 1 409.4 326.3M404.1 330.3A82.7 82.7 0 0 1 402.8 331.1M401.8 331.8A82.7 82.7 0 0 1 400.5 332.6M386.3 339.6A82.7 82.7 0 0 1 384.8 340.1M373.5 343.2A82.7 82.7 0 0 1 371.9 343.5M354.6 344.8A82.7 82.7 0 0 1 353 344.7M351.8 344.6A82.7 82.7 0 0 1 350.3 344.5M346.4 344.1A82.7 82.7 0 0 1 344.9 343.9M287.9 307.1A82.7 82.7 0 0 1 287.1 305.8M284.3 301A82.7 82.7 0 0 1 283.6 299.6M283 298.4A82.7 82.7 0 0 1 282.3 297M277.1 282.1A82.7 82.7 0 0 1 276.7 280.6M275.9 276.9A82.7 82.7 0 0 1 275.7 275.4M275.2 252.4A82.7 82.7 0 0 1 275.4 250.8M275.5 249.6A82.7 82.7 0 0 1 275.8 248.1M275.8 248.2A82.7 82.7 0 0 1 276 246.7M281 230.2A82.7 82.7 0 0 1 281.6 228.8M283.2 225.4A82.7 82.7 0 0 1 283.9 224M342.6 180.7A82.7 82.7 0 0 1 344.1 180.5M362.3 179.5A82.7 82.7 0 0 1 363.8 179.7M366.4 179.9A82.7 82.7 0 0 1 367.9 180.1M375.8 181.5A82.7 82.7 0 0 1 377.3 181.8M382 183.2A82.7 82.7 0 0 1 383.5 183.7M437.7 242.9A82.7 82.7 0 0 1 438.1 244.4M439.2 251A82.7 82.7 0 0 1 439.4 252.5"/>
<path stroke="#e8f4f6" d="M439.8 267.2A82.7 82.7 0 0 1 439.7 268.7M439.7 268.6A82.7 82.7 0 0 1 439.6 270.1M438.7 276.5A82.7 82.7 0 0 1 438.4 278M409.6 326.2A82.7 82.7 0 0 1 408.4 327.1M407.4 327.9A82.7 82.7 0 0 1 406.2 328.8M398.3 333.9A82.7 82.7 0 0 1 397 334.7M397.1 334.6A82.7 82.7 0 0 1 395.8 335.3M388.8 338.6A82.7 82.7 0 0 1 387.4 339.1M385 340A82.7 82.7 0 0 1 383.6 340.5M383.7 340.5A82.7 82.7 0 0 1 382.3 340.9M379.8 341.7A82.7 82.7 0 0 1 378.3 342.1M378.5 342A82.7 82.7 0 0 1 377 342.4M368 344.1A82.7 82.7 0 0 1 366.4 344.3M365.2 344.4A82.7 82.7 0 0 1 363.7 344.6M353.2 344.7A82.7 82.7 0 0 1 351.7 344.6M345.1 343.9A82.7 82.7 0 0 1 343.5 343.6M337.3 342.3A82.7 82.7 0 0 1 335.8 342M335.9 342A82.7 82.7 0 0 1 334.4 341.6M310.9 330.5A82.7 82.7 0 0 1 309.6 329.6M287.2 305.9A82.7 82.7 0 0 1 286.3 304.5M285 302.2A82.7 82.7 0 0 1 284.2 300.8M278.9 288.5A82.7 82.7 0 0 1 278.5 287.1M274.8 268A82.7 82.7 0 0 1 274.7 266.5M274.7 266.7A82.7 82.7 0 0 1 274.7 265.2M275.4 251A82.7 82.7 0 0 1 275.6 249.4M290 214.1A82.7 82.7 0 0 1 290.9 212.8M302.6 200.1A82.7 82.7 0 0 1 303.8 199.1M303.6 199.2A82.7 82.7 0 0 1 304.8 198.2M314.4 191.4A82.7 82.7 0 0 1 315.7 190.6M315.5 190.7A82.7 82.7 0 0 1 316.9 190M330 184A82.7 82.7 0 0 1 331.4 183.6M333.8 182.8A82.7 82.7 0 0 1 335.2 182.4M339 181.5A82.7 82.7 0 0 1 340.4 181.1M343.9 180.5A82.7 82.7 0 0 1 345.4 180.3M345.2 180.3A82.7 82.7 0 0 1 346.7 180.1M360.9 179.5A82.7 82.7 0 0 1 362.4 179.6M365 179.8A82.7 82.7 0 0 1 366.5 179.9M369.1 180.2A82.7 82.7 0 0 1 370.6 180.5M373.1 180.9A82.7 82.7 0 0 1 374.6 181.2M374.4 181.2A82.7 82.7 0 0 1 375.9 181.5M384.6 184A82.7 82.7 0 0 1 386 184.6M388.4 185.5A82.7 82.7 0 0 1 389.8 186.1M413.5 201.4A82.7 82.7 0 0 1 414.6 202.5M429.6 221.9A82.7 82.7 0 0 1 430.3 223.3M435.2 234.3A82.7 82.7 0 0 1 435.7 235.7M436 236.8A82.7 82.7 0 0 1 436.5 238.2M436.8 239.3A82.7 82.7 0 0 1 437.2 240.8M438.6 246.9A82.7 82.7 0 0 1 438.9 248.4M438.8 248.3A82.7 82.7 0 0 1 439.1 249.8"/>
<path stroke="#f0f8f9" d="M439.6 269.9A82.7 82.7 0 0 1 439.5 271.4M439 275.2A82.7 82.7 0 0 1 438.7 276.7M438.2 279.2A82.7 82.7 0 0 1 437.9 280.7M413.4 322.9A82.7 82.7 0 0 1 412.3 323.9M406.3 328.7A82.7 82.7 0 0 1 405.1 329.6M403 331A82.7 82.7 0 0 1 401.7 331.9M387.6 339.1A82.7 82.7 0 0 1 386.1 339.6M372.1 343.5A82.7 82.7 0 0 1 370.6 343.7M370.7 343.7A82.7 82.7 0 0 1 369.2 343.9M349.1 344.4A82.7 82.7 0 0 1 347.6 344.2M299.2 321A82.7 82.7 0 0 1 298.1 319.8M297.2 318.9A82.7 82.7 0 0 1 296.2 317.8M294.4 315.8A82.7 82.7 0 0 1 293.4 314.6M292.6 313.6A82.7 82.7 0 0 1 291.7 312.4M278.1 286A82.7 82.7 0 0 1 277.7 284.5M277.7 284.7A82.7 82.7 0 0 1 277.3 283.2M277.4 283.4A82.7 82.7 0 0 1 277 281.9M276.7 280.8A82.7 82.7 0 0 1 276.4 279.3M276.2 278.2A82.7 82.7 0 0 1 275.9 276.7M274.6 261.4A82.7 82.7 0 0 1 274.6 259.9M276.3 245.5A82.7 82.7 0 0 1 276.6 244M276.9 242.8A82.7 82.7 0 0 1 277.3 241.3M280.5 231.4A82.7 82.7 0 0 1 281.1 230M304.7 198.3A82.7 82.7 0 0 1 305.9 197.3M305.7 197.5A82.7 82.7 0 0 1 306.9 196.5M331.2 183.6A82.7 82.7 0 0 1 332.7 183.2M332.5 183.2A82.7 82.7 0 0 1 334 182.8M335.1 182.4A82.7 82.7 0 0 1 336.5 182M337.7 181.8A82.7 82.7 0 0 1 339.1 181.4M346.5 180.1A82.7 82.7 0 0 1 348 179.9M354.5 179.4A82.7 82.7 0 0 1 356 179.4M363.6 179.6A82.7 82.7 0 0 1 365.2 179.8M367.7 180.1A82.7 82.7 0 0 1 369.2 180.3M370.4 180.4A82.7 82.7 0 0 1 371.9 180.7M383.3 183.6A82.7 82.7 0 0 1 384.8 184.1M385.9 184.5A82.7 82.7 0 0 1 387.3 185M387.1 185A82.7 82.7 0 0 1 388.6 185.5M420.9 209.3A82.7 82.7 0 0 1 422 210.5M421.9 210.4A82.7 82.7 0 0 1 422.8 211.7M423.6 212.7A82.7 82.7 0 0 1 424.5 214M428.9 220.7A82.7 82.7 0 0 1 429.7 222.1M430.9 224.4A82.7 82.7 0 0 1 431.6 225.9M438.1 244.3A82.7 82.7 0 0 1 438.4 245.8"/>
<path stroke="#d0eaef" d="M437.9 280.5A82.7 82.7 0 0 1 437.6 282M436.3 286.7A82.7 82.7 0 0 1 435.8 288.2M435.4 289.3A82.7 82.7 0 0 1 434.9 290.8M429.9 301.6A82.7 82.7 0 0 1 429.2 303M428.6 304.1A82.7 82.7 0 0 1 427.8 305.4M427.1 306.5A82.7 82.7 0 0 1 426.2 307.8M418.2 318.1A82.7 82.7 0 0 1 417.1 319.2M408.5 327A82.7 82.7 0 0 1 407.3 328M363.8 344.5A82.7 82.7 0 0 1 362.3 344.6M355.9 344.8A82.7 82.7 0 0 1 354.4 344.7M347.8 344.2A82.7 82.7 0 0 1 346.2 344.1M333.2 341.2A82.7 82.7 0 0 1 331.7 340.8M331.9 340.8A82.7 82.7 0 0 1 330.4 340.3M329.3 339.9A82.7 82.7 0 0 1 327.8 339.4M314.4 332.8A82.7 82.7 0 0 1 313.1 332M302.3 323.8A82.7 82.7 0 0 1 301.1 322.8M288.7 308.3A82.7 82.7 0 0 1 287.8 307M275.7 275.6A82.7 82.7 0 0 1 275.5 274.1M275 253.7A82.7 82.7 0 0 1 275.2 252.2M278 238.8A82.7 82.7 0 0 1 278.4 237.3M278.4 237.5A82.7 82.7 0 0 1 278.8 236M280 232.6A82.7 82.7 0 0 1 280.6 231.2M281.5 229A82.7 82.7 0 0 1 282.1 227.6M282.1 227.8A82.7 82.7 0 0 1 282.7 226.4M282.6 226.6A82.7 82.7 0 0 1 283.3 225.2M291.6 211.8A82.7 82.7 0 0 1 292.6 210.6M293.3 209.7A82.7 82.7 0 0 1 294.3 208.5M301.6 201A82.7 82.7 0 0 1 302.7 200M309 195A82.7 82.7 0 0 1 310.2 194.1M350.5 179.7A82.7 82.7 0 0 1 352 179.6M377.1 181.8A82.7 82.7 0 0 1 378.6 182.2M420 208.2A82.7 82.7 0 0 1 421.1 209.4M424.4 213.8A82.7 82.7 0 0 1 425.4 215.1M431.6 225.7A82.7 82.7 0 0 1 432.2 227.1M433.7 230.5A82.7 82.7 0 0 1 434.3 231.9M434.2 231.8A82.7 82.7 0 0 1 434.8 233.2M437.4 241.6A82.7 82.7 0 0 1 437.8 243.1M438.3 245.6A82.7 82.7 0 0 1 438.6 247.1M439.1 249.6A82.7 82.7 0 0 1 439.3 251.1"/>
<path stroke="#c0e3ea" d="M437.3 283.1A82.7 82.7 0 0 1 436.9 284.6M435.8 288A82.7 82.7 0 0 1 435.3 289.5M405.2 329.5A82.7 82.7 0 0 1 404 330.4M394.7 335.9A82.7 82.7 0 0 1 393.3 336.5M392.6 336.9A82.7 82.7 0 0 1 391.2 337.5M343.7 343.7A82.7 82.7 0 0 1 342.2 343.4M338.7 342.7A82.7 82.7 0 0 1 337.1 342.3M300.2 321.9A82.7 82.7 0 0 1 299.1 320.8M290.1 310.3A82.7 82.7 0 0 1 289.2 309M276.6 244.2A82.7 82.7 0 0 1 276.9 242.6M284.4 223A82.7 82.7 0 0 1 285.1 221.7M288.4 216.3A82.7 82.7 0 0 1 289.3 215M292.5 210.8A82.7 82.7 0 0 1 293.4 209.5M294.2 208.6A82.7 82.7 0 0 1 295.2 207.5M299.6 202.9A82.7 82.7 0 0 1 300.7 201.8M300.6 201.9A82.7 82.7 0 0 1 301.7 200.9M307.9 195.8A82.7 82.7 0 0 1 309.1 194.9M322.8 187A82.7 82.7 0 0 1 324.2 186.3M327.5 185A82.7 82.7 0 0 1 328.9 184.4M353.2 179.5A82.7 82.7 0 0 1 354.7 179.4M371.8 180.7A82.7 82.7 0 0 1 373.3 181M378.4 182.1A82.7 82.7 0 0 1 379.9 182.6M410.3 198.7A82.7 82.7 0 0 1 411.5 199.7M418.1 206.1A82.7 82.7 0 0 1 419.2 207.3M419.1 207.1A82.7 82.7 0 0 1 420.1 208.3M426.1 216.2A82.7 82.7 0 0 1 426.9 217.5M427.4 218.2A82.7 82.7 0 0 1 428.2 219.6"/>
<path stroke="#c8e6ec" d="M436.7 285.4A82.7 82.7 0 0 1 436.2 286.9M425.6 308.8A82.7 82.7 0 0 1 424.7 310.1M412.4 323.8A82.7 82.7 0 0 1 411.3 324.8M374.8 342.9A82.7 82.7 0 0 1 373.3 343.2M362.5 344.6A82.7 82.7 0 0 1 360.9 344.7M350.5 344.5A82.7 82.7 0 0 1 349 344.4M334.6 341.6A82.7 82.7 0 0 1 333.1 341.2M326.6 338.9A82.7 82.7 0 0 1 325.2 338.3M308.6 328.9A82.7 82.7 0 0 1 307.3 328M307.4 328.1A82.7 82.7 0 0 1 306.2 327.1M291.8 312.5A82.7 82.7 0 0 1 290.8 311.3M290.9 311.4A82.7 82.7 0 0 1 290 310.1M275.2 272A82.7 82.7 0 0 1 275 270.5M274.6 260.1A82.7 82.7 0 0 1 274.7 258.6M287.7 217.5A82.7 82.7 0 0 1 288.5 216.2M340.3 181.2A82.7 82.7 0 0 1 341.8 180.9M349.2 179.8A82.7 82.7 0 0 1 350.7 179.7M351.9 179.6A82.7 82.7 0 0 1 353.4 179.5M380.7 182.8A82.7 82.7 0 0 1 382.2 183.2M389.7 186A82.7 82.7 0 0 1 391.1 186.6M409.3 197.8A82.7 82.7 0 0 1 410.5 198.8M412.5 200.5A82.7 82.7 0 0 1 413.6 201.5M416.5 204.3A82.7 82.7 0 0 1 417.6 205.5M432.8 228.3A82.7 82.7 0 0 1 433.4 229.7"/>
<path stroke="#b8e0e8" d="M434.9 290.6A82.7 82.7 0 0 1 434.4 292M424.2 310.8A82.7 82.7 0 0 1 423.3 312M358.7 344.8A82.7 82.7 0 0 1 357.1 344.8M357.3 344.8A82.7 82.7 0 0 1 355.8 344.8M340 343A82.7 82.7 0 0 1 338.5 342.6M327.9 339.4A82.7 82.7 0 0 1 326.5 338.8M315.6 333.5A82.7 82.7 0 0 1 314.3 332.7M306.3 327.2A82.7 82.7 0 0 1 305.1 326.2M303.3 324.8A82.7 82.7 0 0 1 302.2 323.7M295.3 316.9A82.7 82.7 0 0 1 294.3 315.7M283.7 299.7A82.7 82.7 0 0 1 282.9 298.3M281.2 294.6A82.7 82.7 0 0 1 280.6 293.1M280.7 293.3A82.7 82.7 0 0 1 280.1 291.8M274.7 258.8A82.7 82.7 0 0 1 274.7 257.3M274.9 255.1A82.7 82.7 0 0 1 275 253.6M279.6 233.9A82.7 82.7 0 0 1 280.1 232.5M286.9 218.6A82.7 82.7 0 0 1 287.8 217.3M310.1 194.2A82.7 82.7 0 0 1 311.4 193.3M317.9 189.4A82.7 82.7 0 0 1 319.3 188.7M390.9 186.5A82.7 82.7 0 0 1 392.3 187.2M394.6 188.3A82.7 82.7 0 0 1 396 189M408.2 196.9A82.7 82.7 0 0 1 409.4 197.9M435.6 235.5A82.7 82.7 0 0 1 436.1 236.9"/>
<path stroke="#8dc6d2" d="M434.5 291.9A82.7 82.7 0 0 1 433.9 293.3M325.3 338.4A82.7 82.7 0 0 1 323.9 337.8M316.9 334.2A82.7 82.7 0 0 1 315.5 333.4M275.5 274.3A82.7 82.7 0 0 1 275.3 272.8M398.2 190.2A82.7 82.7 0 0 1 399.5 191"/>
<path stroke="#58a5b5" d="M434 293.1A82.7 82.7 0 0 1 433.4 294.6M322.8 337.2A82.7 82.7 0 0 1 321.3 336.6M397 189.5A82.7 82.7 0 0 1 398.3 190.3M400.5 191.6A82.7 82.7 0 0 1 401.8 192.4"/>
<path stroke="#6ab0be" d="M433.4 294.4A82.7 82.7 0 0 1 432.8 295.8M431.9 297.9A82.7 82.7 0 0 1 431.2 299.3M283.8 224.2A82.7 82.7 0 0 1 284.5 222.9M285.1 221.8A82.7 82.7 0 0 1 285.8 220.5M297.7 204.8A82.7 82.7 0 0 1 298.7 203.7"/>
<path stroke="#368fa2" d="M432.5 296.6A82.7 82.7 0 0 1 431.8 298M402.5 192.9A82.7 82.7 0 0 1 403.8 193.7"/>
<path stroke="#9ed1db" d="M431.2 299.1A82.7 82.7 0 0 1 430.5 300.5M399.5 333.2A82.7 82.7 0 0 1 398.2 334M320.6 336.2A82.7 82.7 0 0 1 319.2 335.5M304.4 325.7A82.7 82.7 0 0 1 303.2 324.7M274.7 257.4A82.7 82.7 0 0 1 274.8 255.9M286.2 219.8A82.7 82.7 0 0 1 287 218.5M312.1 192.9A82.7 82.7 0 0 1 313.4 192M319.1 188.7A82.7 82.7 0 0 1 320.5 188M406 195.2A82.7 82.7 0 0 1 407.2 196.2"/>
<path stroke="#b0dce5" d="M430.6 300.4A82.7 82.7 0 0 1 429.9 301.8M391.3 337.5A82.7 82.7 0 0 1 389.9 338.1M390.1 338A82.7 82.7 0 0 1 388.7 338.6M361.1 344.7A82.7 82.7 0 0 1 359.5 344.8M342.4 343.4A82.7 82.7 0 0 1 340.9 343.1M324 337.8A82.7 82.7 0 0 1 322.6 337.2M318.1 334.9A82.7 82.7 0 0 1 316.7 334.1M293.5 314.7A82.7 82.7 0 0 1 292.5 313.5M279.8 291A82.7 82.7 0 0 1 279.3 289.6M278.8 236.1A82.7 82.7 0 0 1 279.3 234.7M295.1 207.6A82.7 82.7 0 0 1 296.1 206.4M321.5 187.5A82.7 82.7 0 0 1 322.9 186.9M393.4 187.7A82.7 82.7 0 0 1 394.7 188.4M425.3 215A82.7 82.7 0 0 1 426.2 216.3M439.4 252.3A82.7 82.7 0 0 1 439.6 253.8"/>
<path stroke="#479aab" d="M400.7 332.5A82.7 82.7 0 0 1 399.4 333.3M407.1 196.1A82.7 82.7 0 0 1 408.3 197"/>
<path stroke="#7cbbc8" d="M319.3 335.6A82.7 82.7 0 0 1 317.9 334.8M296 206.6A82.7 82.7 0 0 1 297.1 205.4M298.6 203.8A82.7 82.7 0 0 1 299.7 202.7M320.3 188.1A82.7 82.7 0 0 1 321.7 187.5M392.1 187.1A82.7 82.7 0 0 1 393.5 187.8M395.8 188.9A82.7 82.7 0 0 1 397.1 189.6M399.4 190.9A82.7 82.7 0 0 1 400.7 191.7M403.7 193.6A82.7 82.7 0 0 1 405 194.5"/>
<path stroke="#248498" d="M404.8 194.4A82.7 82.7 0 0 1 406.1 195.3"/>
</g>
<g fill="none" stroke-width="3">
<path stroke="#d0eaef" d="M436 263.1A78.7 78.7 0 0 1 436 264.6M420.9 308.4A78.7 78.7 0 0 1 420.1 309.6M388.5 334.4A78.7 78.7 0 0 1 387.2 334.9M360.9 340.7A78.7 78.7 0 0 1 359.4 340.8M358.6 340.8A78.7 78.7 0 0 1 357.1 340.8M356 340.8A78.7 78.7 0 0 1 354.5 340.8M348.2 340.3A78.7 78.7 0 0 1 346.8 340.1M334.4 337.4A78.7 78.7 0 0 1 333 336.9M304.9 320.9A78.7 78.7 0 0 1 303.8 319.8M302 318.1A78.7 78.7 0 0 1 301 317M280.1 277.4A78.7 78.7 0 0 1 279.8 276M279 270.2A78.7 78.7 0 0 1 278.9 268.8M279.1 252.8A78.7 78.7 0 0 1 279.3 251.4M282.2 238.7A78.7 78.7 0 0 1 282.6 237.2M282.6 237.4A78.7 78.7 0 0 1 283.1 236M287.4 226A78.7 78.7 0 0 1 288 224.7M296.4 212.2A78.7 78.7 0 0 1 297.4 211.1M309.2 199.8A78.7 78.7 0 0 1 310.4 198.9M341.1 185.1A78.7 78.7 0 0 1 342.5 184.8M352.1 183.6A78.7 78.7 0 0 1 353.6 183.5M379.6 186.6A78.7 78.7 0 0 1 381 187M385.7 188.7A78.7 78.7 0 0 1 387.1 189.2M386.9 189.2A78.7 78.7 0 0 1 388.3 189.7M409.8 203.5A78.7 78.7 0 0 1 410.9 204.5M410.8 204.3A78.7 78.7 0 0 1 411.8 205.4M425.4 222.7A78.7 78.7 0 0 1 426.2 224M432.2 238A78.7 78.7 0 0 1 432.6 239.4M433.5 242.6A78.7 78.7 0 0 1 433.9 244"/>
<path stroke="#e8f4f6" d="M436 264.4A78.7 78.7 0 0 1 435.9 265.9M435.8 267A78.7 78.7 0 0 1 435.7 268.4M425.1 302A78.7 78.7 0 0 1 424.3 303.3M416.9 313.4A78.7 78.7 0 0 1 416 314.5M407 323.1A78.7 78.7 0 0 1 405.9 324M387.3 334.9A78.7 78.7 0 0 1 385.9 335.4M386.1 335.3A78.7 78.7 0 0 1 384.7 335.9M384.9 335.8A78.7 78.7 0 0 1 383.5 336.3M371.4 339.5A78.7 78.7 0 0 1 369.9 339.8M367.5 340.1A78.7 78.7 0 0 1 366 340.3M363.5 340.6A78.7 78.7 0 0 1 362 340.7M338.3 338.5A78.7 78.7 0 0 1 336.8 338.1M335.7 337.8A78.7 78.7 0 0 1 334.3 337.4M300.1 316.2A78.7 78.7 0 0 1 299.1 315.1M295.8 311.1A78.7 78.7 0 0 1 294.8 310M294.9 310.1A78.7 78.7 0 0 1 294 308.9M289.2 301.5A78.7 78.7 0 0 1 288.4 300.1M287.8 299.1A78.7 78.7 0 0 1 287.1 297.8M287.2 297.9A78.7 78.7 0 0 1 286.5 296.5M286 295.5A78.7 78.7 0 0 1 285.4 294.1M285.5 294.2A78.7 78.7 0 0 1 284.9 292.8M279.9 276.2A78.7 78.7 0 0 1 279.6 274.8M278.6 262.7A78.7 78.7 0 0 1 278.6 261.3M278.6 261.4A78.7 78.7 0 0 1 278.6 260M279.3 251.5A78.7 78.7 0 0 1 279.5 250M279.5 250.2A78.7 78.7 0 0 1 279.7 248.7M281.8 239.9A78.7 78.7 0 0 1 282.2 238.5M284.7 231.7A78.7 78.7 0 0 1 285.3 230.4M292.5 217.4A78.7 78.7 0 0 1 293.3 216.2M294 215.3A78.7 78.7 0 0 1 294.9 214.1M294.8 214.3A78.7 78.7 0 0 1 295.7 213.1M347.1 184.1A78.7 78.7 0 0 1 348.5 183.9M354.7 183.4A78.7 78.7 0 0 1 356.1 183.4M360.7 183.5A78.7 78.7 0 0 1 362.2 183.6M411.7 205.3A78.7 78.7 0 0 1 412.8 206.3M417.9 211.9A78.7 78.7 0 0 1 418.8 213M419.6 214A78.7 78.7 0 0 1 420.5 215.2M424.7 221.5A78.7 78.7 0 0 1 425.5 222.8M426.1 223.8A78.7 78.7 0 0 1 426.8 225.2M431 234.4A78.7 78.7 0 0 1 431.5 235.8"/>
<path stroke="#d8eef2" d="M435.9 265.7A78.7 78.7 0 0 1 435.8 267.1M435.8 268.2A78.7 78.7 0 0 1 435.6 269.7M432 286.7A78.7 78.7 0 0 1 431.6 288.1M425.8 300.9A78.7 78.7 0 0 1 425 302.2M420.2 309.4A78.7 78.7 0 0 1 419.3 310.6M419.4 310.5A78.7 78.7 0 0 1 418.5 311.6M418.6 311.5A78.7 78.7 0 0 1 417.7 312.6M412.6 318.1A78.7 78.7 0 0 1 411.5 319.2M411.6 319A78.7 78.7 0 0 1 410.6 320M410.7 319.9A78.7 78.7 0 0 1 409.6 320.9M399.7 328.4A78.7 78.7 0 0 1 398.4 329.2M396.3 330.4A78.7 78.7 0 0 1 395.1 331.2M374 339A78.7 78.7 0 0 1 372.5 339.3M370.1 339.8A78.7 78.7 0 0 1 368.6 340M366.2 340.3A78.7 78.7 0 0 1 364.7 340.5M364.8 340.4A78.7 78.7 0 0 1 363.4 340.6M362.2 340.6A78.7 78.7 0 0 1 360.7 340.7M357.3 340.8A78.7 78.7 0 0 1 355.8 340.8M353.4 340.7A78.7 78.7 0 0 1 351.9 340.6M350.8 340.5A78.7 78.7 0 0 1 349.4 340.4M346.9 340.1A78.7 78.7 0 0 1 345.5 339.9M331.9 336.6A78.7 78.7 0 0 1 330.5 336.1M315.3 328.7A78.7 78.7 0 0 1 314.1 327.9M313.1 327.2A78.7 78.7 0 0 1 311.9 326.4M303 319A78.7 78.7 0 0 1 301.9 318M301.1 317.2A78.7 78.7 0 0 1 300 316.1M290.5 303.8A78.7 78.7 0 0 1 289.8 302.5M288.5 300.3A78.7 78.7 0 0 1 287.8 299M281.3 282.4A78.7 78.7 0 0 1 280.9 281M280.4 278.7A78.7 78.7 0 0 1 280.1 277.3M278.6 260.2A78.7 78.7 0 0 1 278.7 258.8M279 254.1A78.7 78.7 0 0 1 279.2 252.7M281.1 242.5A78.7 78.7 0 0 1 281.5 241M283.8 234.1A78.7 78.7 0 0 1 284.3 232.7M285.7 229.4A78.7 78.7 0 0 1 286.3 228.1M286.8 227.1A78.7 78.7 0 0 1 287.4 225.9M306.2 202.2A78.7 78.7 0 0 1 307.3 201.3M310.3 199A78.7 78.7 0 0 1 311.5 198.1M311.3 198.2A78.7 78.7 0 0 1 312.5 197.4M315.4 195.5A78.7 78.7 0 0 1 316.6 194.7M331.3 187.8A78.7 78.7 0 0 1 332.7 187.4M332.5 187.4A78.7 78.7 0 0 1 333.9 187M343.3 184.7A78.7 78.7 0 0 1 344.7 184.4M353.4 183.5A78.7 78.7 0 0 1 354.8 183.4M355.9 183.4A78.7 78.7 0 0 1 357.4 183.4M364.6 183.7A78.7 78.7 0 0 1 366.1 183.9M428 227.5A78.7 78.7 0 0 1 428.6 228.8M434.1 245.1A78.7 78.7 0 0 1 434.4 246.5M434.9 248.9A78.7 78.7 0 0 1 435.1 250.4M435.4 252.8A78.7 78.7 0 0 1 435.6 254.2"/>
<path stroke="#f0f8f9" d="M435.6 269.5A78.7 78.7 0 0 1 435.5 271M435 274.6A78.7 78.7 0 0 1 434.8 276M434.8 275.9A78.7 78.7 0 0 1 434.5 277.3M434.3 278.4A78.7 78.7 0 0 1 434 279.8M417.8 312.5A78.7 78.7 0 0 1 416.8 313.6M415.2 315.4A78.7 78.7 0 0 1 414.2 316.4M413.5 317.2A78.7 78.7 0 0 1 412.4 318.3M405 324.7A78.7 78.7 0 0 1 403.8 325.6M402.9 326.2A78.7 78.7 0 0 1 401.7 327.1M401.8 327A78.7 78.7 0 0 1 400.6 327.8M400.8 327.7A78.7 78.7 0 0 1 399.5 328.5M395.2 331.1A78.7 78.7 0 0 1 393.9 331.8M382.4 336.7A78.7 78.7 0 0 1 381 337.1M381.2 337.1A78.7 78.7 0 0 1 379.8 337.5M380 337.5A78.7 78.7 0 0 1 378.6 337.9M378.7 337.8A78.7 78.7 0 0 1 377.3 338.2M368.8 340A78.7 78.7 0 0 1 367.3 340.2M354.7 340.8A78.7 78.7 0 0 1 353.2 340.7M298.3 314.2A78.7 78.7 0 0 1 297.3 313.1M297.5 313.2A78.7 78.7 0 0 1 296.5 312.1M296.6 312.2A78.7 78.7 0 0 1 295.6 311M281.6 283.6A78.7 78.7 0 0 1 281.2 282.2M280.6 279.9A78.7 78.7 0 0 1 280.3 278.5M278.8 267.7A78.7 78.7 0 0 1 278.7 266.3M278.7 265.2A78.7 78.7 0 0 1 278.6 263.8M278.6 264A78.7 78.7 0 0 1 278.6 262.5M279.9 247.6A78.7 78.7 0 0 1 280.2 246.2M280.8 243.7A78.7 78.7 0 0 1 281.1 242.3M281.4 241.2A78.7 78.7 0 0 1 281.8 239.8M284.2 232.9A78.7 78.7 0 0 1 284.8 231.6M285.2 230.6A78.7 78.7 0 0 1 285.8 229.3M286.2 228.3A78.7 78.7 0 0 1 286.9 227M308.2 200.6A78.7 78.7 0 0 1 309.4 199.7M317.6 194.2A78.7 78.7 0 0 1 318.8 193.4M333.7 187A78.7 78.7 0 0 1 335.1 186.6M334.9 186.6A78.7 78.7 0 0 1 336.3 186.2M336.2 186.3A78.7 78.7 0 0 1 337.5 185.9M338.6 185.6A78.7 78.7 0 0 1 340 185.3M367.2 184A78.7 78.7 0 0 1 368.7 184.2M372.3 184.9A78.7 78.7 0 0 1 373.8 185.1M417 210.8A78.7 78.7 0 0 1 418 212M418.7 212.9A78.7 78.7 0 0 1 419.7 214.1M426.7 225A78.7 78.7 0 0 1 427.4 226.4M427.4 226.2A78.7 78.7 0 0 1 428 227.6M431.4 235.6A78.7 78.7 0 0 1 431.9 237M431.8 236.8A78.7 78.7 0 0 1 432.3 238.2M434.7 247.7A78.7 78.7 0 0 1 434.9 249.1"/>
<path stroke="#e0f1f4" d="M435.5 270.8A78.7 78.7 0 0 1 435.3 272.2M435.4 272.1A78.7 78.7 0 0 1 435.2 273.5M435.2 273.3A78.7 78.7 0 0 1 435 274.8M434.6 277.1A78.7 78.7 0 0 1 434.3 278.5M434 279.6A78.7 78.7 0 0 1 433.7 281M433.7 280.9A78.7 78.7 0 0 1 433.4 282.3M432.4 285.5A78.7 78.7 0 0 1 432 286.9M431.6 288A78.7 78.7 0 0 1 431.1 289.4M423.7 304.3A78.7 78.7 0 0 1 422.9 305.6M416.1 314.4A78.7 78.7 0 0 1 415.1 315.5M414.4 316.3A78.7 78.7 0 0 1 413.3 317.4M406 323.9A78.7 78.7 0 0 1 404.9 324.8M404 325.5A78.7 78.7 0 0 1 402.8 326.3M394.1 331.7A78.7 78.7 0 0 1 392.8 332.4M392.9 332.3A78.7 78.7 0 0 1 391.6 332.9M389.7 333.8A78.7 78.7 0 0 1 388.4 334.4M383.7 336.3A78.7 78.7 0 0 1 382.3 336.7M372.7 339.3A78.7 78.7 0 0 1 371.2 339.6M352.1 340.6A78.7 78.7 0 0 1 350.7 340.5M349.5 340.4A78.7 78.7 0 0 1 348.1 340.3M337 338.1A78.7 78.7 0 0 1 335.5 337.7M333.1 337A78.7 78.7 0 0 1 331.7 336.5M314.2 328A78.7 78.7 0 0 1 313 327.1M312 326.5A78.7 78.7 0 0 1 310.8 325.6M299.2 315.2A78.7 78.7 0 0 1 298.2 314.1M286.6 296.7A78.7 78.7 0 0 1 286 295.3M282.7 287.2A78.7 78.7 0 0 1 282.3 285.9M282.3 286A78.7 78.7 0 0 1 281.9 284.6M281.9 284.8A78.7 78.7 0 0 1 281.5 283.4M280.9 281.1A78.7 78.7 0 0 1 280.6 279.7M278.9 269A78.7 78.7 0 0 1 278.8 267.6M278.7 266.5A78.7 78.7 0 0 1 278.7 265M279.7 248.9A78.7 78.7 0 0 1 280 247.4M280.5 245A78.7 78.7 0 0 1 280.8 243.6M291.8 218.5A78.7 78.7 0 0 1 292.6 217.3M293.2 216.4A78.7 78.7 0 0 1 294.1 215.2M295.6 213.2A78.7 78.7 0 0 1 296.5 212.1M305.2 203.1A78.7 78.7 0 0 1 306.3 202.1M307.2 201.4A78.7 78.7 0 0 1 308.4 200.5M316.5 194.8A78.7 78.7 0 0 1 317.7 194.1M325.6 190.1A78.7 78.7 0 0 1 327 189.5M330.1 188.3A78.7 78.7 0 0 1 331.5 187.8M337.4 186A78.7 78.7 0 0 1 338.8 185.6M339.9 185.4A78.7 78.7 0 0 1 341.3 185.1M345.8 184.2A78.7 78.7 0 0 1 347.2 184M362 183.5A78.7 78.7 0 0 1 363.5 183.6M363.3 183.6A78.7 78.7 0 0 1 364.8 183.8M365.9 183.9A78.7 78.7 0 0 1 367.4 184M368.5 184.2A78.7 78.7 0 0 1 369.9 184.4M369.8 184.4A78.7 78.7 0 0 1 371.2 184.6M371.1 184.6A78.7 78.7 0 0 1 372.5 184.9M373.6 185.1A78.7 78.7 0 0 1 375 185.4M374.9 185.4A78.7 78.7 0 0 1 376.3 185.7M376.1 185.7A78.7 78.7 0 0 1 377.6 186.1M382.1 187.4A78.7 78.7 0 0 1 383.4 187.9M383.3 187.8A78.7 78.7 0 0 1 384.6 188.3M384.5 188.2A78.7 78.7 0 0 1 385.9 188.8M420.4 215.1A78.7 78.7 0 0 1 421.3 216.3M432.6 239.2A78.7 78.7 0 0 1 433 240.6M433 240.4A78.7 78.7 0 0 1 433.3 241.8M433.9 243.9A78.7 78.7 0 0 1 434.2 245.3M435.3 251.5A78.7 78.7 0 0 1 435.5 253"/>
<path stroke="#b0dce5" d="M433.4 282.1A78.7 78.7 0 0 1 433 283.5M427.1 298.5A78.7 78.7 0 0 1 426.4 299.8M409.7 320.8A78.7 78.7 0 0 1 408.7 321.7M329.4 335.7A78.7 78.7 0 0 1 328 335.1M292 306.1A78.7 78.7 0 0 1 291.2 304.8M279.2 271.5A78.7 78.7 0 0 1 279 270.1M322.1 191.7A78.7 78.7 0 0 1 323.4 191.1M350.9 183.7A78.7 78.7 0 0 1 352.3 183.6M405.7 200.1A78.7 78.7 0 0 1 406.9 201M406.8 200.9A78.7 78.7 0 0 1 407.9 201.8M413.6 207.1A78.7 78.7 0 0 1 414.6 208.2M422.7 218.4A78.7 78.7 0 0 1 423.6 219.7"/>
<path stroke="#b8e0e8" d="M432.8 284.3A78.7 78.7 0 0 1 432.4 285.7M344.4 339.7A78.7 78.7 0 0 1 342.9 339.5M318.8 330.7A78.7 78.7 0 0 1 317.5 330M308.8 324.1A78.7 78.7 0 0 1 307.6 323.1M294.1 309A78.7 78.7 0 0 1 293.2 307.8M293.3 307.9A78.7 78.7 0 0 1 292.5 306.7M283.1 288.4A78.7 78.7 0 0 1 282.7 287.1M279.7 274.9A78.7 78.7 0 0 1 279.4 273.5M278.7 257.7A78.7 78.7 0 0 1 278.8 256.2M278.9 255.4A78.7 78.7 0 0 1 279 254M283.3 235.2A78.7 78.7 0 0 1 283.8 233.9M298.1 210.2A78.7 78.7 0 0 1 299.1 209.1M312.4 197.5A78.7 78.7 0 0 1 313.6 196.6M377.4 186A78.7 78.7 0 0 1 378.8 186.4M388.1 189.7A78.7 78.7 0 0 1 389.4 190.3M393.9 192.4A78.7 78.7 0 0 1 395.2 193.1M422 217.3A78.7 78.7 0 0 1 422.8 218.5M424 220.3A78.7 78.7 0 0 1 424.8 221.6M428.6 228.7A78.7 78.7 0 0 1 429.2 230.1M435.1 250.2A78.7 78.7 0 0 1 435.3 251.7"/>
<path stroke="#c8e6ec" d="M431.2 289.2A78.7 78.7 0 0 1 430.7 290.6M424.4 303.2A78.7 78.7 0 0 1 423.6 304.4M398.6 329.1A78.7 78.7 0 0 1 397.3 329.9M397.5 329.8A78.7 78.7 0 0 1 396.2 330.5M377.5 338.2A78.7 78.7 0 0 1 376 338.5M345.7 339.9A78.7 78.7 0 0 1 344.2 339.7M316.5 329.4A78.7 78.7 0 0 1 315.2 328.6M309.8 324.9A78.7 78.7 0 0 1 308.6 324M304 320A78.7 78.7 0 0 1 302.9 318.9M291.3 304.9A78.7 78.7 0 0 1 290.5 303.6M284.9 293A78.7 78.7 0 0 1 284.3 291.6M278.7 258.9A78.7 78.7 0 0 1 278.7 257.5M291 219.6A78.7 78.7 0 0 1 291.8 218.4M302.4 205.7A78.7 78.7 0 0 1 303.4 204.7M303.3 204.8A78.7 78.7 0 0 1 304.4 203.8M304.3 204A78.7 78.7 0 0 1 305.4 203M318.7 193.5A78.7 78.7 0 0 1 320 192.8M319.8 192.9A78.7 78.7 0 0 1 321.1 192.2M323.3 191.1A78.7 78.7 0 0 1 324.6 190.5M326.8 189.5A78.7 78.7 0 0 1 328.2 189M344.5 184.4A78.7 78.7 0 0 1 346 184.2M348.3 183.9A78.7 78.7 0 0 1 349.8 183.8M380.8 187A78.7 78.7 0 0 1 382.2 187.4M391.6 191.3A78.7 78.7 0 0 1 392.9 191.9M392.8 191.9A78.7 78.7 0 0 1 394.1 192.5M421.2 216.2A78.7 78.7 0 0 1 422.1 217.4M429.1 229.9A78.7 78.7 0 0 1 429.7 231.3M430 232A78.7 78.7 0 0 1 430.6 233.4M430.5 233.2A78.7 78.7 0 0 1 431 234.6"/>
<path stroke="#8dc6d2" d="M430.7 290.4A78.7 78.7 0 0 1 430.2 291.8M427.7 297.3A78.7 78.7 0 0 1 427 298.7M400.3 196.2A78.7 78.7 0 0 1 401.6 197M404.7 199.3A78.7 78.7 0 0 1 405.9 200.2"/>
<path stroke="#7cbbc8" d="M430.2 291.6A78.7 78.7 0 0 1 429.7 293M429.7 292.9A78.7 78.7 0 0 1 429.2 294.2M326.9 334.7A78.7 78.7 0 0 1 325.5 334.1M325.7 334.2A78.7 78.7 0 0 1 324.3 333.5M322.4 332.6A78.7 78.7 0 0 1 321 331.9M320 331.4A78.7 78.7 0 0 1 318.7 330.7M288.6 223.8A78.7 78.7 0 0 1 289.3 222.5M299 209.2A78.7 78.7 0 0 1 300 208.2M396.2 193.7A78.7 78.7 0 0 1 397.5 194.4M398.4 195A78.7 78.7 0 0 1 399.7 195.8"/>
<path stroke="#58a5b5" d="M428.8 294.9A78.7 78.7 0 0 1 428.2 296.3M324.4 333.6A78.7 78.7 0 0 1 323.1 333M321.2 332A78.7 78.7 0 0 1 319.8 331.3M397.3 194.3A78.7 78.7 0 0 1 398.6 195.1M401.4 196.9A78.7 78.7 0 0 1 402.7 197.8"/>
<path stroke="#9ed1db" d="M428.3 296.1A78.7 78.7 0 0 1 427.6 297.5M343.1 339.5A78.7 78.7 0 0 1 341.7 339.2M340.9 339.1A78.7 78.7 0 0 1 339.4 338.7M330.6 336.1A78.7 78.7 0 0 1 329.2 335.6M307 322.6A78.7 78.7 0 0 1 305.8 321.6M284.4 291.8A78.7 78.7 0 0 1 283.8 290.3M289.7 221.9A78.7 78.7 0 0 1 290.4 220.6M301.5 206.6A78.7 78.7 0 0 1 302.5 205.6M314.3 196.2A78.7 78.7 0 0 1 315.5 195.4M324.4 190.6A78.7 78.7 0 0 1 325.8 190M402.5 197.7A78.7 78.7 0 0 1 403.7 198.6M403.6 198.5A78.7 78.7 0 0 1 404.8 199.4"/>
<path stroke="#c0e3ea" d="M426.4 299.7A78.7 78.7 0 0 1 425.7 301M423 305.4A78.7 78.7 0 0 1 422.2 306.7M422.3 306.5A78.7 78.7 0 0 1 421.4 307.8M408 322.3A78.7 78.7 0 0 1 406.9 323.2M390.9 333.3A78.7 78.7 0 0 1 389.5 333.9M376.2 338.5A78.7 78.7 0 0 1 374.8 338.8M339.6 338.8A78.7 78.7 0 0 1 338.1 338.4M328.1 335.2A78.7 78.7 0 0 1 326.7 334.6M317.6 330.1A78.7 78.7 0 0 1 316.3 329.3M310.9 325.7A78.7 78.7 0 0 1 309.7 324.8M306 321.7A78.7 78.7 0 0 1 304.8 320.8M289.8 302.6A78.7 78.7 0 0 1 289.1 301.3M283.6 289.6A78.7 78.7 0 0 1 283.1 288.3M279.5 273.7A78.7 78.7 0 0 1 279.3 272.3M280.2 246.3A78.7 78.7 0 0 1 280.5 244.9M288 224.9A78.7 78.7 0 0 1 288.6 223.6M290.3 220.7A78.7 78.7 0 0 1 291.1 219.5M297.3 211.2A78.7 78.7 0 0 1 298.2 210.1M321 192.3A78.7 78.7 0 0 1 322.3 191.6M328.9 188.7A78.7 78.7 0 0 1 330.3 188.2M349.6 183.8A78.7 78.7 0 0 1 351 183.7M357.2 183.4A78.7 78.7 0 0 1 358.6 183.4M359.4 183.4A78.7 78.7 0 0 1 360.9 183.5M389.3 190.2A78.7 78.7 0 0 1 390.6 190.8M390.5 190.7A78.7 78.7 0 0 1 391.8 191.4M407.8 201.7A78.7 78.7 0 0 1 408.9 202.7M408.8 202.6A78.7 78.7 0 0 1 409.9 203.6M412.7 206.2A78.7 78.7 0 0 1 413.7 207.2M415.2 208.8A78.7 78.7 0 0 1 416.2 209.9M416.1 209.8A78.7 78.7 0 0 1 417.1 210.9M434.4 246.4A78.7 78.7 0 0 1 434.7 247.8"/>
<path stroke="#6ab0be" d="M300.5 207.6A78.7 78.7 0 0 1 301.6 206.5"/>
<path stroke="#248498" d="M395.1 193.1A78.7 78.7 0 0 1 396.3 193.8"/>
</g>
<g fill="none" stroke-width="3">
<path stroke="#d8eef2" d="M431.9 263.1A74.6 74.6 0 0 1 431.9 264.4M431.9 264.3A74.6 74.6 0 0 1 431.8 265.7M431.4 270.3A74.6 74.6 0 0 1 431.3 271.7M427.8 286.6A74.6 74.6 0 0 1 427.3 287.9M421.6 299.9A74.6 74.6 0 0 1 420.9 301.2M412.2 312.6A74.6 74.6 0 0 1 411.3 313.6M411.4 313.5A74.6 74.6 0 0 1 410.4 314.5M410.5 314.4A74.6 74.6 0 0 1 409.6 315.3M401.5 322.2A74.6 74.6 0 0 1 400.4 323M397.5 325A74.6 74.6 0 0 1 396.3 325.7M393.2 327.5A74.6 74.6 0 0 1 392 328.1M383.4 332A74.6 74.6 0 0 1 382.1 332.4M380 333.2A74.6 74.6 0 0 1 378.6 333.6M371.9 335.3A74.6 74.6 0 0 1 370.5 335.5M352.4 336.5A74.6 74.6 0 0 1 351 336.4M349.9 336.3A74.6 74.6 0 0 1 348.5 336.2M339.3 334.5A74.6 74.6 0 0 1 337.9 334.1M336.8 333.8A74.6 74.6 0 0 1 335.5 333.4M335.6 333.5A74.6 74.6 0 0 1 334.2 333M332 332.3A74.6 74.6 0 0 1 330.7 331.8M317.5 325.2A74.6 74.6 0 0 1 316.3 324.4M315.4 323.8A74.6 74.6 0 0 1 314.2 323M314.4 323.1A74.6 74.6 0 0 1 313.2 322.3M294 301.6A74.6 74.6 0 0 1 293.3 300.4M293.4 300.5A74.6 74.6 0 0 1 292.6 299.3M292.1 298.3A74.6 74.6 0 0 1 291.4 297M289.7 293.7A74.6 74.6 0 0 1 289.1 292.4M289.2 292.6A74.6 74.6 0 0 1 288.6 291.2M282.9 267.4A74.6 74.6 0 0 1 282.8 266.1M282.8 265.1A74.6 74.6 0 0 1 282.7 263.7M282.8 259.1A74.6 74.6 0 0 1 282.8 257.7M284.8 244.7A74.6 74.6 0 0 1 285.1 243.3M285.1 243.5A74.6 74.6 0 0 1 285.4 242.1M287.6 235.5A74.6 74.6 0 0 1 288.1 234.3M289.4 231.1A74.6 74.6 0 0 1 290 229.9M291 227.9A74.6 74.6 0 0 1 291.6 226.7M298.1 216.8A74.6 74.6 0 0 1 298.9 215.7M309.8 204.6A74.6 74.6 0 0 1 310.9 203.7M310.8 203.8A74.6 74.6 0 0 1 311.9 202.9M317.5 199A74.6 74.6 0 0 1 318.7 198.3M326.2 194.3A74.6 74.6 0 0 1 327.4 193.7M331.5 192.1A74.6 74.6 0 0 1 332.8 191.6M332.6 191.7A74.6 74.6 0 0 1 333.9 191.3M336.1 190.6A74.6 74.6 0 0 1 337.4 190.2M359.3 187.5A74.6 74.6 0 0 1 360.7 187.6M367.9 188.3A74.6 74.6 0 0 1 369.3 188.5M374 189.4A74.6 74.6 0 0 1 375.3 189.7M375.2 189.7A74.6 74.6 0 0 1 376.5 190M388.7 194.4A74.6 74.6 0 0 1 390 195M406.1 205.7A74.6 74.6 0 0 1 407.2 206.6M420.5 222.5A74.6 74.6 0 0 1 421.3 223.7M421.9 224.7A74.6 74.6 0 0 1 422.6 226M429.9 244.8A74.6 74.6 0 0 1 430.2 246.2M430.8 249.6A74.6 74.6 0 0 1 431.1 251"/>
<path stroke="#f0f8f9" d="M431.8 265.5A74.6 74.6 0 0 1 431.7 266.9M431.8 266.7A74.6 74.6 0 0 1 431.7 268.1M431.6 269.1A74.6 74.6 0 0 1 431.4 270.5M431.3 271.5A74.6 74.6 0 0 1 431.1 272.9M431.1 272.7A74.6 74.6 0 0 1 430.9 274.1M430.5 276.3A74.6 74.6 0 0 1 430.3 277.7M413.8 310.8A74.6 74.6 0 0 1 412.9 311.8M413 311.7A74.6 74.6 0 0 1 412.1 312.7M408.8 316.1A74.6 74.6 0 0 1 407.8 317M402.5 321.4A74.6 74.6 0 0 1 401.4 322.3M400.5 322.9A74.6 74.6 0 0 1 399.4 323.7M368.2 335.9A74.6 74.6 0 0 1 366.8 336.1M366.9 336.1A74.6 74.6 0 0 1 365.5 336.2M351.2 336.4A74.6 74.6 0 0 1 349.8 336.3M348.7 336.2A74.6 74.6 0 0 1 347.3 336M338 334.2A74.6 74.6 0 0 1 336.7 333.8M316.5 324.5A74.6 74.6 0 0 1 315.3 323.7M304 314.3A74.6 74.6 0 0 1 303 313.3M303.1 313.4A74.6 74.6 0 0 1 302.1 312.3M299.8 309.6A74.6 74.6 0 0 1 298.9 308.5M290.3 294.9A74.6 74.6 0 0 1 289.7 293.6M285.9 283.6A74.6 74.6 0 0 1 285.5 282.3M285.2 281.3A74.6 74.6 0 0 1 284.9 280M284.9 280.1A74.6 74.6 0 0 1 284.6 278.8M284.6 279A74.6 74.6 0 0 1 284.3 277.7M284.4 277.8A74.6 74.6 0 0 1 284.1 276.5M284.1 276.6A74.6 74.6 0 0 1 283.9 275.3M282.7 263.9A74.6 74.6 0 0 1 282.7 262.5M282.7 262.7A74.6 74.6 0 0 1 282.7 261.3M284 248.4A74.6 74.6 0 0 1 284.2 247M284.2 247.1A74.6 74.6 0 0 1 284.5 245.8M284.5 245.9A74.6 74.6 0 0 1 284.8 244.5M285.7 241.1A74.6 74.6 0 0 1 286.1 239.7M288 234.4A74.6 74.6 0 0 1 288.5 233.2M289 232.2A74.6 74.6 0 0 1 289.5 231M333.8 191.3A74.6 74.6 0 0 1 335.1 190.9M337.3 190.2A74.6 74.6 0 0 1 338.6 189.9M338.4 189.9A74.6 74.6 0 0 1 339.7 189.6M339.6 189.6A74.6 74.6 0 0 1 340.9 189.3M346.4 188.3A74.6 74.6 0 0 1 347.7 188.1M347.6 188.1A74.6 74.6 0 0 1 348.9 188M361.8 187.6A74.6 74.6 0 0 1 363.2 187.7M366.7 188.1A74.6 74.6 0 0 1 368.1 188.3M369.1 188.4A74.6 74.6 0 0 1 370.5 188.7M372.8 189.1A74.6 74.6 0 0 1 374.1 189.4M380.8 191.3A74.6 74.6 0 0 1 382.1 191.7M407.1 206.5A74.6 74.6 0 0 1 408.1 207.5M414.7 214.5A74.6 74.6 0 0 1 415.6 215.6M415.5 215.5A74.6 74.6 0 0 1 416.4 216.6M416.3 216.5A74.6 74.6 0 0 1 417.2 217.6M422.5 225.8A74.6 74.6 0 0 1 423.2 227.1M423.7 228.1A74.6 74.6 0 0 1 424.4 229.4M430.1 246A74.6 74.6 0 0 1 430.4 247.4"/>
<path stroke="#e0f1f4" d="M431.7 267.9A74.6 74.6 0 0 1 431.6 269.3M431 273.9A74.6 74.6 0 0 1 430.7 275.3M430.3 277.5A74.6 74.6 0 0 1 430 278.9M430 278.7A74.6 74.6 0 0 1 429.7 280M428.5 284.3A74.6 74.6 0 0 1 428.1 285.6M420.3 302.1A74.6 74.6 0 0 1 419.5 303.3M419.6 303.2A74.6 74.6 0 0 1 418.8 304.4M416.1 307.9A74.6 74.6 0 0 1 415.3 309M414.6 309.8A74.6 74.6 0 0 1 413.7 310.9M399.5 323.6A74.6 74.6 0 0 1 398.4 324.4M398.5 324.3A74.6 74.6 0 0 1 397.3 325M394.3 326.9A74.6 74.6 0 0 1 393.1 327.6M392.1 328.1A74.6 74.6 0 0 1 390.9 328.7M385.7 331.1A74.6 74.6 0 0 1 384.5 331.6M378.8 333.5A74.6 74.6 0 0 1 377.4 333.9M376.4 334.2A74.6 74.6 0 0 1 375.1 334.6M373.1 335A74.6 74.6 0 0 1 371.7 335.3M370.7 335.5A74.6 74.6 0 0 1 369.3 335.7M369.4 335.7A74.6 74.6 0 0 1 368 335.9M365.7 336.2A74.6 74.6 0 0 1 364.3 336.4M362 336.6A74.6 74.6 0 0 1 360.5 336.6M346.3 335.9A74.6 74.6 0 0 1 344.9 335.7M307.7 317.8A74.6 74.6 0 0 1 306.6 316.8M304.9 315.2A74.6 74.6 0 0 1 303.9 314.2M300.6 310.5A74.6 74.6 0 0 1 299.7 309.5M299 308.6A74.6 74.6 0 0 1 298.1 307.5M294.7 302.7A74.6 74.6 0 0 1 293.9 301.5M282.7 260.3A74.6 74.6 0 0 1 282.8 258.9M289.9 230A74.6 74.6 0 0 1 290.5 228.8M295.9 219.8A74.6 74.6 0 0 1 296.7 218.6M311.7 203A74.6 74.6 0 0 1 312.9 202.2M318.6 198.3A74.6 74.6 0 0 1 319.8 197.6M320.7 197.1A74.6 74.6 0 0 1 321.9 196.4M327.3 193.8A74.6 74.6 0 0 1 328.5 193.3M334.9 190.9A74.6 74.6 0 0 1 336.2 190.5M340.8 189.4A74.6 74.6 0 0 1 342.1 189.1M353.6 187.6A74.6 74.6 0 0 1 355 187.5M370.3 188.6A74.6 74.6 0 0 1 371.7 188.9M408.9 208.2A74.6 74.6 0 0 1 409.9 209.2M409.8 209.1A74.6 74.6 0 0 1 410.8 210.1M421.2 223.6A74.6 74.6 0 0 1 421.9 224.9M427.5 237A74.6 74.6 0 0 1 428 238.3M427.9 238.1A74.6 74.6 0 0 1 428.4 239.4M430.4 247.2A74.6 74.6 0 0 1 430.7 248.6M430.6 248.4A74.6 74.6 0 0 1 430.9 249.8M431.2 252.1A74.6 74.6 0 0 1 431.4 253.4"/>
<path stroke="#d0eaef" d="M430.8 275.1A74.6 74.6 0 0 1 430.5 276.5M429.8 279.9A74.6 74.6 0 0 1 429.4 281.2M428.1 285.5A74.6 74.6 0 0 1 427.7 286.8M417.6 306A74.6 74.6 0 0 1 416.8 307.1M409.7 315.2A74.6 74.6 0 0 1 408.7 316.2M407.9 316.9A74.6 74.6 0 0 1 406.9 317.8M391 328.6A74.6 74.6 0 0 1 389.8 329.2M389.1 329.6A74.6 74.6 0 0 1 387.9 330.2M364.5 336.4A74.6 74.6 0 0 1 363.1 336.5M357.3 336.7A74.6 74.6 0 0 1 355.9 336.7M354.8 336.7A74.6 74.6 0 0 1 353.5 336.6M347.5 336.1A74.6 74.6 0 0 1 346.1 335.9M345 335.7A74.6 74.6 0 0 1 343.7 335.4M333.2 332.7A74.6 74.6 0 0 1 331.9 332.2M287 287A74.6 74.6 0 0 1 286.5 285.8M286.6 285.9A74.6 74.6 0 0 1 286.2 284.6M283.9 275.5A74.6 74.6 0 0 1 283.7 274.1M283.1 269.8A74.6 74.6 0 0 1 283 268.5M283 268.6A74.6 74.6 0 0 1 282.9 267.3M282.7 261.5A74.6 74.6 0 0 1 282.7 260.1M283.2 253.3A74.6 74.6 0 0 1 283.4 251.9M313.7 201.6A74.6 74.6 0 0 1 314.9 200.8M328.4 193.3A74.6 74.6 0 0 1 329.7 192.8M341.9 189.1A74.6 74.6 0 0 1 343.3 188.8M348.8 188A74.6 74.6 0 0 1 350.1 187.8M354.8 187.5A74.6 74.6 0 0 1 356.2 187.5M357.2 187.5A74.6 74.6 0 0 1 358.6 187.5M378.4 190.6A74.6 74.6 0 0 1 379.7 191M379.6 190.9A74.6 74.6 0 0 1 380.9 191.3M384.2 192.5A74.6 74.6 0 0 1 385.5 193M385.4 193A74.6 74.6 0 0 1 386.6 193.5M408 207.4A74.6 74.6 0 0 1 409 208.3M413 212.5A74.6 74.6 0 0 1 414 213.6M417.9 218.5A74.6 74.6 0 0 1 418.7 219.7M419.3 220.7A74.6 74.6 0 0 1 420.1 221.9M424.8 230.4A74.6 74.6 0 0 1 425.4 231.7"/>
<path stroke="#c0e3ea" d="M429.5 281.1A74.6 74.6 0 0 1 429.1 282.4M422.2 298.9A74.6 74.6 0 0 1 421.5 300.1M405.4 319.1A74.6 74.6 0 0 1 404.3 320M341.7 335.1A74.6 74.6 0 0 1 340.3 334.7M334.4 333.1A74.6 74.6 0 0 1 333 332.6M329.6 331.4A74.6 74.6 0 0 1 328.3 330.8M318.6 325.9A74.6 74.6 0 0 1 317.4 325.1M313.3 322.4A74.6 74.6 0 0 1 312.2 321.5M312.3 321.6A74.6 74.6 0 0 1 311.2 320.7M308.6 318.6A74.6 74.6 0 0 1 307.6 317.7M297.4 306.6A74.6 74.6 0 0 1 296.6 305.4M295.4 303.8A74.6 74.6 0 0 1 294.6 302.6M283.6 250.8A74.6 74.6 0 0 1 283.8 249.4M298.8 215.8A74.6 74.6 0 0 1 299.7 214.7M344 188.7A74.6 74.6 0 0 1 345.4 188.5M351.2 187.8A74.6 74.6 0 0 1 352.5 187.7M352.4 187.7A74.6 74.6 0 0 1 353.7 187.6M389.8 195A74.6 74.6 0 0 1 391.1 195.6M405.2 204.9A74.6 74.6 0 0 1 406.2 205.8M426.2 233.6A74.6 74.6 0 0 1 426.8 234.9"/>
<path stroke="#b0dce5" d="M428.9 283.1A74.6 74.6 0 0 1 428.5 284.4M415.4 308.9A74.6 74.6 0 0 1 414.5 310M396.4 325.6A74.6 74.6 0 0 1 395.2 326.3M395.4 326.3A74.6 74.6 0 0 1 394.2 327M327.3 330.4A74.6 74.6 0 0 1 326 329.8M319.7 326.5A74.6 74.6 0 0 1 318.5 325.8M283.5 273.1A74.6 74.6 0 0 1 283.3 271.7M283 255.8A74.6 74.6 0 0 1 283.1 254.4M287.2 236.6A74.6 74.6 0 0 1 287.6 235.4M292.1 225.8A74.6 74.6 0 0 1 292.8 224.6M306.1 207.8A74.6 74.6 0 0 1 307.1 206.9M325 194.8A74.6 74.6 0 0 1 326.3 194.2M392 196.1A74.6 74.6 0 0 1 393.2 196.7M401.2 201.8A74.6 74.6 0 0 1 402.3 202.6"/>
<path stroke="#c8e6ec" d="M427.3 287.8A74.6 74.6 0 0 1 426.8 289.1M423.4 296.6A74.6 74.6 0 0 1 422.8 297.9M422.8 297.7A74.6 74.6 0 0 1 422.1 299M407 317.7A74.6 74.6 0 0 1 406 318.6M375.2 334.5A74.6 74.6 0 0 1 373.9 334.8M358.5 336.7A74.6 74.6 0 0 1 357.1 336.7M356.1 336.7A74.6 74.6 0 0 1 354.7 336.7M306.7 316.9A74.6 74.6 0 0 1 305.7 316M298.2 307.6A74.6 74.6 0 0 1 297.3 306.5M296.7 305.6A74.6 74.6 0 0 1 295.8 304.4M283.7 274.3A74.6 74.6 0 0 1 283.5 272.9M286.1 239.9A74.6 74.6 0 0 1 286.5 238.5M286.5 238.7A74.6 74.6 0 0 1 286.9 237.4M291.6 226.8A74.6 74.6 0 0 1 292.2 225.6M294.5 221.8A74.6 74.6 0 0 1 295.3 220.7M307 207A74.6 74.6 0 0 1 308.1 206.1M330.4 192.5A74.6 74.6 0 0 1 331.7 192M387.6 193.9A74.6 74.6 0 0 1 388.9 194.5M390.9 195.5A74.6 74.6 0 0 1 392.2 196.1M403.2 203.3A74.6 74.6 0 0 1 404.3 204.2M404.2 204.1A74.6 74.6 0 0 1 405.3 205M410.7 210A74.6 74.6 0 0 1 411.7 211M418.6 219.6A74.6 74.6 0 0 1 419.4 220.8M425.4 231.6A74.6 74.6 0 0 1 426 232.9M426.7 234.7A74.6 74.6 0 0 1 427.2 236M429 241.6A74.6 74.6 0 0 1 429.4 242.9M429.6 243.6A74.6 74.6 0 0 1 429.9 245M431.4 253.3A74.6 74.6 0 0 1 431.5 254.7"/>
<path stroke="#9ed1db" d="M426.9 289A74.6 74.6 0 0 1 426.4 290.3M426.4 290.1A74.6 74.6 0 0 1 425.9 291.4M424.6 294.4A74.6 74.6 0 0 1 423.9 295.6M424 295.5A74.6 74.6 0 0 1 423.4 296.8M343.8 335.5A74.6 74.6 0 0 1 342.5 335.2M340.5 334.8A74.6 74.6 0 0 1 339.1 334.4M328.5 330.9A74.6 74.6 0 0 1 327.2 330.3M323.1 328.4A74.6 74.6 0 0 1 321.8 327.7M321.9 327.8A74.6 74.6 0 0 1 320.7 327.1M320.8 327.2A74.6 74.6 0 0 1 319.6 326.5M283.2 271A74.6 74.6 0 0 1 283.1 269.7M301.2 212.9A74.6 74.6 0 0 1 302.1 211.9M305.2 208.7A74.6 74.6 0 0 1 306.2 207.7M322.9 195.9A74.6 74.6 0 0 1 324.1 195.3M402.2 202.5A74.6 74.6 0 0 1 403.3 203.4"/>
<path stroke="#479aab" d="M426 291.2A74.6 74.6 0 0 1 425.4 292.5M304.4 209.5A74.6 74.6 0 0 1 305.3 208.6M396.3 198.5A74.6 74.6 0 0 1 397.5 199.2M398.1 199.6A74.6 74.6 0 0 1 399.3 200.4"/>
<path stroke="#7cbbc8" d="M425.1 293.2A74.6 74.6 0 0 1 424.5 294.5M324.2 328.9A74.6 74.6 0 0 1 322.9 328.3M309.6 319.5A74.6 74.6 0 0 1 308.5 318.5M288.2 290.2A74.6 74.6 0 0 1 287.7 288.9M282.8 257.9A74.6 74.6 0 0 1 282.9 256.5M302 212A74.6 74.6 0 0 1 303 211M321.8 196.5A74.6 74.6 0 0 1 323 195.9M386.5 193.4A74.6 74.6 0 0 1 387.8 194M395.2 197.9A74.6 74.6 0 0 1 396.4 198.6"/>
<path stroke="#e8f4f6" d="M420.9 301A74.6 74.6 0 0 1 420.2 302.2M416.9 307A74.6 74.6 0 0 1 416.1 308.1M404.5 319.9A74.6 74.6 0 0 1 403.4 320.8M388 330.1A74.6 74.6 0 0 1 386.7 330.6M386.9 330.6A74.6 74.6 0 0 1 385.6 331.1M384.6 331.5A74.6 74.6 0 0 1 383.3 332M382.3 332.4A74.6 74.6 0 0 1 381 332.8M381.1 332.8A74.6 74.6 0 0 1 379.8 333.2M377.6 333.9A74.6 74.6 0 0 1 376.3 334.3M363.2 336.5A74.6 74.6 0 0 1 361.8 336.6M353.6 336.6A74.6 74.6 0 0 1 352.2 336.5M302.3 312.5A74.6 74.6 0 0 1 301.3 311.4M301.4 311.5A74.6 74.6 0 0 1 300.5 310.4M292.7 299.4A74.6 74.6 0 0 1 292 298.2M291.5 297.2A74.6 74.6 0 0 1 290.8 295.9M290.9 296A74.6 74.6 0 0 1 290.2 294.7M286.2 284.8A74.6 74.6 0 0 1 285.8 283.5M285.5 282.5A74.6 74.6 0 0 1 285.2 281.2M282.8 266.2A74.6 74.6 0 0 1 282.8 264.9M283.4 252.1A74.6 74.6 0 0 1 283.6 250.7M283.8 249.6A74.6 74.6 0 0 1 284 248.2M285.4 242.3A74.6 74.6 0 0 1 285.8 240.9M288.5 233.3A74.6 74.6 0 0 1 289 232.1M290.5 229A74.6 74.6 0 0 1 291.1 227.8M295.2 220.8A74.6 74.6 0 0 1 296 219.6M296.6 218.8A74.6 74.6 0 0 1 297.4 217.6M297.3 217.8A74.6 74.6 0 0 1 298.2 216.6M307.9 206.2A74.6 74.6 0 0 1 309 205.2M308.9 205.4A74.6 74.6 0 0 1 309.9 204.5M312.7 202.3A74.6 74.6 0 0 1 313.9 201.5M319.6 197.7A74.6 74.6 0 0 1 320.8 197M345.2 188.5A74.6 74.6 0 0 1 346.6 188.3M356 187.5A74.6 74.6 0 0 1 357.4 187.5M360.5 187.6A74.6 74.6 0 0 1 361.9 187.6M363 187.7A74.6 74.6 0 0 1 364.4 187.8M364.2 187.8A74.6 74.6 0 0 1 365.6 188M365.5 187.9A74.6 74.6 0 0 1 366.8 188.1M371.6 188.9A74.6 74.6 0 0 1 372.9 189.2M381.9 191.7A74.6 74.6 0 0 1 383.2 192.1M383.1 192.1A74.6 74.6 0 0 1 384.4 192.6M417.1 217.5A74.6 74.6 0 0 1 418 218.7M423.1 227A74.6 74.6 0 0 1 423.8 228.2M424.3 229.3A74.6 74.6 0 0 1 424.9 230.6M427.1 235.9A74.6 74.6 0 0 1 427.6 237.1M428.3 239.3A74.6 74.6 0 0 1 428.7 240.6M428.7 240.4A74.6 74.6 0 0 1 429.1 241.7M431 250.8A74.6 74.6 0 0 1 431.2 252.2"/>
<path stroke="#b8e0e8" d="M418.9 304.2A74.6 74.6 0 0 1 418.1 305.4M403.5 320.7A74.6 74.6 0 0 1 402.4 321.5M360.7 336.6A74.6 74.6 0 0 1 359.3 336.7M330.8 331.8A74.6 74.6 0 0 1 329.5 331.3M305.8 316.1A74.6 74.6 0 0 1 304.8 315.1M288.7 291.4A74.6 74.6 0 0 1 288.1 290.1M283.1 254.5A74.6 74.6 0 0 1 283.2 253.2M293.8 222.9A74.6 74.6 0 0 1 294.6 221.7M299.6 214.8A74.6 74.6 0 0 1 300.5 213.7M314.7 200.8A74.6 74.6 0 0 1 315.9 200.1M323.9 195.4A74.6 74.6 0 0 1 325.2 194.8M350 187.9A74.6 74.6 0 0 1 351.3 187.7M413.9 213.5A74.6 74.6 0 0 1 414.8 214.6"/>
<path stroke="#6ab0be" d="M326.2 329.9A74.6 74.6 0 0 1 324.9 329.3M303.5 210.4A74.6 74.6 0 0 1 304.5 209.4"/>
<path stroke="#8dc6d2" d="M311.3 320.8A74.6 74.6 0 0 1 310.2 319.9M300.4 213.9A74.6 74.6 0 0 1 301.3 212.8M316.5 199.6A74.6 74.6 0 0 1 317.7 198.9M376.4 190A74.6 74.6 0 0 1 377.7 190.3M393.1 196.7A74.6 74.6 0 0 1 394.3 197.3M394.2 197.3A74.6 74.6 0 0 1 395.4 197.9M400.2 201A74.6 74.6 0 0 1 401.3 201.9"/>
<path stroke="#368fa2" d="M287.4 288.2A74.6 74.6 0 0 1 286.9 286.9M399.1 200.3A74.6 74.6 0 0 1 400.3 201.1"/>
<path stroke="#58a5b5" d="M293.2 224A74.6 74.6 0 0 1 293.9 222.8M412.2 211.6A74.6 74.6 0 0 1 413.1 212.6"/>
</g>
<g fill="none" stroke-width="3">
<path stroke="#e0f1f4" d="M427.9 263A70.6 70.6 0 0 1 427.9 264.3M427.9 264.2A70.6 70.6 0 0 1 427.8 265.5M425.9 278.9A70.6 70.6 0 0 1 425.5 280.2M424.3 284.2A70.6 70.6 0 0 1 423.9 285.5M416.2 301A70.6 70.6 0 0 1 415.5 302.1M407.7 311.6A70.6 70.6 0 0 1 406.8 312.5M404.3 314.7A70.6 70.6 0 0 1 403.4 315.6M387.4 326A70.6 70.6 0 0 1 386.2 326.5M375.4 330.3A70.6 70.6 0 0 1 374.1 330.7M372.3 331.1A70.6 70.6 0 0 1 371 331.4M360.5 332.6A70.6 70.6 0 0 1 359.2 332.7M346.9 331.9A70.6 70.6 0 0 1 345.6 331.7M341.4 330.9A70.6 70.6 0 0 1 340.1 330.6M334.5 328.9A70.6 70.6 0 0 1 333.2 328.5M333.4 328.5A70.6 70.6 0 0 1 332.1 328M332.2 328.1A70.6 70.6 0 0 1 331 327.6M331.1 327.7A70.6 70.6 0 0 1 329.9 327.2M321.7 323.1A70.6 70.6 0 0 1 320.6 322.4M320.7 322.5A70.6 70.6 0 0 1 319.5 321.8M314.7 318.4A70.6 70.6 0 0 1 313.6 317.6M311.2 315.6A70.6 70.6 0 0 1 310.2 314.7M308.6 313.2A70.6 70.6 0 0 1 307.6 312.2M300.6 304.2A70.6 70.6 0 0 1 299.8 303.1M299.9 303.2A70.6 70.6 0 0 1 299.1 302.1M298.7 301.5A70.6 70.6 0 0 1 298 300.4M297.4 299.5A70.6 70.6 0 0 1 296.7 298.3M292.9 290.9A70.6 70.6 0 0 1 292.3 289.7M290.8 285.7A70.6 70.6 0 0 1 290.3 284.5M287.2 270.5A70.6 70.6 0 0 1 287.1 269.3M287.1 269.4A70.6 70.6 0 0 1 287 268.1M286.7 260.4A70.6 70.6 0 0 1 286.8 259.1M286.8 259.2A70.6 70.6 0 0 1 286.8 258M287.2 253.8A70.6 70.6 0 0 1 287.4 252.5M290.3 239.9A70.6 70.6 0 0 1 290.7 238.7M295.1 228.7A70.6 70.6 0 0 1 295.7 227.6M302 218.3A70.6 70.6 0 0 1 302.8 217.2M308.9 210.7A70.6 70.6 0 0 1 309.8 209.8M310.6 209.2A70.6 70.6 0 0 1 311.6 208.3M316.1 204.8A70.6 70.6 0 0 1 317.1 204M319.7 202.4A70.6 70.6 0 0 1 320.8 201.7M326.8 198.4A70.6 70.6 0 0 1 328 197.9M330 197A70.6 70.6 0 0 1 331.2 196.5M332.9 195.9A70.6 70.6 0 0 1 334.1 195.4M342.8 193A70.6 70.6 0 0 1 344 192.8M351.5 191.7A70.6 70.6 0 0 1 352.8 191.6M352.7 191.7A70.6 70.6 0 0 1 353.9 191.6M357.2 191.5A70.6 70.6 0 0 1 358.5 191.5M381.7 195.8A70.6 70.6 0 0 1 382.9 196.3M384.9 197.1A70.6 70.6 0 0 1 386.1 197.7M386 197.6A70.6 70.6 0 0 1 387.2 198.1M389.1 199.1A70.6 70.6 0 0 1 390.3 199.7M399.8 205.7A70.6 70.6 0 0 1 400.9 206.5M400.7 206.4A70.6 70.6 0 0 1 401.8 207.3M402.6 207.9A70.6 70.6 0 0 1 403.6 208.8M403.5 208.7A70.6 70.6 0 0 1 404.5 209.6M407 211.9A70.6 70.6 0 0 1 407.9 212.9M409.2 214.3A70.6 70.6 0 0 1 410.1 215.3M410.8 216.1A70.6 70.6 0 0 1 411.7 217.1M415.3 221.9A70.6 70.6 0 0 1 416.1 223M417.1 224.6A70.6 70.6 0 0 1 417.9 225.8M417.8 225.7A70.6 70.6 0 0 1 418.5 226.9M420.7 231A70.6 70.6 0 0 1 421.3 232.3M421.2 232.1A70.6 70.6 0 0 1 421.8 233.4M421.7 233.2A70.6 70.6 0 0 1 422.3 234.5M422.5 235.1A70.6 70.6 0 0 1 423 236.3M426 245.7A70.6 70.6 0 0 1 426.3 247"/>
<path stroke="#f0f8f9" d="M427.8 265.3A70.6 70.6 0 0 1 427.8 266.6M427.7 267.6A70.6 70.6 0 0 1 427.6 268.9M427.3 271A70.6 70.6 0 0 1 427.2 272.3M427.2 272.2A70.6 70.6 0 0 1 427 273.4M426.8 274.4A70.6 70.6 0 0 1 426.6 275.7M426.6 275.6A70.6 70.6 0 0 1 426.3 276.8M426.4 276.7A70.6 70.6 0 0 1 426.1 278M426.1 277.8A70.6 70.6 0 0 1 425.8 279.1M417.5 298.9A70.6 70.6 0 0 1 416.8 300.1M413 305.5A70.6 70.6 0 0 1 412.2 306.5M411.5 307.3A70.6 70.6 0 0 1 410.7 308.3M410.8 308.2A70.6 70.6 0 0 1 409.9 309.1M409.3 309.9A70.6 70.6 0 0 1 408.4 310.8M406.9 312.4A70.6 70.6 0 0 1 405.9 313.3M400.1 318.3A70.6 70.6 0 0 1 399 319M399.2 319A70.6 70.6 0 0 1 398.1 319.7M398.2 319.6A70.6 70.6 0 0 1 397.1 320.4M396.3 321A70.6 70.6 0 0 1 395.2 321.7M392.3 323.4A70.6 70.6 0 0 1 391.2 324M382 328.2A70.6 70.6 0 0 1 380.8 328.7M376.5 330A70.6 70.6 0 0 1 375.2 330.4M371.1 331.3A70.6 70.6 0 0 1 369.8 331.6M370 331.6A70.6 70.6 0 0 1 368.6 331.8M368.8 331.8A70.6 70.6 0 0 1 367.5 332M367.6 331.9A70.6 70.6 0 0 1 366.3 332.1M364.1 332.4A70.6 70.6 0 0 1 362.7 332.5M362.9 332.5A70.6 70.6 0 0 1 361.6 332.6M356.1 332.7A70.6 70.6 0 0 1 354.8 332.7M355 332.7A70.6 70.6 0 0 1 353.7 332.6M352.6 332.5A70.6 70.6 0 0 1 351.3 332.4M351.5 332.5A70.6 70.6 0 0 1 350.2 332.3M349.2 332.2A70.6 70.6 0 0 1 347.9 332.1M318.7 321.2A70.6 70.6 0 0 1 317.5 320.4M317.7 320.5A70.6 70.6 0 0 1 316.5 319.7M307.7 312.3A70.6 70.6 0 0 1 306.8 311.4M306 310.6A70.6 70.6 0 0 1 305.1 309.6M304.4 308.9A70.6 70.6 0 0 1 303.5 307.8M302.8 307A70.6 70.6 0 0 1 302 306M301.3 305.2A70.6 70.6 0 0 1 300.5 304.1M295.6 296.4A70.6 70.6 0 0 1 294.9 295.2M290 283.5A70.6 70.6 0 0 1 289.7 282.3M289.1 280.3A70.6 70.6 0 0 1 288.8 279M288.3 277A70.6 70.6 0 0 1 288 275.7M288.1 275.9A70.6 70.6 0 0 1 287.8 274.6M286.9 267.1A70.6 70.6 0 0 1 286.8 265.9M286.8 266A70.6 70.6 0 0 1 286.7 264.7M286.7 263.8A70.6 70.6 0 0 1 286.7 262.5M286.7 262.6A70.6 70.6 0 0 1 286.7 261.4M287.3 252.6A70.6 70.6 0 0 1 287.5 251.3M287.7 250.3A70.6 70.6 0 0 1 287.9 249M287.9 249.1A70.6 70.6 0 0 1 288.2 247.8M288.4 246.8A70.6 70.6 0 0 1 288.7 245.5M288.6 245.6A70.6 70.6 0 0 1 289 244.3M291.7 235.9A70.6 70.6 0 0 1 292.2 234.7M292.2 234.8A70.6 70.6 0 0 1 292.7 233.7M292.6 233.8A70.6 70.6 0 0 1 293.1 232.6M294.1 230.7A70.6 70.6 0 0 1 294.6 229.6M299.8 221.1A70.6 70.6 0 0 1 300.6 220M311.5 208.4A70.6 70.6 0 0 1 312.5 207.6M312.4 207.6A70.6 70.6 0 0 1 313.4 206.8M313.3 206.9A70.6 70.6 0 0 1 314.3 206.1M314.2 206.2A70.6 70.6 0 0 1 315.2 205.4M315.1 205.5A70.6 70.6 0 0 1 316.2 204.7M320.7 201.8A70.6 70.6 0 0 1 321.8 201.1M321.7 201.2A70.6 70.6 0 0 1 322.8 200.5M322.7 200.6A70.6 70.6 0 0 1 323.8 200M323.7 200A70.6 70.6 0 0 1 324.8 199.4M334 195.5A70.6 70.6 0 0 1 335.2 195.1M336.1 194.7A70.6 70.6 0 0 1 337.4 194.4M337.2 194.4A70.6 70.6 0 0 1 338.5 194.1M338.3 194.1A70.6 70.6 0 0 1 339.6 193.8M340.5 193.5A70.6 70.6 0 0 1 341.8 193.2M341.7 193.3A70.6 70.6 0 0 1 342.9 193M345.9 192.4A70.6 70.6 0 0 1 347.1 192.2M347 192.3A70.6 70.6 0 0 1 348.3 192.1M348.1 192.1A70.6 70.6 0 0 1 349.4 191.9M349.2 192A70.6 70.6 0 0 1 350.5 191.8M354.9 191.5A70.6 70.6 0 0 1 356.2 191.5M360.4 191.6A70.6 70.6 0 0 1 361.7 191.6M362.7 191.7A70.6 70.6 0 0 1 364 191.8M363.9 191.8A70.6 70.6 0 0 1 365.2 191.9M369.6 192.6A70.6 70.6 0 0 1 370.9 192.8M370.8 192.8A70.6 70.6 0 0 1 372.1 193.1M371.9 193A70.6 70.6 0 0 1 373.2 193.3M373.1 193.3A70.6 70.6 0 0 1 374.4 193.6M378.4 194.7A70.6 70.6 0 0 1 379.6 195.1M413.9 219.9A70.6 70.6 0 0 1 414.7 221M418.4 226.7A70.6 70.6 0 0 1 419.1 227.9M423.8 238.3A70.6 70.6 0 0 1 424.2 239.5M424.2 239.4A70.6 70.6 0 0 1 424.6 240.6M424.9 241.6A70.6 70.6 0 0 1 425.2 242.8M426.5 248A70.6 70.6 0 0 1 426.7 249.3M426.7 249.1A70.6 70.6 0 0 1 426.9 250.4M427.1 251.4A70.6 70.6 0 0 1 427.3 252.7"/>
<path stroke="#e8f4f6" d="M427.8 266.5A70.6 70.6 0 0 1 427.7 267.8M427.6 268.8A70.6 70.6 0 0 1 427.5 270M427.5 269.9A70.6 70.6 0 0 1 427.3 271.2M427 273.3A70.6 70.6 0 0 1 426.8 274.6M424.7 283.1A70.6 70.6 0 0 1 424.3 284.3M424 285.3A70.6 70.6 0 0 1 423.5 286.6M419.3 295.8A70.6 70.6 0 0 1 418.7 297M418.7 296.9A70.6 70.6 0 0 1 418.1 298M418.1 297.9A70.6 70.6 0 0 1 417.4 299.1M416.9 300A70.6 70.6 0 0 1 416.2 301.1M415.6 302A70.6 70.6 0 0 1 414.8 303.1M414.4 303.6A70.6 70.6 0 0 1 413.6 304.7M413.7 304.6A70.6 70.6 0 0 1 412.9 305.6M412.3 306.4A70.6 70.6 0 0 1 411.5 307.4M410 309A70.6 70.6 0 0 1 409.2 310M408.5 310.7A70.6 70.6 0 0 1 407.6 311.7M406 313.2A70.6 70.6 0 0 1 405.1 314.1M405.2 314A70.6 70.6 0 0 1 404.2 314.8M401.9 316.8A70.6 70.6 0 0 1 400.9 317.6M401 317.5A70.6 70.6 0 0 1 400 318.3M397.3 320.3A70.6 70.6 0 0 1 396.2 321M395.3 321.6A70.6 70.6 0 0 1 394.2 322.3M391.3 324A70.6 70.6 0 0 1 390.1 324.6M390.3 324.5A70.6 70.6 0 0 1 389.1 325.1M389.2 325.1A70.6 70.6 0 0 1 388.1 325.6M386.4 326.4A70.6 70.6 0 0 1 385.2 327M385.3 326.9A70.6 70.6 0 0 1 384.1 327.4M384.2 327.4A70.6 70.6 0 0 1 383 327.9M381 328.6A70.6 70.6 0 0 1 379.7 329M379.8 329A70.6 70.6 0 0 1 378.6 329.4M378.7 329.4A70.6 70.6 0 0 1 377.5 329.8M377.6 329.7A70.6 70.6 0 0 1 376.4 330.1M366.4 332.1A70.6 70.6 0 0 1 365.1 332.3M365.3 332.3A70.6 70.6 0 0 1 363.9 332.4M361.7 332.6A70.6 70.6 0 0 1 360.4 332.6M358.5 332.7A70.6 70.6 0 0 1 357.2 332.7M357.3 332.7A70.6 70.6 0 0 1 356 332.7M353.8 332.6A70.6 70.6 0 0 1 352.5 332.5M350.3 332.4A70.6 70.6 0 0 1 349 332.2M348 332.1A70.6 70.6 0 0 1 346.7 331.9M345.7 331.7A70.6 70.6 0 0 1 344.4 331.5M342.6 331.1A70.6 70.6 0 0 1 341.2 330.9M340.2 330.6A70.6 70.6 0 0 1 338.9 330.3M339.1 330.3A70.6 70.6 0 0 1 337.8 329.9M337.9 330A70.6 70.6 0 0 1 336.6 329.6M336.8 329.6A70.6 70.6 0 0 1 335.5 329.2M335.6 329.3A70.6 70.6 0 0 1 334.3 328.9M319.7 321.8A70.6 70.6 0 0 1 318.5 321.1M316.7 319.8A70.6 70.6 0 0 1 315.6 319M315.7 319.1A70.6 70.6 0 0 1 314.6 318.3M310.3 314.8A70.6 70.6 0 0 1 309.3 313.9M309.4 314A70.6 70.6 0 0 1 308.5 313.1M306.9 311.5A70.6 70.6 0 0 1 305.9 310.5M305.2 309.8A70.6 70.6 0 0 1 304.3 308.7M303.6 308A70.6 70.6 0 0 1 302.7 306.9M302.1 306.1A70.6 70.6 0 0 1 301.3 305M298.1 300.5A70.6 70.6 0 0 1 297.3 299.4M296.8 298.5A70.6 70.6 0 0 1 296.1 297.3M296.2 297.4A70.6 70.6 0 0 1 295.5 296.2M295 295.3A70.6 70.6 0 0 1 294.4 294.1M294.4 294.2A70.6 70.6 0 0 1 293.8 293M293.9 293.1A70.6 70.6 0 0 1 293.3 291.9M293.4 292A70.6 70.6 0 0 1 292.8 290.8M290.4 284.6A70.6 70.6 0 0 1 290 283.4M289.7 282.5A70.6 70.6 0 0 1 289.3 281.2M289.4 281.4A70.6 70.6 0 0 1 289 280.1M288.8 279.2A70.6 70.6 0 0 1 288.5 277.9M288.5 278.1A70.6 70.6 0 0 1 288.3 276.8M287.8 274.7A70.6 70.6 0 0 1 287.6 273.5M287 268.3A70.6 70.6 0 0 1 286.9 267M286.8 264.9A70.6 70.6 0 0 1 286.7 263.6M286.7 261.5A70.6 70.6 0 0 1 286.7 260.2M286.8 258.1A70.6 70.6 0 0 1 286.9 256.8M287.1 255A70.6 70.6 0 0 1 287.2 253.6M287.5 251.4A70.6 70.6 0 0 1 287.7 250.1M288.1 247.9A70.6 70.6 0 0 1 288.4 246.6M288.9 244.5A70.6 70.6 0 0 1 289.3 243.2M289.2 243.3A70.6 70.6 0 0 1 289.6 242.1M289.6 242.2A70.6 70.6 0 0 1 289.9 240.9M289.9 241.1A70.6 70.6 0 0 1 290.3 239.8M291.3 237A70.6 70.6 0 0 1 291.8 235.8M293.1 232.8A70.6 70.6 0 0 1 293.6 231.6M293.6 231.8A70.6 70.6 0 0 1 294.1 230.6M294.6 229.7A70.6 70.6 0 0 1 295.2 228.6M298.5 223A70.6 70.6 0 0 1 299.2 221.9M299.2 222A70.6 70.6 0 0 1 299.9 221M300.5 220.1A70.6 70.6 0 0 1 301.3 219.1M309.7 209.9A70.6 70.6 0 0 1 310.7 209.1M327.8 197.9A70.6 70.6 0 0 1 329 197.4M328.9 197.5A70.6 70.6 0 0 1 330.1 197M331.8 196.3A70.6 70.6 0 0 1 333 195.8M335.1 195.1A70.6 70.6 0 0 1 336.3 194.7M339.4 193.8A70.6 70.6 0 0 1 340.7 193.5M344.7 192.6A70.6 70.6 0 0 1 346 192.4M350.4 191.8A70.6 70.6 0 0 1 351.7 191.7M353.8 191.6A70.6 70.6 0 0 1 355.1 191.5M356.1 191.5A70.6 70.6 0 0 1 357.4 191.5M359.2 191.5A70.6 70.6 0 0 1 360.5 191.6M361.5 191.6A70.6 70.6 0 0 1 362.9 191.7M365 191.9A70.6 70.6 0 0 1 366.3 192.1M366.2 192.1A70.6 70.6 0 0 1 367.5 192.2M367.3 192.2A70.6 70.6 0 0 1 368.6 192.4M368.5 192.4A70.6 70.6 0 0 1 369.8 192.6M374.2 193.6A70.6 70.6 0 0 1 375.5 193.9M375.3 193.8A70.6 70.6 0 0 1 376.6 194.2M377.3 194.4A70.6 70.6 0 0 1 378.5 194.8M379.5 195.1A70.6 70.6 0 0 1 380.7 195.5M380.6 195.5A70.6 70.6 0 0 1 381.8 195.9M382.8 196.3A70.6 70.6 0 0 1 384 196.7M401.7 207.2A70.6 70.6 0 0 1 402.7 208M404.4 209.5A70.6 70.6 0 0 1 405.4 210.4M405.3 210.3A70.6 70.6 0 0 1 406.2 211.2M406.1 211.1A70.6 70.6 0 0 1 407.1 212M410 215.2A70.6 70.6 0 0 1 410.9 216.2M411.6 217A70.6 70.6 0 0 1 412.5 218.1M412.4 218A70.6 70.6 0 0 1 413.3 219M413.2 218.9A70.6 70.6 0 0 1 414 220M414.6 220.9A70.6 70.6 0 0 1 415.4 222M416 222.9A70.6 70.6 0 0 1 416.8 224M419 227.8A70.6 70.6 0 0 1 419.7 229M419.6 228.9A70.6 70.6 0 0 1 420.2 230.1M420.1 229.9A70.6 70.6 0 0 1 420.8 231.2M423 236.2A70.6 70.6 0 0 1 423.4 237.4M423.4 237.3A70.6 70.6 0 0 1 423.8 238.5M424.5 240.5A70.6 70.6 0 0 1 424.9 241.7M425.2 242.7A70.6 70.6 0 0 1 425.5 243.9M425.7 244.6A70.6 70.6 0 0 1 426 245.9M426.2 246.9A70.6 70.6 0 0 1 426.5 248.1M426.9 250.3A70.6 70.6 0 0 1 427.1 251.6M427.3 252.6A70.6 70.6 0 0 1 427.4 253.9M427.4 253.7A70.6 70.6 0 0 1 427.5 255.1"/>
<path stroke="#d8eef2" d="M425.6 280A70.6 70.6 0 0 1 425.2 281.3M425 282A70.6 70.6 0 0 1 424.7 283.2M423.6 286.4A70.6 70.6 0 0 1 423.1 287.7M423.2 287.5A70.6 70.6 0 0 1 422.7 288.7M421 292.6A70.6 70.6 0 0 1 420.4 293.8M419.9 294.8A70.6 70.6 0 0 1 419.2 296M402.8 316.1A70.6 70.6 0 0 1 401.8 316.9M393.3 322.8A70.6 70.6 0 0 1 392.2 323.5M383.1 327.8A70.6 70.6 0 0 1 381.9 328.3M344.6 331.5A70.6 70.6 0 0 1 343.3 331.3M324.9 324.8A70.6 70.6 0 0 1 323.7 324.2M322.8 323.7A70.6 70.6 0 0 1 321.6 323M313.8 317.7A70.6 70.6 0 0 1 312.7 316.8M291.1 286.8A70.6 70.6 0 0 1 290.7 285.6M287.6 273.6A70.6 70.6 0 0 1 287.4 272.4M287.5 272.5A70.6 70.6 0 0 1 287.3 271.2M287 256.1A70.6 70.6 0 0 1 287.1 254.8M290.9 238A70.6 70.6 0 0 1 291.4 236.8M295.6 227.7A70.6 70.6 0 0 1 296.3 226.6M301.2 219.2A70.6 70.6 0 0 1 302 218.1M303.4 216.4A70.6 70.6 0 0 1 304.3 215.4M308 211.5A70.6 70.6 0 0 1 309 210.6M317 204.1A70.6 70.6 0 0 1 318.1 203.4M318.7 203A70.6 70.6 0 0 1 319.8 202.3M383.9 196.7A70.6 70.6 0 0 1 385.1 197.2M387 198.1A70.6 70.6 0 0 1 388.2 198.6M388.1 198.6A70.6 70.6 0 0 1 389.3 199.2M391.2 200.2A70.6 70.6 0 0 1 392.3 200.8M396.9 203.6A70.6 70.6 0 0 1 398 204.4M397.9 204.3A70.6 70.6 0 0 1 399 205.1M407.8 212.8A70.6 70.6 0 0 1 408.7 213.7"/>
<path stroke="#c8e6ec" d="M422.7 288.6A70.6 70.6 0 0 1 422.2 289.8M421.5 291.5A70.6 70.6 0 0 1 420.9 292.8M394.3 322.2A70.6 70.6 0 0 1 393.2 322.9M326 325.4A70.6 70.6 0 0 1 324.8 324.8M292.4 289.8A70.6 70.6 0 0 1 291.8 288.6M297.2 225A70.6 70.6 0 0 1 297.9 223.9M392.2 200.7A70.6 70.6 0 0 1 393.3 201.4"/>
<path stroke="#d0eaef" d="M422.3 289.7A70.6 70.6 0 0 1 421.8 290.9M420.4 293.7A70.6 70.6 0 0 1 419.8 294.9M374.3 330.6A70.6 70.6 0 0 1 373 330.9M330 327.2A70.6 70.6 0 0 1 328.8 326.7M328.9 326.7A70.6 70.6 0 0 1 327.7 326.2M327.8 326.3A70.6 70.6 0 0 1 326.6 325.7M323.8 324.3A70.6 70.6 0 0 1 322.6 323.6M312.2 316.4A70.6 70.6 0 0 1 311.1 315.5M291.9 288.7A70.6 70.6 0 0 1 291.4 287.4M296.6 226A70.6 70.6 0 0 1 297.3 224.9M297.9 224A70.6 70.6 0 0 1 298.6 222.9M302.7 217.4A70.6 70.6 0 0 1 303.5 216.3M304.2 215.6A70.6 70.6 0 0 1 305.1 214.6M305 214.7A70.6 70.6 0 0 1 305.9 213.7M306.4 213.2A70.6 70.6 0 0 1 307.3 212.3M307.2 212.4A70.6 70.6 0 0 1 308.1 211.4M324.7 199.5A70.6 70.6 0 0 1 325.9 198.9M325.7 198.9A70.6 70.6 0 0 1 326.9 198.4M390.2 199.6A70.6 70.6 0 0 1 391.3 200.2M393.2 201.3A70.6 70.6 0 0 1 394.3 202M394.2 201.9A70.6 70.6 0 0 1 395.3 202.6M395.9 203A70.6 70.6 0 0 1 397 203.7M398.8 205A70.6 70.6 0 0 1 399.9 205.8"/>
</g>
<path d="M458.45 262.81A101.15 101.15 0 1 1 457.98 252.41" fill="none" stroke="#3c3c3c" stroke-width="1.7"/>
<path d="M454.35 262.78A97.05 97.05 0 1 1 453.9 252.8" fill="none" stroke="#3c3c3c" stroke-width="1.85"/>
<path d="M450.25 262.75A92.95 92.95 0 1 1 449.82 253.19" fill="none" stroke="#3c3c3c" stroke-width="1.85"/>
<path d="M446.15 262.72A88.85 88.85 0 1 1 445.74 253.58" fill="none" stroke="#3c3c3c" stroke-width="1.85"/>
<path d="M442.05 262.69A84.75 84.75 0 1 1 441.66 253.98" fill="none" stroke="#3c3c3c" stroke-width="2"/>
<path d="M438 262.66A80.7 80.7 0 1 1 437.63 254.37" fill="none" stroke="#3c3c3c" stroke-width="1.85"/>
<path d="M433.95 262.64A76.65 76.65 0 1 1 433.6 254.75" fill="none" stroke="#3c3c3c" stroke-width="1.85"/>
<path d="M429.85 262.61A72.55 72.55 0 1 1 429.52 255.15" fill="none" stroke="#3c3c3c" stroke-width="1.85"/>
<path d="M425.9 262.58A68.6 68.6 0 1 1 425.58 255.52" fill="none" stroke="#3c3c3c" stroke-width="1.6"/>
<path d="M408.5 262.46A51.2 51.2 0 1 1 408.26 257.19" fill="none" stroke="#3c3c3c" stroke-width="1"/>
<path d="M462.69 263.66A105.4 105.4 0 0 1 458.84 290.36L456.43 289.69A102.9 102.9 0 0 0 460.19 263.63Z" fill="#fff" stroke="#222" stroke-width="0.85"/>
<path d="M458.39 291.95A105.4 105.4 0 0 1 453.7 304.72L451.41 303.71A102.9 102.9 0 0 0 455.99 291.24Z" fill="#fff" stroke="#222" stroke-width="0.85"/>
<path d="M453.02 306.23A105.4 105.4 0 0 1 443.37 322.93L441.33 321.49A102.9 102.9 0 0 0 450.75 305.18Z" fill="#fff" stroke="#222" stroke-width="0.85"/>
<path d="M442.41 324.28A105.4 105.4 0 0 1 426.38 341.71L424.74 339.82A102.9 102.9 0 0 0 440.39 322.8Z" fill="#fff" stroke="#222" stroke-width="0.85"/>
<path d="M425.12 342.78A105.4 105.4 0 0 1 403.59 356.79L402.49 354.55A102.9 102.9 0 0 0 423.51 340.87Z" fill="#fff" stroke="#222" stroke-width="0.85"/>
<path d="M402.09 357.51A105.4 105.4 0 0 1 381.1 364.78L380.53 362.34A102.9 102.9 0 0 0 401.03 355.24Z" fill="#fff" stroke="#222" stroke-width="0.85"/>
<path d="M379.48 365.14A105.4 105.4 0 0 1 360.52 367.45L360.44 364.95A102.9 102.9 0 0 0 378.96 362.7Z" fill="#fff" stroke="#222" stroke-width="0.85"/>
<path d="M358.86 367.49A105.4 105.4 0 0 1 336.74 365.47L337.23 363.02A102.9 102.9 0 0 0 358.83 364.99Z" fill="#fff" stroke="#222" stroke-width="0.85"/>
<path d="M335.12 365.14A105.4 105.4 0 0 1 311.84 357.19L312.92 354.94A102.9 102.9 0 0 0 335.64 362.7Z" fill="#fff" stroke="#222" stroke-width="0.85"/>
<path d="M310.35 356.47A105.4 105.4 0 0 1 291.04 344.07L292.61 342.12A102.9 102.9 0 0 0 311.47 354.23Z" fill="#fff" stroke="#222" stroke-width="0.85"/>
<path d="M289.76 343.02A105.4 105.4 0 0 1 270.7 322.18L272.75 320.75A102.9 102.9 0 0 0 291.36 341.1Z" fill="#fff" stroke="#222" stroke-width="0.85"/>
<path d="M269.77 320.81A105.4 105.4 0 0 1 259.07 300.3L261.4 299.39A102.9 102.9 0 0 0 271.84 319.42Z" fill="#fff" stroke="#222" stroke-width="0.85"/>
<path d="M258.48 298.75A105.4 105.4 0 0 1 252.84 276.13L255.32 275.8A102.9 102.9 0 0 0 260.82 297.88Z" fill="#fff" stroke="#222" stroke-width="0.85"/>
<path d="M252.63 274.49A105.4 105.4 0 0 1 252.16 254.66L254.66 254.83A102.9 102.9 0 0 0 255.11 274.19Z" fill="#fff" stroke="#222" stroke-width="0.85"/>
<path d="M252.29 253.01A105.4 105.4 0 0 1 257.73 227.52L260.09 228.34A102.9 102.9 0 0 0 254.78 253.22Z" fill="#fff" stroke="#222" stroke-width="0.85"/>
<path d="M258.29 225.96A105.4 105.4 0 0 1 265.97 209.48L268.14 210.73A102.9 102.9 0 0 0 260.64 226.82Z" fill="#fff" stroke="#222" stroke-width="0.85"/>
<path d="M266.81 208.05A105.4 105.4 0 0 1 280.28 190.15L282.1 191.86A102.9 102.9 0 0 0 268.96 209.33Z" fill="#fff" stroke="#222" stroke-width="0.85"/>
<path d="M281.42 188.95A105.4 105.4 0 0 1 298.44 174.67L299.83 176.74A102.9 102.9 0 0 0 283.22 190.68Z" fill="#fff" stroke="#222" stroke-width="0.85"/>
<path d="M299.82 173.75A105.4 105.4 0 0 1 317.9 164.34L318.84 166.66A102.9 102.9 0 0 0 301.18 175.85Z" fill="#fff" stroke="#222" stroke-width="0.85"/>
<path d="M319.44 163.73A105.4 105.4 0 0 1 337.1 158.65L337.58 161.11A102.9 102.9 0 0 0 320.34 166.07Z" fill="#fff" stroke="#222" stroke-width="0.85"/>
<path d="M338.73 158.35A105.4 105.4 0 0 1 358.68 156.71L358.65 159.21A102.9 102.9 0 0 0 339.17 160.81Z" fill="#fff" stroke="#222" stroke-width="0.85"/>
<path d="M360.33 156.74A105.4 105.4 0 0 1 385.73 160.61L385.06 163.01A102.9 102.9 0 0 0 360.26 159.24Z" fill="#fff" stroke="#222" stroke-width="0.85"/>
<path d="M387.32 161.07A105.4 105.4 0 0 1 413.7 173.06L412.36 175.17A102.9 102.9 0 0 0 386.61 163.46Z" fill="#fff" stroke="#222" stroke-width="0.85"/>
<path d="M415.09 173.96A105.4 105.4 0 0 1 433.82 189.61L432 191.33A102.9 102.9 0 0 0 413.72 176.05Z" fill="#fff" stroke="#222" stroke-width="0.85"/>
<path d="M434.95 190.83A105.4 105.4 0 0 1 445.85 204.93L443.75 206.28A102.9 102.9 0 0 0 433.11 192.52Z" fill="#fff" stroke="#222" stroke-width="0.85"/>
<path d="M446.73 206.32A105.4 105.4 0 0 1 454.14 220.49L451.84 221.48A102.9 102.9 0 0 0 444.61 207.65Z" fill="#fff" stroke="#222" stroke-width="0.85"/>
<path d="M454.78 222.02A105.4 105.4 0 0 1 459.04 234.55L456.62 235.21A102.9 102.9 0 0 0 452.47 222.97Z" fill="#fff" stroke="#222" stroke-width="0.85"/>
<path d="M459.46 236.16A105.4 105.4 0 0 1 462.13 251.17L459.65 251.43A102.9 102.9 0 0 0 457.03 236.77Z" fill="#fff" stroke="#222" stroke-width="0.85"/>
<path d="M425.9 262.58L459.1 262.81M423.24 281.01L455.16 290.16M419.82 290.33L450.08 303.99M413.01 302.13L439.97 321.5M401.85 314.26L423.41 339.51M386.94 323.97L401.29 353.91M372.26 329.05L379.51 361.45M358.86 330.68L359.61 363.87M343.39 329.27L336.66 361.78M327.23 323.76L312.67 353.6M313.76 315.11L292.68 340.76M300.63 300.76L273.2 319.47M293.17 286.46L262.13 298.25M289.24 270.7L256.3 274.86M288.91 256.72L255.81 254.11M292.67 239.09L261.4 227.95M298.13 227.39L269.5 210.59M307.54 214.88L283.46 192.03M319.44 204.9L301.11 177.21M332.16 198.27L319.99 167.38M344.68 194.67L338.57 162.04M358.74 193.52L359.43 160.32M376.32 196.19L385.53 164.29M394.46 204.44L412.45 176.53M407.47 215.31L431.75 192.67M415.22 225.34L443.25 207.55M420.54 235.52L451.15 222.65M423.65 244.69L455.77 236.27M425.58 255.52L458.63 252.34" stroke="#585858" stroke-width="1.6" fill="none"/>
<path d="M408.3 262.46L426.1 262.58M406.32 276.16L423.43 281.06M403.78 283.09L420 290.41M398.72 291.86L413.17 302.25M390.42 300.88L401.98 314.42M379.34 308.09L387.03 324.15M368.43 311.87L372.31 329.24M358.46 313.09L358.86 330.88M346.96 312.04L343.35 329.47M334.94 307.94L327.14 323.94M324.93 301.51L313.63 315.26M315.17 290.84L300.46 300.87M309.62 280.21L292.98 286.53M306.7 268.49L289.04 270.72M306.46 258.1L288.71 256.7M309.26 244.99L292.49 239.02M313.31 236.29L297.96 227.28M320.31 226.99L307.39 214.74M329.15 219.57L319.33 204.73M338.61 214.65L332.08 198.09M347.92 211.97L344.64 194.47M358.37 211.11L358.74 193.32M371.44 213.1L376.38 196M384.93 219.23L394.57 204.27M394.6 227.32L407.62 215.18M400.36 234.77L415.39 225.24M404.32 242.34L420.72 235.44M406.63 249.16L423.85 244.64M408.07 257.21L425.78 255.51" stroke="#383838" stroke-width="1.4" fill="none"/>
<path d="M463.08 264.13L464.48 264.16M462.02 277.19L463.4 277.39M459.35 290.02L460.7 290.39M458.64 292.5L459.98 292.91M456.62 298.55L457.94 299.03M454.25 304.46L455.53 305.02M453.19 306.81L454.46 307.4M448.93 315L450.14 315.7M443.97 322.78L445.11 323.59M442.46 324.88L443.58 325.71M435.18 333.71L436.21 334.66M426.99 341.71L427.91 342.76M425.02 343.38L425.92 344.46M415 350.78L415.76 351.95M404.18 356.95L404.8 358.2M401.85 358.07L402.44 359.34M391.92 362.08L392.38 363.4M381.64 365.06L381.96 366.42M379.12 365.63L379.41 367M370.1 367.12L370.27 368.51M360.99 367.84L361.04 369.23M358.41 367.89L358.42 369.29M347.71 367.46L347.58 368.86M337.11 365.96L336.85 367.33M334.58 365.43L334.28 366.8M323.12 362.23L322.66 363.55M312.09 357.75L311.49 359.02M309.76 356.62L309.13 357.87M300.14 351.13L299.39 352.31M291.15 344.67L290.27 345.76M289.15 343.03L288.25 344.1M279.23 333.51L278.2 334.45M270.63 322.78L269.49 323.59M269.18 320.65L268.01 321.42M263.5 311.03L262.26 311.68M258.86 300.88L257.56 301.39M257.94 298.46L256.63 298.94M254.64 287.7L253.28 288.03M252.5 276.64L251.12 276.83M252.18 274.08L250.79 274.24M251.53 264.59L250.13 264.63M251.73 255.09L250.34 255M251.94 252.51L250.54 252.38M253.83 240.01L252.46 239.72M257.2 227.83L255.88 227.38M258.07 225.39L256.76 224.91M261.41 217.39L260.14 216.8M265.4 209.68L264.18 208.99M266.71 207.45L265.51 206.73M272.75 198.5L271.63 197.66M279.67 190.22L278.64 189.26M281.45 188.34L280.45 187.36M289.29 181.05L288.39 179.98M297.83 174.59L297.04 173.44M299.99 173.17L299.23 171.99M308.45 168.25L307.8 167.01M317.32 164.14L316.8 162.85M319.73 163.2L319.23 161.89M328.05 160.42L327.66 159.08M336.57 158.35L336.29 156.98M339.11 157.88L338.87 156.5M348.63 156.66L348.52 155.26M358.22 156.3L358.24 154.9M360.81 156.36L360.85 154.96M373.21 157.5L373.42 156.12M385.4 160.1L385.77 158.75M387.88 160.82L388.28 159.48M401.09 165.79L401.67 164.51M413.52 172.47L414.27 171.29M415.69 173.87L416.47 172.71M425.17 180.93L426.06 179.86M433.79 189L434.8 188.04M435.55 190.9L436.59 189.95M441.01 197.4L442.12 196.54M445.93 204.32L447.1 203.56M447.32 206.51L448.51 205.77M451.06 213.08L452.3 212.43M454.32 219.91L455.61 219.35M455.33 222.3L456.62 221.77M457.49 228.09L458.81 227.64M459.3 234L460.65 233.63M459.96 236.5L461.32 236.17M461.46 243.55L462.84 243.3M462.48 250.67L463.87 250.52" stroke="#555" stroke-width="0.4" fill="none"/>
<text transform="translate(465.88,264.18) rotate(-88.9) scale(0.1)" font-size="22" text-anchor="middle" fill="#555" dy="7">0</text>
<text transform="translate(464.79,277.59) rotate(-81.8) scale(0.1)" font-size="22" text-anchor="middle" fill="#555" dy="7">5</text>
<text transform="translate(462.05,290.76) rotate(-74.7) scale(0.1)" font-size="22" text-anchor="middle" fill="#555" dy="7">10</text>
<text transform="translate(461.32,293.31) rotate(-73.3) scale(0.1)" font-size="22" text-anchor="middle" fill="#555" dy="7">0</text>
<text transform="translate(459.25,299.51) rotate(-69.85) scale(0.1)" font-size="22" text-anchor="middle" fill="#555" dy="7">5</text>
<text transform="translate(456.82,305.58) rotate(-66.4) scale(0.1)" font-size="22" text-anchor="middle" fill="#555" dy="7">10</text>
<text transform="translate(455.73,308) rotate(-65) scale(0.1)" font-size="22" text-anchor="middle" fill="#555" dy="7">0</text>
<text transform="translate(451.35,316.4) rotate(-60) scale(0.1)" font-size="22" text-anchor="middle" fill="#555" dy="7">5</text>
<text transform="translate(446.26,324.39) rotate(-55) scale(0.1)" font-size="22" text-anchor="middle" fill="#555" dy="7">10</text>
<text transform="translate(444.71,326.55) rotate(-53.6) scale(0.1)" font-size="22" text-anchor="middle" fill="#555" dy="7">0</text>
<text transform="translate(437.24,335.61) rotate(-47.4) scale(0.1)" font-size="22" text-anchor="middle" fill="#555" dy="7">5</text>
<text transform="translate(428.83,343.81) rotate(-41.2) scale(0.1)" font-size="22" text-anchor="middle" fill="#555" dy="7">10</text>
<text transform="translate(426.82,345.54) rotate(-39.8) scale(0.1)" font-size="22" text-anchor="middle" fill="#555" dy="7">0</text>
<text transform="translate(416.53,353.13) rotate(-33.05) scale(0.1)" font-size="22" text-anchor="middle" fill="#555" dy="7">5</text>
<text transform="translate(405.42,359.46) rotate(-26.3) scale(0.1)" font-size="22" text-anchor="middle" fill="#555" dy="7">10</text>
<text transform="translate(403.02,360.6) rotate(-24.9) scale(0.1)" font-size="22" text-anchor="middle" fill="#555" dy="7">0</text>
<text transform="translate(392.84,364.72) rotate(-19.1) scale(0.1)" font-size="22" text-anchor="middle" fill="#555" dy="7">5</text>
<text transform="translate(382.28,367.79) rotate(-13.3) scale(0.1)" font-size="22" text-anchor="middle" fill="#555" dy="7">10</text>
<text transform="translate(379.69,368.37) rotate(-11.9) scale(0.1)" font-size="22" text-anchor="middle" fill="#555" dy="7">0</text>
<text transform="translate(370.44,369.9) rotate(-6.95) scale(0.1)" font-size="22" text-anchor="middle" fill="#555" dy="7">5</text>
<text transform="translate(361.09,370.63) rotate(-2) scale(0.1)" font-size="22" text-anchor="middle" fill="#555" dy="7">10</text>
<text transform="translate(358.44,370.69) rotate(-0.6) scale(0.1)" font-size="22" text-anchor="middle" fill="#555" dy="7">0</text>
<text transform="translate(347.46,370.25) rotate(5.2) scale(0.1)" font-size="22" text-anchor="middle" fill="#555" dy="7">5</text>
<text transform="translate(336.58,368.7) rotate(11) scale(0.1)" font-size="22" text-anchor="middle" fill="#555" dy="7">10</text>
<text transform="translate(333.98,368.17) rotate(12.4) scale(0.1)" font-size="22" text-anchor="middle" fill="#555" dy="7">0</text>
<text transform="translate(322.21,364.88) rotate(18.85) scale(0.1)" font-size="22" text-anchor="middle" fill="#555" dy="7">5</text>
<text transform="translate(310.89,360.28) rotate(25.3) scale(0.1)" font-size="22" text-anchor="middle" fill="#555" dy="7">10</text>
<text transform="translate(308.5,359.12) rotate(26.7) scale(0.1)" font-size="22" text-anchor="middle" fill="#555" dy="7">0</text>
<text transform="translate(298.63,353.49) rotate(32.7) scale(0.1)" font-size="22" text-anchor="middle" fill="#555" dy="7">5</text>
<text transform="translate(289.4,346.85) rotate(38.7) scale(0.1)" font-size="22" text-anchor="middle" fill="#555" dy="7">10</text>
<text transform="translate(287.35,345.17) rotate(40.1) scale(0.1)" font-size="22" text-anchor="middle" fill="#555" dy="7">0</text>
<text transform="translate(277.17,335.4) rotate(47.55) scale(0.1)" font-size="22" text-anchor="middle" fill="#555" dy="7">5</text>
<text transform="translate(268.34,324.39) rotate(55) scale(0.1)" font-size="22" text-anchor="middle" fill="#555" dy="7">10</text>
<text transform="translate(266.84,322.2) rotate(56.4) scale(0.1)" font-size="22" text-anchor="middle" fill="#555" dy="7">0</text>
<text transform="translate(261.01,312.33) rotate(62.45) scale(0.1)" font-size="22" text-anchor="middle" fill="#555" dy="7">5</text>
<text transform="translate(256.26,301.9) rotate(68.5) scale(0.1)" font-size="22" text-anchor="middle" fill="#555" dy="7">10</text>
<text transform="translate(255.31,299.42) rotate(69.9) scale(0.1)" font-size="22" text-anchor="middle" fill="#555" dy="7">0</text>
<text transform="translate(251.93,288.37) rotate(76) scale(0.1)" font-size="22" text-anchor="middle" fill="#555" dy="7">5</text>
<text transform="translate(249.73,277.03) rotate(82.1) scale(0.1)" font-size="22" text-anchor="middle" fill="#555" dy="7">10</text>
<text transform="translate(249.4,274.39) rotate(83.5) scale(0.1)" font-size="22" text-anchor="middle" fill="#555" dy="7">0</text>
<text transform="translate(248.73,264.66) rotate(88.65) scale(0.1)" font-size="22" text-anchor="middle" fill="#555" dy="7">5</text>
<text transform="translate(248.94,254.9) rotate(273.8) scale(0.1)" font-size="22" text-anchor="middle" fill="#555" dy="7">10</text>
<text transform="translate(249.15,252.26) rotate(275.2) scale(0.1)" font-size="22" text-anchor="middle" fill="#555" dy="7">0</text>
<text transform="translate(251.09,239.43) rotate(282.05) scale(0.1)" font-size="22" text-anchor="middle" fill="#555" dy="7">5</text>
<text transform="translate(254.56,226.92) rotate(288.9) scale(0.1)" font-size="22" text-anchor="middle" fill="#555" dy="7">10</text>
<text transform="translate(255.45,224.42) rotate(290.3) scale(0.1)" font-size="22" text-anchor="middle" fill="#555" dy="7">0</text>
<text transform="translate(258.87,216.2) rotate(295) scale(0.1)" font-size="22" text-anchor="middle" fill="#555" dy="7">5</text>
<text transform="translate(262.97,208.29) rotate(299.7) scale(0.1)" font-size="22" text-anchor="middle" fill="#555" dy="7">10</text>
<text transform="translate(264.31,206) rotate(301.1) scale(0.1)" font-size="22" text-anchor="middle" fill="#555" dy="7">0</text>
<text transform="translate(270.51,196.82) rotate(306.95) scale(0.1)" font-size="22" text-anchor="middle" fill="#555" dy="7">5</text>
<text transform="translate(277.62,188.31) rotate(312.8) scale(0.1)" font-size="22" text-anchor="middle" fill="#555" dy="7">10</text>
<text transform="translate(279.44,186.39) rotate(314.2) scale(0.1)" font-size="22" text-anchor="middle" fill="#555" dy="7">0</text>
<text transform="translate(287.49,178.91) rotate(320) scale(0.1)" font-size="22" text-anchor="middle" fill="#555" dy="7">5</text>
<text transform="translate(296.26,172.28) rotate(325.8) scale(0.1)" font-size="22" text-anchor="middle" fill="#555" dy="7">10</text>
<text transform="translate(298.47,170.81) rotate(327.2) scale(0.1)" font-size="22" text-anchor="middle" fill="#555" dy="7">0</text>
<text transform="translate(307.15,165.77) rotate(332.5) scale(0.1)" font-size="22" text-anchor="middle" fill="#555" dy="7">5</text>
<text transform="translate(316.27,161.55) rotate(337.8) scale(0.1)" font-size="22" text-anchor="middle" fill="#555" dy="7">10</text>
<text transform="translate(318.74,160.58) rotate(339.2) scale(0.1)" font-size="22" text-anchor="middle" fill="#555" dy="7">0</text>
<text transform="translate(327.27,157.73) rotate(343.95) scale(0.1)" font-size="22" text-anchor="middle" fill="#555" dy="7">5</text>
<text transform="translate(336.02,155.61) rotate(348.7) scale(0.1)" font-size="22" text-anchor="middle" fill="#555" dy="7">10</text>
<text transform="translate(338.63,155.12) rotate(350.1) scale(0.1)" font-size="22" text-anchor="middle" fill="#555" dy="7">0</text>
<text transform="translate(348.4,153.87) rotate(355.3) scale(0.1)" font-size="22" text-anchor="middle" fill="#555" dy="7">5</text>
<text transform="translate(358.25,153.5) rotate(360.5) scale(0.1)" font-size="22" text-anchor="middle" fill="#555" dy="7">10</text>
<text transform="translate(360.9,153.56) rotate(361.9) scale(0.1)" font-size="22" text-anchor="middle" fill="#555" dy="7">0</text>
<text transform="translate(373.63,154.74) rotate(368.65) scale(0.1)" font-size="22" text-anchor="middle" fill="#555" dy="7">5</text>
<text transform="translate(386.14,157.4) rotate(375.4) scale(0.1)" font-size="22" text-anchor="middle" fill="#555" dy="7">10</text>
<text transform="translate(388.69,158.14) rotate(376.8) scale(0.1)" font-size="22" text-anchor="middle" fill="#555" dy="7">0</text>
<text transform="translate(402.25,163.24) rotate(384.45) scale(0.1)" font-size="22" text-anchor="middle" fill="#555" dy="7">5</text>
<text transform="translate(415.01,170.1) rotate(392.1) scale(0.1)" font-size="22" text-anchor="middle" fill="#555" dy="7">10</text>
<text transform="translate(417.24,171.54) rotate(393.5) scale(0.1)" font-size="22" text-anchor="middle" fill="#555" dy="7">0</text>
<text transform="translate(426.96,178.79) rotate(399.9) scale(0.1)" font-size="22" text-anchor="middle" fill="#555" dy="7">5</text>
<text transform="translate(435.81,187.07) rotate(406.3) scale(0.1)" font-size="22" text-anchor="middle" fill="#555" dy="7">10</text>
<text transform="translate(437.62,189.01) rotate(407.7) scale(0.1)" font-size="22" text-anchor="middle" fill="#555" dy="7">0</text>
<text transform="translate(443.23,195.69) rotate(412.3) scale(0.1)" font-size="22" text-anchor="middle" fill="#555" dy="7">5</text>
<text transform="translate(448.28,202.79) rotate(416.9) scale(0.1)" font-size="22" text-anchor="middle" fill="#555" dy="7">10</text>
<text transform="translate(449.7,205.03) rotate(418.3) scale(0.1)" font-size="22" text-anchor="middle" fill="#555" dy="7">0</text>
<text transform="translate(453.54,211.79) rotate(422.4) scale(0.1)" font-size="22" text-anchor="middle" fill="#555" dy="7">5</text>
<text transform="translate(456.89,218.8) rotate(426.5) scale(0.1)" font-size="22" text-anchor="middle" fill="#555" dy="7">10</text>
<text transform="translate(457.92,221.24) rotate(427.9) scale(0.1)" font-size="22" text-anchor="middle" fill="#555" dy="7">0</text>
<text transform="translate(460.14,227.19) rotate(431.25) scale(0.1)" font-size="22" text-anchor="middle" fill="#555" dy="7">5</text>
<text transform="translate(462,233.26) rotate(434.6) scale(0.1)" font-size="22" text-anchor="middle" fill="#555" dy="7">10</text>
<text transform="translate(462.67,235.83) rotate(436) scale(0.1)" font-size="22" text-anchor="middle" fill="#555" dy="7">0</text>
<text transform="translate(464.22,243.06) rotate(439.9) scale(0.1)" font-size="22" text-anchor="middle" fill="#555" dy="7">5</text>
<text transform="translate(465.26,250.37) rotate(443.8) scale(0.1)" font-size="22" text-anchor="middle" fill="#555" dy="7">10</text>
<text class="b" transform="translate(471.62,278.57) rotate(-81.8)" font-size="4.6" text-anchor="middle" dy="1.55" fill="#000" stroke="#000" stroke-width="0.18">Chr1</text>
<text class="b" transform="translate(465.83,301.92) rotate(-69.85)" font-size="4.6" text-anchor="middle" dy="1.55" fill="#000" stroke="#000" stroke-width="0.18">Chr2</text>
<text class="b" transform="translate(457.45,319.92) rotate(-60)" font-size="4.6" text-anchor="middle" dy="1.55" fill="#000" stroke="#000" stroke-width="0.18">Chr3</text>
<text class="b" transform="translate(442.41,340.36) rotate(-47.4)" font-size="4.6" text-anchor="middle" dy="1.55" fill="#000" stroke="#000" stroke-width="0.18">Chr4</text>
<text class="b" transform="translate(420.3,358.93) rotate(-33.05)" font-size="4.6" text-anchor="middle" dy="1.55" fill="#000" stroke="#000" stroke-width="0.18">Chr5</text>
<text class="b" transform="translate(395.04,371.1) rotate(-19.1)" font-size="4.6" text-anchor="middle" dy="1.55" fill="#000" stroke="#000" stroke-width="0.18">Chr6</text>
<text class="b" transform="translate(371.23,376.39) rotate(-6.95)" font-size="4.6" text-anchor="middle" dy="1.55" fill="#000" stroke="#000" stroke-width="0.18">Chr7</text>
<text class="b" transform="translate(346.89,376.52) rotate(5.2)" font-size="4.6" text-anchor="middle" dy="1.55" fill="#000" stroke="#000" stroke-width="0.18">Chr8</text>
<text class="b" transform="translate(320.28,370.52) rotate(18.85)" font-size="4.6" text-anchor="middle" dy="1.55" fill="#000" stroke="#000" stroke-width="0.18">Chr9</text>
<text class="b" transform="translate(295.59,358.22) rotate(32.7)" font-size="4.6" text-anchor="middle" dy="1.55" fill="#000" stroke="#000" stroke-width="0.18">Chr10</text>
<text class="b" transform="translate(273.29,338.95) rotate(47.55)" font-size="4.6" text-anchor="middle" dy="1.55" fill="#000" stroke="#000" stroke-width="0.18">Chr11</text>
<text class="b" transform="translate(256.66,314.6) rotate(62.45)" font-size="4.6" text-anchor="middle" dy="1.55" fill="#000" stroke="#000" stroke-width="0.18">Chr12</text>
<text class="b" transform="translate(247.43,289.49) rotate(76)" font-size="4.6" text-anchor="middle" dy="1.55" fill="#000" stroke="#000" stroke-width="0.18">Chr13</text>
<text class="b" transform="translate(244.31,264.76) rotate(88.65)" font-size="4.6" text-anchor="middle" dy="1.55" fill="#000" stroke="#000" stroke-width="0.18">Chr14</text>
<text class="b" transform="translate(246.93,238.54) rotate(282.05)" font-size="4.6" text-anchor="middle" dy="1.55" fill="#000" stroke="#000" stroke-width="0.18">Chr15</text>
<text class="b" transform="translate(255.09,214.44) rotate(295)" font-size="4.6" text-anchor="middle" dy="1.55" fill="#000" stroke="#000" stroke-width="0.18">Chr16</text>
<text class="b" transform="translate(267.19,194.32) rotate(306.95)" font-size="4.6" text-anchor="middle" dy="1.55" fill="#000" stroke="#000" stroke-width="0.18">Chr17</text>
<text class="b" transform="translate(284.78,175.68) rotate(320)" font-size="4.6" text-anchor="middle" dy="1.55" fill="#000" stroke="#000" stroke-width="0.18">Chr18</text>
<text class="b" transform="translate(305.15,161.92) rotate(332.5)" font-size="4.6" text-anchor="middle" dy="1.55" fill="#000" stroke="#000" stroke-width="0.18">Chr19</text>
<text class="b" transform="translate(326.03,153.41) rotate(343.95)" font-size="4.6" text-anchor="middle" dy="1.55" fill="#000" stroke="#000" stroke-width="0.18">Chr20</text>
<text class="b" transform="translate(348.02,149.18) rotate(355.3)" font-size="4.6" text-anchor="middle" dy="1.55" fill="#000" stroke="#000" stroke-width="0.18">Chr21</text>
<text class="b" transform="translate(374.38,149.8) rotate(368.65)" font-size="4.6" text-anchor="middle" dy="1.55" fill="#000" stroke="#000" stroke-width="0.18">Chr22</text>
<text class="b" transform="translate(404.47,158.35) rotate(384.45)" font-size="4.6" text-anchor="middle" dy="1.55" fill="#000" stroke="#000" stroke-width="0.18">Chr23</text>
<text class="b" transform="translate(430.65,174.37) rotate(399.9)" font-size="4.6" text-anchor="middle" dy="1.55" fill="#000" stroke="#000" stroke-width="0.18">Chr24</text>
<text class="b" transform="translate(448.02,191.98) rotate(412.3)" font-size="4.6" text-anchor="middle" dy="1.55" fill="#000" stroke="#000" stroke-width="0.18">Chr25</text>
<text class="b" transform="translate(459.12,208.87) rotate(422.4)" font-size="4.6" text-anchor="middle" dy="1.55" fill="#000" stroke="#000" stroke-width="0.18">Chr26</text>
<text class="b" transform="translate(466.27,225.11) rotate(431.25)" font-size="4.6" text-anchor="middle" dy="1.55" fill="#000" stroke="#000" stroke-width="0.18">Chr27</text>
<text class="b" transform="translate(470.76,241.89) rotate(439.9)" font-size="4.6" text-anchor="middle" dy="1.55" fill="#000" stroke="#000" stroke-width="0.18">Chr28</text>
<path d="M415.42 263.32L414.24 263.79L413.55 264.26L414.31 264.79L412.23 265.17L413.99 265.77L413.09 266.2L415.07 266.85L412.84 267.15L412.86 267.65L412.41 268.09L413.31 268.68L412.33 269.05L412.15 269.52L412.76 270.09L414.12 270.79L413.09 271.14L414.01 271.79L412.76 272.08L412.08 272.45L412.91 273.11L412.33 273.5L411.41 273.8L412.05 274.44L412.27 274.99L411.32 275.27L411.63 275.85L415.36 277.33L413.78 277.44M410.55 278.18L411.5 279L410.37 279.17L410.31 279.68L411.8 280.72L411.33 281.1L411.01 281.54L408.9 281.3L409.4 282.02L411 283.19L409.57 283.17L411.12 284.36L412.55 285.53L408.45 284.34M407.38 285.56L407.9 286.36L407.5 286.72L406.97 287.03L409.11 288.68L407.97 288.68L406.5 288.48L411.05 291.54L406.25 289.49L406.26 290.07L405.45 290.19L406.31 291.28L405.7 291.51L406.48 292.6L404.19 291.77L404.9 292.82L404.73 293.32L405.41 294.39L402.72 293.18L402.38 293.55M401.82 295.05L403.26 296.75L401.64 296.14L402.39 297.36L402.07 297.75L401.02 297.56L401.36 298.48L399.67 297.72L400.04 298.69L399.67 299.03L399.77 299.78L400.06 300.72L398.54 300.02L399.53 301.63L398.93 301.77L398.63 302.19L396.65 300.95L396.26 301.25L396.44 302.14L396.59 303.02L396.62 303.78L396.46 304.35L394.99 303.49L395.62 304.95L394.37 304.29M392.7 304.74L392.98 305.87L392.33 305.86L392.3 306.64L392.67 307.94L391.87 307.74L391.8 308.51L390.77 307.97L389.81 307.49L390.43 309.25L388.63 307.54L391.87 313.21L388.64 309.35L388.24 309.65L387.85 309.98L388.07 311.3L386.24 309.3L386.7 311.02L386.35 311.44L385.87 311.62L385.61 312.2L384.76 311.72L383.7 310.84L384.45 313.31L383.21 312.03L382.58 311.9L382.89 313.66M380.76 312.88L380.56 313.65L379.92 313.48L379.89 314.68L379.25 314.5L378.73 314.59L377.6 313.14L378.01 315.56L377.68 316.18L376.59 314.72L376.67 316.45L376.37 317.17L374.84 314.28L374.4 314.54L374.18 315.49L373.82 316.05L373.78 317.7L372.95 316.7L372.23 316.02L371.77 316.28L371.8 318.41L371.18 318.11L370.12 315.91M368.61 316.26L368.7 319.23L368.18 319.23L367.61 319.01L366.64 316.4L366.29 317.3L365.93 318.25L365.3 317.44L364.99 318.82L364.39 318.16L364.12 320.24L363.44 318.76L363.02 319.64L362.5 319.67L361.89 318.47L361.33 317.78L360.99 320.23L360.29 316.94L359.85 318.13L359.33 317.34M357.79 318.15L357.28 318.12L356.78 317.6L356.25 318.99L355.79 317.19L355.21 319.45L354.66 320.12L354.24 318.19L353.69 318.7L352.97 321.57L352.75 317.71L352.21 318L351.51 319.89L351.01 319.64L350.22 321.91L349.94 319.74L349.69 317.73L349.25 317.22L348.53 318.54L347.88 319.36L347.49 318.52L347.32 316.58L346.28 319.34M345.08 317.22L344.2 318.8L344.05 317.24L343.57 317.07L342.9 317.65L342.31 317.89L342.07 316.82L341.93 315.51L341.62 314.8L340.61 316.45L339.77 317.42L340.06 314.89L339.15 316.04L339.33 313.99L338.06 316.1L338.12 314.47L336.93 316.22L336.07 317.02L336.3 315.02L336.58 313.01L335.84 313.51L334.39 315.64L335.15 312.61L334.66 312.52L333.74 313.34L333.46 312.77M331.82 312.55L331.48 312.09L331.16 311.63L330.94 310.97L329.78 312.05L328.85 312.67L328.69 311.9L328.89 310.54L328.03 310.99L327.84 310.32L327.03 310.67L327.08 309.65L326.58 309.49L325.34 310.44L325.56 309.19L325.78 307.97L324.36 309.12L324.04 308.69L324.22 307.57L323.72 307.4L322.44 308.26L323.11 306.54L323.3 305.49L322.04 306.27M320.48 305.67L318.92 306.72L321.05 303.49L320.7 303.15L318.96 304.35L318.07 304.56L317.45 304.47L317.88 303.28L318.36 302.06L318.63 301.09L317.52 301.5L315.13 303.15L316.12 301.47L317.02 299.94L315.98 300.23L315.57 299.94L313.79 300.85L313.63 300.3L313.86 299.43L315.26 297.59L313.28 298.6L313.9 297.44L311.98 298.34L314.07 296.05L309.76 298.76L311.08 297.09L313.23 294.86L312.64 294.68L310.43 295.67L310.18 295.22M311.48 292.43L308.85 293.55L309.5 292.51L308.24 292.69L306.14 293.37L308.99 291.03L307.6 291.26L306.79 291.12L306.7 290.56L308.97 288.72L308.3 288.51L307.71 288.25L308.33 287.37L307.9 287.03L306.55 287.13L306.25 286.71L306.6 285.98L305.13 286.1L304.47 285.83L304.38 285.3L305.03 284.45L304.85 283.97L306.13 282.89L302.8 283.68M303.37 281.73L304.89 280.66L302.74 280.89L304.5 279.77L303.81 279.48L304.46 278.76L302.74 278.78L304.1 277.86L300.69 278.33L302.63 277.26L301.28 277.11L302.05 276.39L301.44 276.03L303.91 274.92L301.18 275.06L303.33 274.06L301.41 273.98L303.44 273.06L303.39 272.58L302.04 272.34L303.23 271.63L302.34 271.3L301.68 270.91L298.36 270.91L300.45 270.09M302.73 268.22L299.64 268.05L301.95 267.32L299.58 267.03L300.86 266.42L302.13 265.84L300.4 265.45L300.33 264.95L299.62 264.48L299.58 263.97L299.34 263.47L299.79 262.95L301.22 262.43L299.48 261.93L299.57 261.42L299.23 260.91L300.47 260.43L301.65 259.98L302.12 259.51L301.86 259.01L301.57 258.5M300.48 256.83L299.8 256.24L302.03 255.96L302.22 255.48L302.36 254.99L301.74 254.39L300.78 253.74L302.33 253.46L299.66 252.5L301.33 252.26L303.05 252.05L302.61 251.46L301.74 250.77L300.46 249.97L302.31 249.84L301.05 249.02L301.4 248.57L301.7 248.11L301.03 247.39L301.82 247.06L302.58 246.74L303.83 246.56L304 246.09L303.28 245.33L302.73 244.62L301.98 243.82L302.75 243.53M303.71 242.17L303.03 241.36L302.57 240.63L304.69 240.92L306.23 241L306.53 240.59L305.56 239.64L305.58 239.1L306.14 238.8L307.49 238.87L304.78 237.03L306.89 237.49L305.92 236.45L304.36 235.07L308.01 236.38L307.66 235.63L306.21 234.27L307.61 234.46L307.67 233.9M307.93 232.2L310.5 233.17L309.33 231.84L310.95 232.26L310.35 231.27L310.88 231.01L310.93 230.43L309.76 228.98L311.79 229.78L310.13 227.95L312.55 229.08L313.22 228.95L311.62 227.08L311.91 226.64L311.98 226.03L312.51 225.78L312.64 225.2L314.63 226.18L312.89 224.02L313.71 224.03L314.09 223.66L315.41 224.14L316.68 224.62M315.77 221.57L317.13 222.18L316.65 220.97L315.09 218.61L319.03 221.96L319.46 221.68L318.81 220.22L319.44 220.16L319.26 219.19L320.57 219.9L319.56 217.94L318.27 215.59L321.42 218.55L321.19 217.45L322.87 218.73L321.53 216.2L323.02 217.27L323.41 216.95L323.16 215.74L324.59 216.83L325.52 217.28L325.77 216.76L325.55 215.56M327.23 215.26L326.74 213.53L328.35 215.15L327.2 212.28L326.68 210.36L328.85 213.02L329.23 212.64L330.09 213.14L329.95 211.81L330.33 211.41L330.95 211.48L330.9 210.24L332.65 212.57L332.15 210.4L332.28 209.46L334.02 211.94L334.46 211.69L334.23 209.95L333.98 208.05L335.66 210.68L335.35 208.58M336.94 208.22L337.7 208.78L338.82 210.38L338.61 208.27L339.2 208.41L339.99 209.2L340.62 209.51L340.92 208.81L341.12 207.7L341.22 206.19L342.38 208.42L342.32 206.27L343.18 207.52L343.22 205.57L344.37 208.11L344.75 207.53L344.36 203.42L345.74 207.34L345.9 205.55M347.59 205.89L348.3 207.06L348.64 206.05L349.03 205.2L349.72 206.51L350.01 204.82L350.48 204.41L351.32 207.28L351.82 207.39L352.11 205.13L352.68 205.89L353.25 206.8L353.6 204.64L354.15 205.3L354.72 206.52L355.24 207.13L355.67 205.28L356.18 205.33L356.69 205.61L357.19 206.24L357.71 204.02M359.22 207.23L359.74 206.58L360.29 205.55L360.88 204.16L361.42 203.8L361.82 205.35L362.53 203.1L362.92 204.63L363.14 207.36L363.97 204.51L364.17 207.07L365 204.57L365.38 205.58L365.6 207.53L366.48 205.18L366.61 207.5L367.72 204.07L367.84 206.29L368.38 206.19L368.52 207.99L369.06 207.84L369.52 208.06L369.92 208.51L370.89 206.64L371.48 206.36L372.07 206.16L372.63 206.08M373.34 209.31L373.9 209.15L374.74 208.11L375.17 208.42L375.83 208.03L376.07 208.85L376.49 209.14L376.73 209.92L377.5 209.28L377.44 210.78L379.04 208.11L379.25 208.93L378.81 211.27L380.32 209.02L379.65 211.78L380.9 210.2L381.41 210.28L381.17 211.97L381.52 212.35L383.06 210.36L382.98 211.62L383.4 211.9L385.05 209.86L383.54 213.72L385.39 211.37L384.58 213.84L385.22 213.72L386.28 212.88L386.87 212.88L387.46 212.87L387.76 213.36M388.16 215.65L388.77 215.62L390.17 214.46L389.84 215.83L392.41 213.09L391.04 215.87L391.06 216.68L390.9 217.72L391.53 217.7L393.1 216.51L392.17 218.48L392.18 219.25L392.49 219.63L394.8 217.65L393.87 219.51L397.9 215.66L398.31 216.02L395.63 219.78L395.49 220.67L396.09 220.76L397.32 220.19L395.58 222.71L397.46 221.5L396.43 223.23L398.78 221.62L398.08 222.99M398.46 224.78L398.45 225.44L400.5 224.28L400.88 224.62L401.38 224.85L402.02 224.97L401.29 226.23L402.29 226.06L402.23 226.74L401.65 227.82L403.36 227.14L402.11 228.7L403.64 228.19L402.1 229.91L403.16 229.75L404.83 229.19L404.48 230.04L404.28 230.77L404.03 231.52M405.45 232.48L404.75 233.51L406.93 232.83L405.02 234.55L405.51 234.86L405.48 235.47L406.03 235.75L407.1 235.77L407.38 236.21L407.52 236.73L407.39 237.38L407.34 237.98L408.66 237.93L412.32 236.83L408.53 239.15L408.54 239.71M409.2 241.13L409.27 241.63L409.86 241.92L409.65 242.53L410.67 242.68L411.14 243.03L409.49 244.13L409.84 244.52L410.11 244.94L410.76 245.24L410.56 245.82L410.54 246.33L412.3 246.33L411.03 247.2M412.82 248.36L412.72 248.9L412.28 249.52L412.13 250.06L412.27 250.54L411.42 251.22L414.1 251.2L412.55 252.01L412.24 252.56L411.9 253.12L413.26 253.4L414.86 253.68L414.87 254.19L411.84 255.1L415.11 255.2L413.95 255.85" fill="none" stroke="#707070" stroke-width="0.7" stroke-linejoin="round"/>
<path d="M418.91 263.39L419.49 263.95L419.05 264.47L418.79 265L419.87 265.6L419.38 266.11L419.78 266.69L418.86 267.16L419.22 267.74L418.71 268.23L419.47 268.85L418.47 269.29L419.05 269.9L418.83 270.42L418.4 270.91L417.95 271.38L418.46 272.01L418.41 272.55L418.74 273.15L417.72 273.52L417.58 274.04L417.64 274.6L418.25 275.28L417.29 275.62L417.74 276.28L416.73 276.59L416.66 277.12L417.42 277.87L416.97 278.31M416.34 279.93L415.38 280.21L415.45 280.8L415.08 281.26L415.01 281.82L414.17 282.1L415.17 283.04L414.54 283.4L414.02 283.78L413.72 284.26L413.38 284.7L414.2 285.63L413.85 286.09L412.99 286.31M413.42 288.39L412.97 288.79L413.68 289.76L412.67 289.88L412.96 290.66L411.99 290.79L411.74 291.29L411.68 291.88L412.06 292.74L411.73 293.2L411.95 293.98L411.25 294.23L410.79 294.61L409.85 294.69L410.77 295.93L409.88 296.03L410.04 296.81L408.72 296.61L409.4 297.75L408.64 297.92M406.22 298.3L406.49 299.18L405.71 299.27L405.94 300.14L404.97 300.06L405.22 300.96L404.77 301.3L404.52 301.8L404.43 302.44L403.31 302.2L403.38 302.99L402.68 303.09L402.85 303.99L402.39 304.31L401.94 304.63L401.37 304.84L400.62 304.86L400.91 305.92L400.57 306.36L400.14 306.71L399.1 306.41L399.19 307.3L398.63 307.5L398.38 308.03L397.92 308.34M397.37 310.36L396.79 310.54L396.24 310.74L396.1 311.47L394.87 310.8L394.41 311.09L394.37 311.95L393.58 311.82L393.78 313.04L392.66 312.42L392.88 313.7L391.85 313.19L391.31 313.37L391.35 314.43L390.81 314.62L390.12 314.57L389.79 315.08L389.27 315.3L389.09 316.08L388.26 315.77L387.8 316.07L387.25 316.23L386.72 316.41L386.42 317.02L385.52 316.5L385.42 317.51L385.08 318.06M383.61 319.04L382.94 318.93L382.42 319.16L382.18 320.01L381.85 320.71L381.32 320.92L380.41 320.19L380.19 321.2L379.69 321.49L378.98 321.24L378.64 321.97L377.77 321.22L377.31 321.62L376.86 322.06L376.41 322.55L375.75 322.33L375.14 322.29L374.83 323.27L374.09 322.75L373.55 322.95L372.93 322.82L372.48 323.34L372 323.81M369.86 322.22L369.19 321.65L368.93 323.19L368.21 322.33L367.75 322.84L367.31 323.58L366.6 322.58L366.03 322.49L365.53 322.81L364.98 322.84L364.56 323.98L363.96 323.58L363.35 322.96L362.84 323.39L362.32 323.83L361.74 323.4L361.21 323.67L360.71 324.64L360.12 324.01L359.56 323.75M357.85 325.45L357.28 325.57L356.71 324.66L356.14 325.27L355.58 324.82L354.99 325.38L354.43 325.09L353.84 325.43L353.3 324.87L352.79 324.12L352.23 324.01L351.61 324.66L351.03 324.69L350.6 323.44L349.99 323.83L349.47 323.49L348.88 323.62L348.25 324.07L347.77 323.45L347.19 323.56L346.64 323.42L346.23 322.53L345.6 322.86M343.9 322.53L343.32 322.61L342.96 321.75L342.19 322.59L341.91 321.47L341.33 321.54L340.59 322.17L340 322.21L339.73 321.16L338.95 321.84L338.84 320.36L337.9 321.5L337.73 320.25L337.3 319.84L336.43 320.68L336.22 319.64L335.4 320.28L335.29 319.03L334.72 319L334.09 319.11L333.74 318.52L333.02 318.84L332.59 318.45L331.85 318.76L331.51 318.19L330.71 318.6M328.16 319.78L327.69 319.43L327.44 318.67L326.99 318.3L326.78 317.51L326.2 317.37L325.81 316.91L325.37 316.54L324.59 316.74L324.36 316.02L323.56 316.24L323.27 315.64L322.61 315.6L322.78 314.31L321.71 314.89L321.56 314.1L321.03 313.89L320.94 313.03L320.12 313.21L319.96 312.47L319.26 312.47L318.97 311.91L318.98 311L318.43 310.79M315.83 311.18L315.53 310.65L314.98 310.42L314.99 309.56L314.47 309.29L314.1 308.86L313.46 308.72L313.8 307.54L312.99 307.57L312.91 306.86L312.21 306.77L312.23 305.97L311.95 305.46L311.59 305.04L310.54 305.26L310.8 304.26L309.9 304.31L309.75 303.7L309.97 302.78L309.34 302.58L309.67 301.59L308.3 302L308.36 301.23L308.69 300.27L307.92 300.17L307.68 299.67L307.19 299.34L307.39 298.52L306.37 298.57L306.46 297.83M306.65 295.62L307.03 294.72L306.18 294.63L305.65 294.31L305.28 293.89L305.99 292.83L304.67 292.97L305.11 292.08L304.07 292.05L303.9 291.51L303.87 290.9L302.99 290.75L302.81 290.21L302.25 289.88L302 289.38L302.22 288.65L301.71 288.28L301.51 287.77L301.6 287.12L301.18 286.7L300.9 286.22L301.03 285.56L300.71 285.1L299.63 284.93M297.94 283.71L297.97 283.11L297.67 282.63L297.32 282.17L298.06 281.35L297.24 281.04L296.28 280.75L297.19 279.91L296.63 279.5L297.01 278.82L296.57 278.37L295.57 278.06L296.55 277.25L295.27 276.99L295.11 276.46L294.85 275.94L295.6 275.22L294.46 274.89L295.14 274.18L294.89 273.67L294.01 273.26L294.49 272.61L294.16 272.1L294.89 271.43L294.93 270.87M294.94 269.09L295.82 268.45L294.79 268L295.24 267.4L296.01 266.79L295.27 266.3L295.91 265.72L295.64 265.19L296.38 264.61L295.3 264.11L295.44 263.56L295.82 263.01L295.73 262.47L296.34 261.92L296.74 261.39L296.54 260.85L296.01 260.3L296.37 259.78L297.12 259.27L297.07 258.74L296.83 258.19M296.02 256.41L296.62 255.92L295.62 255.25L296.89 254.84L296.11 254.18L296.2 253.63L297.06 253.19L296.88 252.6L296.38 251.96L297.1 251.51L297.61 251.05L296.92 250.35L298.16 250.03L297.32 249.3L298.46 248.98L298.49 248.43L298.84 247.95L298.56 247.32L298.43 246.72L298.93 246.28L299.88 245.98L298.93 245.14L299.55 244.75L300.09 244.34L299.83 243.69L301.13 243.54L300.67 242.82M298.43 240.21L299.42 239.99L298.99 239.22L299.42 238.8L299.11 238.06L299.56 237.64L299.64 237.07L299.69 236.48L299.8 235.91L299.57 235.18L300.58 235.03L300.77 234.5L301.09 234.03L301.38 233.55L300.6 232.51L300.72 231.93L301.98 231.97L301.89 231.27L301.4 230.35M303.33 229.41L304.43 229.42L304.96 229.08L304.95 228.4L304.87 227.67L305.71 227.55L305.66 226.83L305.64 226.12L305.64 225.41L306.54 225.35L306.84 224.86L306.86 224.16L307.43 223.87L307.67 223.33L307.97 222.84L307.45 221.67L307.66 221.09L308.93 221.38L308.36 220.14L308.63 219.6L309.17 219.29L309.89 219.14L309.64 218.12M312.57 218.45L313.81 218.89L313.53 217.81L314.16 217.66L315.36 218.1L315.77 217.73L315.67 216.81L316.64 217.06L316.59 216.18L317.06 215.87L317.96 216.07L318.2 215.51L318.93 215.53L318.79 214.48L319.5 214.48L319.93 214.14L320.48 213.96L321.47 214.37L321.22 213.12L321.81 213L322.54 213.07L322.97 212.74L323.55 212.62M323.47 209.41L323.76 208.8L324.48 208.87L325.12 208.84L325.21 207.88L325.43 207.13L326.04 207.03L326.91 207.42L327.19 206.74L327.64 206.36L328.15 206.1L328.73 205.99L329.21 205.66L329.6 205.16L329.99 204.64L330.74 204.89L331.09 204.28L331.68 204.18L332.54 204.71L332.98 204.29L333.47 203.99M335.58 204.62L335.74 203.44L336.4 203.62L337.11 203.95L337.48 203.31L337.9 202.81L338.79 203.74L339.11 202.9L339.5 202.27L340.28 202.95L340.62 202.08L341.19 202.04L341.91 202.6L342.51 202.72L342.82 201.63L343.5 202.07L344.06 202.05L344.57 201.77L345.03 201.27M346.58 200.02L347.26 200.72L347.75 200.26L348.37 200.63L348.86 200.18L349.38 199.81L349.95 199.9L350.45 199.31L351.05 199.68L351.52 198.76L352.11 198.98L352.68 199.1L353.2 198.32L353.79 198.73L354.37 199.08L354.88 197.74L355.46 197.77L356.03 197.48L356.61 198.26L357.18 198.22L357.75 197.48M359.4 201.84L359.94 201.94L360.44 202.63L361 202.24L361.55 201.99L362.16 201.12L362.6 202.34L363.21 201.64L363.67 202.39L364.37 201.04L364.88 201.36L365.45 201.26L365.99 201.35L366.41 202.2L366.97 202.12L367.47 202.43L368.15 201.69L368.57 202.41L369.15 202.28L369.7 202.33L370.48 201.28L371 201.51L371.39 202.3L372.18 201.35L372.44 202.59L372.99 202.68L373.63 202.4M376.05 200.4L376.46 200.98L377.09 200.84L377.4 201.73L377.76 202.38L378.3 202.54L379.12 201.9L379.51 202.45L380.15 202.34L380.35 203.39L380.88 203.53L381.34 203.89L382.2 203.27L382.6 203.75L382.76 204.78L383.59 204.28L383.64 205.5L384.38 205.21L384.72 205.78L385.53 205.39L385.97 205.76L386.41 206.11L386.53 207.06L386.87 207.58L387.76 207.11L388.25 207.36L388.19 208.57L389.26 207.82L389.75 208.08L389.77 209.1L390.33 209.24M391.61 210.46L391.99 210.87L392.7 210.8L392.95 211.4L393.04 212.21L393.97 211.85L394.34 212.27L394.75 212.64L395.28 212.84L395.59 213.33L396.15 213.5L397.04 213.28L397.64 213.42L397.7 214.21L398.55 214.07L398.31 215.19L399.15 215.06L399.84 215.13L400.34 215.41L400.4 216.17L400.62 216.73L401.9 216.21L401.98 216.93L402.48 217.23L402.59 217.9L402.78 218.49M404.12 219.64L404.22 220.3L404.67 220.63L404.8 221.24L405.35 221.49L404.97 222.52L406.3 222.13L406.15 222.97L406.49 223.39L406.32 224.21L406.52 224.74L407.56 224.63L407.9 225.07L408.13 225.58L407.92 226.39L408.5 226.65L409.14 226.87L409.27 227.44L409.89 227.69M408.07 230.87L409.21 230.83L409.44 231.35L409.19 232.14L409.98 232.34L410.65 232.61L411.25 232.93L410.53 233.95L411.43 234.12L412.14 234.4L411.55 235.33L412.91 235.3L413.29 235.76L412.78 236.62L412.9 237.19L413.11 237.72M414.57 238.96L415.07 239.34L414.71 240.06L415.44 240.36L414.86 241.15L415.34 241.55L414.57 242.38L415.31 242.69L414.89 243.39L415.18 243.85L416.29 244.07L415.42 244.88L415.81 245.32L416.26 245.75M418.09 247.06L418.93 247.43L418.54 248.09L418.08 248.76L418.64 249.2L418.48 249.8L419.38 250.19L417.96 251.02L418.13 251.54L417.94 252.13L418.61 252.57L419.18 253.04L418.86 253.65L417.82 254.33L418.4 254.81L418.07 255.39" fill="none" stroke="#23a0b4" stroke-width="1.1" stroke-linejoin="round"/>
<path d="M420.01 263.41L420.59 263.98L420.15 264.51L419.89 265.05L420.97 265.66L420.48 266.19L420.88 266.77L419.96 267.25L420.32 267.84L419.81 268.34L420.57 268.97L419.57 269.41L420.14 270.04L419.92 270.57L419.49 271.06L419.04 271.55L419.54 272.18L419.49 272.73L419.82 273.35L418.8 273.72L418.66 274.25L418.72 274.82L419.32 275.51L418.36 275.86L418.81 276.53L417.8 276.85L417.73 277.39L418.49 278.15L418.03 278.6M417.39 280.24L416.43 280.54L416.5 281.14L416.12 281.61L416.05 282.17L415.21 282.47L416.2 283.41L415.57 283.78L415.04 284.18L414.75 284.66L414.4 285.12L415.22 286.05L414.86 286.52L414 286.75M414.42 288.86L413.96 289.26L414.67 290.24L413.65 290.38L413.94 291.16L412.96 291.3L412.71 291.81L412.64 292.41L413.02 293.27L412.69 293.75L412.9 294.54L412.19 294.79L411.73 295.18L410.79 295.27L411.7 296.52L410.8 296.63L410.96 297.42L409.63 297.23L410.31 298.37L409.55 298.55M407.1 298.95L407.37 299.84L406.59 299.94L406.81 300.81L405.83 300.75L406.07 301.65L405.62 302L405.36 302.51L405.26 303.16L404.14 302.93L404.2 303.72L403.5 303.83L403.66 304.73L403.2 305.06L402.73 305.39L402.16 305.61L401.4 305.64L401.68 306.7L401.34 307.15L400.91 307.5L399.86 307.21L399.94 308.11L399.37 308.31L399.11 308.85L398.65 309.16M398.07 311.2L397.48 311.39L396.92 311.6L396.78 312.33L395.55 311.67L395.08 311.97L395.02 312.84L394.23 312.71L394.42 313.93L393.3 313.32L393.5 314.61L392.47 314.1L391.92 314.28L391.95 315.35L391.4 315.55L390.7 315.5L390.36 316.02L389.84 316.24L389.64 317.03L388.81 316.72L388.34 317.03L387.78 317.19L387.25 317.38L386.94 318L386.03 317.47L385.92 318.49L385.57 319.04M384.07 320.04L383.39 319.94L382.87 320.17L382.61 321.02L382.28 321.73L381.73 321.94L380.81 321.21L380.59 322.22L380.08 322.52L379.36 322.27L379.01 323.01L378.13 322.26L377.66 322.67L377.2 323.11L376.74 323.6L376.07 323.38L375.45 323.35L375.13 324.33L374.38 323.81L373.84 324.01L373.2 323.88L372.74 324.41L372.26 324.88M370.08 323.29L369.4 322.73L369.14 324.27L368.41 323.41L367.93 323.93L367.49 324.66L366.76 323.67L366.19 323.58L365.67 323.9L365.12 323.93L364.69 325.07L364.08 324.67L363.46 324.05L362.94 324.48L362.41 324.92L361.82 324.5L361.28 324.77L360.77 325.73L360.17 325.11L359.6 324.85M357.86 326.55L357.28 326.67L356.7 325.76L356.12 326.37L355.55 325.92L354.95 326.48L354.38 326.19L353.78 326.53L353.23 325.97L352.71 325.22L352.14 325.1L351.51 325.75L350.92 325.79L350.48 324.54L349.86 324.93L349.33 324.58L348.73 324.71L348.09 325.16L347.6 324.53L347.01 324.64L346.45 324.51L346.03 323.61L345.39 323.94M343.66 323.61L343.07 323.68L342.7 322.82L341.92 323.66L341.64 322.53L341.04 322.61L340.29 323.23L339.7 323.27L339.42 322.22L338.63 322.89L338.51 321.41L337.56 322.55L337.38 321.29L336.94 320.88L336.06 321.72L335.84 320.67L335.01 321.31L334.89 320.06L334.32 320.02L333.67 320.13L333.32 319.54L332.58 319.85L332.15 319.46L331.4 319.76L331.05 319.19L330.24 319.6M327.67 320.76L327.19 320.41L326.93 319.65L326.47 319.27L326.24 318.47L325.66 318.33L325.26 317.86L324.81 317.49L324.03 317.68L323.79 316.96L322.98 317.17L322.68 316.57L322.02 316.52L322.18 315.23L321.1 315.81L320.94 315.01L320.4 314.79L320.3 313.92L319.47 314.1L319.3 313.36L318.6 313.35L318.3 312.79L318.3 311.86L317.74 311.65M315.12 312.02L314.81 311.49L314.25 311.25L314.25 310.38L313.73 310.11L313.36 309.67L312.71 309.52L313.04 308.34L312.22 308.36L312.13 307.64L311.43 307.54L311.44 306.74L311.15 306.22L310.79 305.79L309.73 306L309.99 305L309.08 305.04L308.92 304.43L309.14 303.49L308.5 303.29L308.82 302.29L307.45 302.69L307.5 301.92L307.82 300.95L307.05 300.84L306.8 300.33L306.31 300L306.5 299.17L305.47 299.21L305.56 298.46M305.74 296.23L306.11 295.32L305.25 295.22L304.71 294.89L304.34 294.46L305.04 293.39L303.72 293.53L304.16 292.63L303.11 292.59L302.93 292.04L302.91 291.42L302.01 291.26L301.83 290.72L301.27 290.37L301.01 289.87L301.23 289.13L300.71 288.75L300.51 288.23L300.59 287.57L300.18 287.14L299.89 286.65L300.02 285.99L299.69 285.51L298.61 285.34M296.9 284.08L296.93 283.48L296.63 282.99L296.28 282.52L297.01 281.69L296.19 281.37L295.23 281.08L296.14 280.22L295.57 279.8L295.95 279.11L295.51 278.66L294.51 278.34L295.49 277.51L294.2 277.25L294.04 276.7L293.78 276.18L294.52 275.44L293.38 275.1L294.06 274.39L293.8 273.87L292.93 273.45L293.4 272.79L293.07 272.27L293.8 271.59L293.84 271.02M293.85 269.22L294.73 268.56L293.7 268.1L294.14 267.5L294.91 266.88L294.17 266.38L294.81 265.78L294.55 265.24L295.28 264.66L294.21 264.14L294.34 263.58L294.72 263.02L294.63 262.47L295.24 261.92L295.64 261.38L295.44 260.83L294.91 260.27L295.28 259.73L296.02 259.22L295.97 258.68L295.74 258.12M294.92 256.31L295.52 255.8L294.53 255.13L295.8 254.7L295.02 254.04L295.11 253.47L295.97 253.03L295.8 252.43L295.29 251.78L296.02 251.32L296.53 250.85L295.84 250.14L297.08 249.81L296.25 249.07L297.39 248.74L297.42 248.18L297.77 247.69L297.49 247.05L297.37 246.44L297.87 245.99L298.82 245.68L297.88 244.83L298.49 244.43L299.04 244.02L298.78 243.36L300.09 243.2L299.63 242.47M297.4 239.82L298.4 239.59L297.96 238.82L298.4 238.38L298.09 237.64L298.54 237.21L298.63 236.63L298.69 236.03L298.8 235.45L298.57 234.71L299.58 234.56L299.79 234.02L300.1 233.54L300.4 233.05L299.63 232.01L299.75 231.41L301.02 231.44L300.93 230.74L300.45 229.8M302.39 228.84L303.5 228.84L304.03 228.49L304.03 227.81L303.95 227.07L304.8 226.94L304.75 226.21L304.74 225.49L304.74 224.77L305.65 224.71L305.96 224.21L305.99 223.5L306.55 223.2L306.8 222.65L307.11 222.15L306.6 220.98L306.81 220.39L308.08 220.68L307.53 219.43L307.81 218.87L308.35 218.56L309.07 218.4L308.83 217.37M311.78 217.68L313.03 218.11L312.76 217.03L313.4 216.87L314.6 217.3L315.02 216.93L314.93 216L315.91 216.24L315.86 215.35L316.34 215.04L317.25 215.24L317.5 214.66L318.23 214.68L318.1 213.62L318.81 213.62L319.25 213.27L319.81 213.08L320.81 213.49L320.57 212.23L321.17 212.1L321.9 212.17L322.34 211.83L322.93 211.71M322.88 208.48L323.17 207.86L323.9 207.94L324.55 207.9L324.65 206.93L324.88 206.18L325.5 206.08L326.38 206.45L326.67 205.78L327.12 205.39L327.64 205.12L328.24 205.01L328.72 204.67L329.12 204.17L329.52 203.65L330.28 203.89L330.64 203.27L331.24 203.17L332.1 203.7L332.55 203.28L333.05 202.97M335.19 203.59L335.36 202.41L336.03 202.59L336.75 202.91L337.13 202.27L337.56 201.77L338.45 202.69L338.78 201.85L339.19 201.21L339.98 201.9L340.32 201.02L340.9 200.98L341.64 201.54L342.25 201.65L342.56 200.56L343.25 201L343.82 200.97L344.34 200.69L344.82 200.19M346.39 198.94L347.08 199.63L347.58 199.17L348.21 199.54L348.71 199.09L349.24 198.72L349.82 198.81L350.33 198.21L350.94 198.58L351.42 197.66L352.02 197.89L352.6 198L353.13 197.22L353.73 197.64L354.32 197.98L354.84 196.65L355.43 196.67L356 196.38L356.6 197.16L357.18 197.12L357.76 196.38M359.44 200.74L359.99 200.84L360.5 201.53L361.07 201.14L361.63 200.89L362.25 200.02L362.7 201.24L363.31 200.55L363.79 201.29L364.5 199.95L365.02 200.27L365.59 200.17L366.14 200.26L366.58 201.11L367.15 201.03L367.66 201.35L368.35 200.61L368.78 201.33L369.37 201.2L369.92 201.25L370.72 200.2L371.24 200.44L371.64 201.23L372.44 200.28L372.71 201.53L373.27 201.62L373.92 201.34M376.36 199.35L376.79 199.93L377.43 199.79L377.74 200.68L378.12 201.34L378.66 201.5L379.49 200.86L379.9 201.42L380.54 201.31L380.75 202.36L381.29 202.51L381.76 202.87L382.63 202.26L383.04 202.74L383.2 203.78L384.04 203.28L384.1 204.5L384.86 204.21L385.2 204.79L386.02 204.41L386.47 204.78L386.92 205.13L387.05 206.09L387.4 206.61L388.29 206.14L388.79 206.4L388.74 207.62L389.82 206.87L390.32 207.14L390.35 208.16L390.92 208.3M392.22 209.54L392.61 209.96L393.32 209.9L393.58 210.5L393.68 211.32L394.62 210.96L394.99 211.39L395.41 211.76L395.95 211.97L396.27 212.46L396.84 212.64L397.73 212.43L398.34 212.57L398.41 213.37L399.26 213.24L399.03 214.37L399.89 214.24L400.58 214.31L401.09 214.6L401.15 215.37L401.38 215.94L402.67 215.42L402.76 216.15L403.26 216.45L403.38 217.13L403.57 217.73M404.94 218.91L405.04 219.56L405.5 219.9L405.64 220.52L406.19 220.78L405.82 221.82L407.16 221.44L407.01 222.28L407.35 222.71L407.19 223.54L407.39 224.08L408.45 223.98L408.78 224.42L409.02 224.93L408.82 225.76L409.4 226.02L410.05 226.25L410.18 226.83L410.81 227.09M409 230.29L410.15 230.26L410.39 230.79L410.14 231.59L410.94 231.79L411.61 232.08L412.21 232.41L411.5 233.44L412.41 233.61L413.12 233.9L412.53 234.84L413.9 234.82L414.28 235.29L413.78 236.16L413.9 236.74L414.12 237.28M415.59 238.55L416.09 238.94L415.74 239.67L416.47 239.98L415.89 240.77L416.38 241.18L415.61 242.02L416.35 242.34L415.93 243.05L416.23 243.52L417.34 243.74L416.47 244.57L416.87 245.02L417.32 245.45M419.16 246.79L420 247.17L419.61 247.84L419.16 248.52L419.72 248.98L419.55 249.58L420.46 249.98L419.04 250.82L419.21 251.35L419.03 251.95L419.7 252.4L420.27 252.88L419.95 253.5L418.91 254.19L419.49 254.68L419.16 255.27" fill="none" stroke="#c4201a" stroke-width="1.25" stroke-linejoin="round"/>
<defs><linearGradient id="gr" x1="0" y1="0" x2="0" y2="1"><stop offset="0" stop-color="#8f2423"/><stop offset="0.25" stop-color="#b96a68"/><stop offset="0.5" stop-color="#e3d2d2"/><stop offset="0.62" stop-color="#efefef"/><stop offset="1" stop-color="#fff"/></linearGradient>
<linearGradient id="gb" x1="0" y1="0" x2="0" y2="1"><stop offset="0" stop-color="#1b8597"/><stop offset="0.25" stop-color="#5ba9b5"/><stop offset="0.5" stop-color="#cfdfe2"/><stop offset="0.62" stop-color="#efefef"/><stop offset="1" stop-color="#fff"/></linearGradient></defs>
<rect x="489" y="174" width="10.2" height="67.8" fill="url(#gr)" stroke="#111" stroke-width="0.6"/>
<rect x="488.3" y="273" width="10.3" height="69" fill="url(#gb)" stroke="#111" stroke-width="0.6"/>
<text x="501" y="176.2" font-size="4.4" fill="#222">112000</text>
<text x="501" y="243.6" font-size="4.4" fill="#222">12400</text>
<text x="500.6" y="275.4" font-size="4.4" fill="#222">110000</text>
<text x="500.6" y="343.8" font-size="4.4" fill="#222">15000</text>
</g>
</svg></body></html>
